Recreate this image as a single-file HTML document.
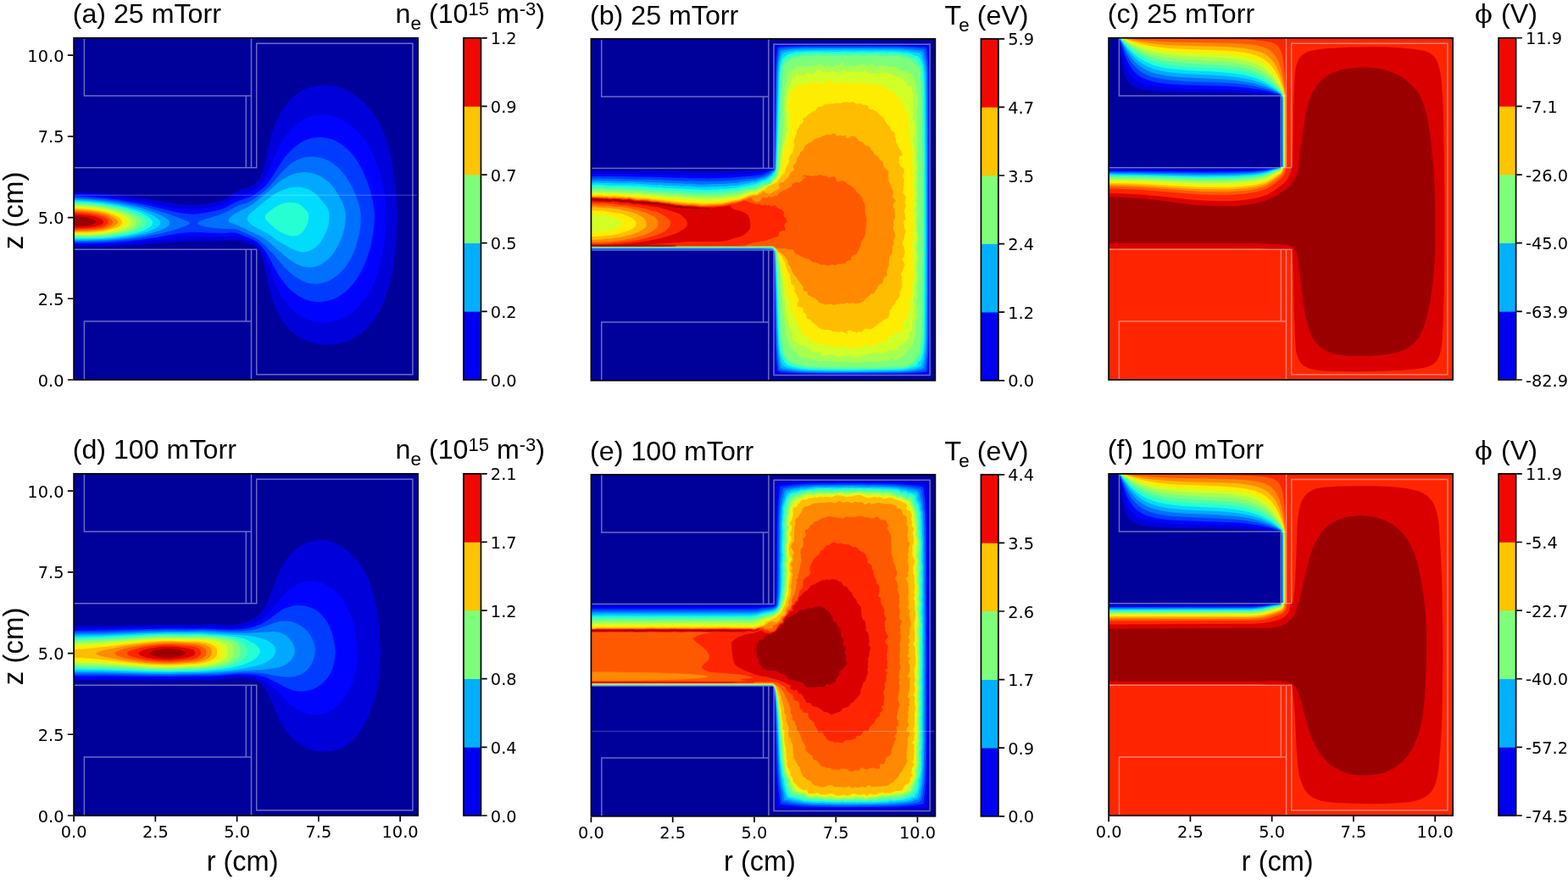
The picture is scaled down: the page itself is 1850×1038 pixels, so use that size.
<!DOCTYPE html>
<html lang="en"><head><meta charset="utf-8"><title>Plasma contour plots</title><style>html,body{margin:0;padding:0;background:#fff;}body{width:1850px;height:1038px;overflow:hidden;}svg{display:block;}text{white-space:pre;}</style></head><body>
<svg width="1850" height="1038" viewBox="0 0 1850 1038"><rect width="1850" height="1038" fill="#fff"/><g><clipPath id="c00"><rect x="87.10" y="44.80" width="406.00" height="403.20"/></clipPath>
<g clip-path="url(#c00)">
<rect x="86.10" y="43.80" width="408.00" height="405.20" fill="#00009b"/>
<path fill="#0000da" d="M376.8,406.2L381.8,406.7L385.8,406.8L394,406.3L402.1,404.8L406.6,403.5L410.3,402.2L417.1,399L421,396.8L423.8,394.8L430,390L433.4,386.9L436.1,384L441.5,377.2L445.6,371L449.8,363L453.9,353.6L457.6,342.8L460.5,332L463,319.9L465.1,306.4L466.8,291.6L468.1,274L468.7,257.9L468.5,244.4L467.5,229.5L465.1,208L462.9,193.1L460.1,179.6L458.4,172.9L456.4,166.6L452.4,155.6L448.3,146.7L445.6,141.7L442.9,137.2L437.4,129.5L434.7,126.2L430.6,121.8L424.6,116.3L421.1,113.6L417.1,110.8L412.6,108.2L407.6,105.8L403.5,104.1L399.3,102.8L394,101.5L389.9,100.9L385.8,100.5L380.4,100.4L376.3,100.7L371.3,101.4L365.9,102.8L362,104.1L358.7,105.6L353.9,108.2L351.8,109.5L347.8,112.5L345,114.9L341,119L338.3,122.2L335.6,125.8L332.9,130L330.2,134.7L326.1,143.1L322,153.6L319.3,162.4L316.6,173L312,194.5L309.8,202.6L308.2,206.6L305.7,211.2L304.1,213.4L301.6,216L299.9,217.4L297.6,219L294.9,220.2L288.1,222.3L281.3,225L275.8,227.9L266.3,234L263.6,235.4L261.4,236.3L256.8,237.5L250.1,239L239.2,240.8L229.7,241.5L221.5,241.4L213.4,240.8L205.2,239.8L168.6,234L140.1,230.4L123.8,228.7L112.9,227.8L87.1,226.2L87.1,290.8L118.3,290.7L140.1,290L167.2,288.5L199.8,285.9L213.4,285L225.6,284.5L243.3,284.5L259.5,284.2L263.6,284L274.5,282.9L277.2,283L279.9,283.5L294.7,287.5L298,288.9L300.3,290.2L301.9,291.6L304.5,294.3L307.1,298.1L308.5,301L309.8,304.5L311.1,309.5L316.9,337.4L318.6,344.2L320.7,351.3L323.4,359.2L326.1,365.7L328.8,371.2L332.9,378.1L336.9,383.7L341,388.3L346.5,393.2L351.9,397.2L358.4,400.8L364.1,403.1L369.8,404.8Z"/>
<path fill="#0004ff" d="M380.6,380.6L384.5,380.5L388.5,380.2L395.3,378.8L402.1,376.5L408.9,373.2L412.3,371.1L415.7,368.7L421.1,364.1L426.6,358.4L431.3,352.3L436.1,344.6L440.1,336.5L443.6,328L446.8,318.5L449.6,307.8L451.6,298.3L453.3,287.5L454.7,275.4L455.6,263.3L455.9,253.8L455.7,245.7L454.9,236.3L453.2,225.5L450.8,213.4L447.9,202.6L444.2,191.7L440.3,182.3L436.1,174L431.3,166.2L426.6,159.8L421.1,153.8L415.7,148.9L410.3,144.9L403.5,140.9L396.7,138.1L394,137.2L389.9,136.2L384.5,135.4L377.7,135.3L372.3,136L368.2,137L365.5,137.9L361.4,139.5L358.7,140.9L353.2,144.2L347.8,148.4L342.4,153.8L337.7,159.4L332.9,166.6L329.3,172.9L325.4,181L322,189.1L316.8,202.6L314.5,208L313.1,210.7L311.3,213.4L308.4,216.8L303,221.7L300.3,223.7L297.6,225.4L293.5,227.2L285.3,229.8L279.9,231.9L275.8,234L266.3,239.6L263.6,240.9L259.5,242.3L248.7,244.7L236.5,246.6L228.3,247.1L221.5,246.9L213.4,246.1L205.2,244.9L167.2,237.4L148.2,234.5L137.3,233.1L121,231.2L104.8,229.9L87.1,228.9L87.1,288.5L104.8,288.5L121,288.2L149.6,286.8L168.6,285.1L209.3,280.3L222.9,279.3L228.3,279.2L243.3,279.4L259.5,279.4L263.6,279.2L274.5,278.4L277.2,278.5L279.9,279.1L286.7,281.5L296.2,284.4L298.9,285.5L301.6,287.2L303.8,288.9L306.4,291.6L308.6,294.3L311.1,298.3L313.1,302.4L315.1,307.8L322,327.5L324.7,334.3L328,341.5L331.5,347.9L335.6,354.3L339.7,359.6L343.7,364.1L347.8,367.8L351.9,370.9L356,373.5L361.4,376.3L366.8,378.3L370.9,379.4L376.3,380.3Z"/>
<path fill="#003cff" d="M365.6,355L370.9,355.9L373.6,356.2L377.7,356.2L383.1,355.6L389.9,353.9L392.6,353L396.7,351.2L402.1,348.2L407.6,344.2L412,340.1L417.1,334.3L421.5,328L425.5,321.2L429.5,313.2L432.8,305.1L435.9,295.6L437.9,287.5L439.8,278.1L441,268.7L441.7,259.2L441.8,252.5L441.3,245.7L440,237.6L437.7,228.2L434.9,218.8L432,210.9L427.9,201.6L424.1,194.5L419.9,187.7L415.7,182.1L411,177L406.2,172.7L400.8,168.9L395.3,166L391.3,164.3L385.8,162.8L380.4,162L375,162L369.5,162.6L365.5,163.6L360,165.6L356,167.6L351.9,170.2L347.8,173.3L343.7,177L339.7,181.3L335.6,186.3L331.5,192.1L320.7,209.3L317,214.7L314.8,217.4L312.5,219.9L307.5,224.1L300.3,229.4L297.6,231L294.9,232.3L284,235.9L278.6,238L275.8,239.4L267.7,244L263.6,245.9L258.2,247.7L250,249.5L239.2,251.6L232.4,252.5L227,252.7L221.5,252.3L214.7,251.4L209.3,250.4L168.6,240.7L149.6,237.2L138.7,235.6L119.7,233.2L102,231.8L87.1,231L87.1,286.8L104.8,286.7L121,286.4L138.7,285.4L150.9,284.4L168.6,282.4L188.9,279.2L209.3,275.6L217.5,274.6L224.2,273.9L231,273.8L243.3,274.4L259.5,274.9L263.6,274.9L273.1,274.3L275.8,274.4L278.6,274.8L282.6,276.1L288.1,278.5L296.2,281.5L298.9,282.8L303,285.3L305.7,287.5L308.3,290.2L310.6,292.9L314.5,298.3L317.6,303.7L323.4,315.3L327.4,322.5L332.9,330.6L338.3,337.3L341,340.2L345.1,344L347.8,346.1L351.9,349L354.6,350.6L358.7,352.6L362.7,354.1Z"/>
<path fill="#0070ff" d="M368.5,334.7L373.6,334.9L379,334.2L384.5,332.6L388.5,330.9L392.6,328.6L397.3,325.3L401.9,321.2L405.6,317.2L408.9,313L412.3,307.8L415.2,302.4L417.6,297L420.1,290.2L422.4,282.1L423.9,275.4L425.1,268.7L425.6,263.3L425.8,257.9L425.6,252.5L424.8,247.1L423.6,241.7L421.9,236.3L419.4,229.5L416.4,222.8L413.7,217.4L410.4,212L406.7,206.6L403.4,202.6L399.4,198.3L395.3,194.7L391.3,191.8L387.2,189.5L381.8,187.1L377.7,185.9L372.3,184.9L368.2,184.7L364.1,184.9L358.7,185.8L354.6,187L350.5,188.7L346.5,191L343.7,192.8L338.3,197.2L332.9,202.6L318.9,218.8L314.9,222.8L308.4,228.2L301.6,233.3L297.6,236.1L294.9,237.6L292.1,238.9L282.6,242.1L278.6,243.7L267.7,249.6L263.6,251.6L259.5,253.2L239.9,259.2L236.5,260.6L233.9,261.9L232.7,263.3L233.8,264.6L236.9,266L241.9,267.3L244.6,267.8L250.4,268.7L260.9,269.8L265,270L273.1,270L275.8,270.1L278.6,270.6L281.3,271.4L284,272.5L300.3,280.1L303,281.6L305.7,283.5L309,286.2L311.8,288.9L321.1,298.3L330.2,309.1L335.6,315.2L341,320.4L345.1,323.9L347.8,325.9L351.9,328.6L357.3,331.5L362.7,333.6L365.5,334.3ZM87.1,285.3L99.3,285.3L112.9,285.1L123.8,284.7L138.7,283.6L149.6,282.6L167.2,280.2L190.3,275.4L204.8,271.3L217.3,267.3L220.6,266L222.8,264.6L223.7,263.3L222.6,261.9L220.2,260.6L217.1,259.2L202.3,253.8L193,250.6L186.2,248.4L171.3,244.1L165.9,242.8L149.6,239.4L138.7,237.6L123.8,235.5L106.1,233.9L87.1,232.8Z"/>
<path fill="#00a8ff" d="M357.9,314.5L362.7,315.3L366.8,315.4L370.9,314.8L375,313.6L379,311.7L383.1,309.1L387.2,305.7L390.4,302.4L394,297.8L397.1,292.9L400,287.5L402.9,280.8L404.8,275L406.5,268.7L407.6,261.9L408,256.5L407.9,252.5L407.3,248.4L406.2,244.4L404.6,240.3L401.3,233.6L397.4,226.8L394,221.8L390.4,217.4L387.7,214.7L384.5,211.9L380.4,209.2L376.3,207L372.3,205.4L368.2,204.2L364.1,203.5L360,203.2L357.3,203.3L353.2,203.7L350.5,204.2L346.5,205.3L342.4,206.8L339.7,208.1L334.2,211.2L331.5,213.1L327.4,216.2L316.9,225.5L297.6,241.2L292.1,244.5L279.9,250.4L276.5,252.5L274.7,253.8L271.7,256.5L270.5,257.9L269.7,259.2L269.6,260.6L270.6,261.9L273.2,263.3L279.9,265.5L285.3,267.9L294.8,272.7L304.4,277.1L309.8,280L314.8,283.5L336.9,302.5L342.4,306.7L346.5,309.5L350.5,311.8L354.6,313.5ZM87.1,283.9L100.7,283.9L114.3,283.6L123.8,283.2L138.7,282L149.6,280.7L165.9,278.1L171.9,276.7L181.9,274L188.9,271.8L193.2,270L195.7,268.7L197.7,267.3L199.2,266L200.1,264.6L200.4,263.3L200.2,261.9L199.5,260.6L198.3,259.2L196.6,257.9L192.3,255.2L189.6,253.8L183,251.1L175.5,248.4L168.6,246.1L163.1,244.6L150.9,241.8L141.4,240L123.8,237.2L106.1,235.5L87.1,234.4Z"/>
<path fill="#00dcfe" d="M353.5,297L357.3,297.4L360,297.3L362.7,296.7L365.8,295.6L369.5,293.6L372.3,291.7L375,289.3L377.7,286.2L380.4,282.3L382.7,278.1L384.6,274L386.6,268.7L387.7,264.6L388.3,260.6L388.5,256.5L388.4,252.5L388,249.8L387.1,247.1L384.9,243L376.3,232.4L373.6,229.7L370.9,227.4L368.2,225.5L365.5,224L362.7,222.8L360,221.9L357.3,221.2L353.2,220.6L350.5,220.5L346.5,220.7L342.4,221.3L339.7,221.9L332.9,224.2L327.2,226.8L320.9,230.9L313.9,236.3L296.1,251.1L293.6,253.8L292.7,255.2L292,256.5L291.7,257.9L291.8,259.2L292.4,260.6L293.3,261.9L294.6,263.3L298,266L300.1,267.3L316.6,276.1L319.3,277.9L327.4,283.9L342.4,292.4L347.8,295.1L350.5,296.1ZM87.1,282.6L98,282.6L110.2,282.4L122.4,282L140.1,280.3L149.6,279L154.6,278.1L164.5,276.1L168.6,275.1L175.6,272.7L182.1,270L184.6,268.7L186.2,267.6L188,266L188.9,264.6L189.3,263.3L189.2,261.9L188.6,260.6L187.6,259.2L186.1,257.9L182.1,255.2L176.9,252.5L170.9,249.8L167.2,248.4L152.3,244.2L138.7,241.3L122.4,238.7L104.8,237L87.1,235.9Z"/>
<path fill="#26ffd1" d="M87.1,281.4L92.5,281.4L107.5,281.3L121,280.7L138.7,278.9L150.9,277L157.7,275.4L165.9,273.2L169.9,271.7L173.5,270L177.5,267.3L178.9,266L179.7,264.6L180.1,263.3L180.1,261.9L179.6,260.6L178.7,259.2L177.5,257.9L174.1,255.2L169.6,252.5L166.7,251.1L163.1,249.8L150.2,245.7L138.7,243L121,240L104.8,238.4L87.1,237.4ZM341.7,278.1L345.1,278.6L349.2,278.3L351.9,277.4L353.2,276.7L355,275.4L356.4,274L358.7,271.4L361.2,267.3L363,263.3L363.9,259.2L364.2,255.2L364.1,252.5L363.7,251.1L362.7,249.4L356.1,243L354.4,241.7L351.9,240.3L350.5,239.8L346.5,239L342.4,238.8L338.3,239.1L333.2,240.3L328.8,242.1L324.6,244.4L317.2,249.8L314.3,252.5L313.4,253.8L312.9,255.2L312.8,256.5L313.2,257.9L313.9,259.2L314.9,260.6L317.6,263.3L325.3,270L328.8,272.5L331.6,274L337.6,276.7Z"/>
<path fill="#50ffa7" d="M87.1,280.3L104.8,280.2L119.7,279.6L125.1,279.1L137.3,277.6L149.6,275.4L159.2,272.7L163.2,271.3L167.2,269.6L169.9,267.8L171.7,266L172.5,264.6L172.9,263.3L172.9,261.9L172.5,260.6L171.8,259.2L170.8,257.9L169.4,256.5L167.2,254.9L164.5,253.4L159.2,251.1L152.3,248.5L148.2,247.3L138.7,244.8L126.5,242.4L121,241.5L104.8,239.8L87.1,238.8Z"/>
<path fill="#7dff7a" d="M87.1,279.1L102,279L114.3,278.6L123.8,278L140.1,275.6L148.2,273.8L152.2,272.7L155.8,271.3L161.7,268.7L163.9,267.3L165.4,266L166.4,264.6L166.9,263.3L166.9,261.9L166.5,260.6L165.9,259.5L164.5,257.9L162.9,256.5L158.4,253.8L150.9,250.3L140.1,246.9L125.1,243.6L118.3,242.6L103.4,241.1L87.1,240.2Z"/>
<path fill="#a7ff50" d="M87.1,278L102,277.9L112.9,277.5L123.8,276.7L138.7,274.2L149.4,271.3L152.8,270L155.3,268.7L157.3,267.3L158.8,266L159.9,264.6L160.4,263.3L160.5,261.9L160.1,260.6L159.3,259.2L158.1,257.9L154.8,255.2L152.6,253.8L148.2,251.8L138.6,248.4L125.1,245.2L118.3,244L103.4,242.5L87.1,241.6Z"/>
<path fill="#d1ff26" d="M87.1,276.7L103.4,276.7L118.3,275.9L125.1,275.2L137.3,272.8L141.4,271.7L146.2,270L149.5,268.7L150.9,267.8L153.2,266L154.2,264.6L154.7,263.3L154.8,261.9L154.5,260.6L153.8,259.2L152.7,257.9L151.3,256.5L149.6,255.4L146.6,253.8L141.4,251.5L136.4,249.8L125.1,246.8L118.3,245.5L103.4,243.9L87.1,242.9Z"/>
<path fill="#feed00" d="M87.1,275.7L91.2,275.7L107.5,275.4L119.7,274.5L126.5,273.5L137.3,270.9L140.2,270L143.2,268.7L145.6,267.3L147.5,266L148.2,265.3L148.8,264.6L149.5,263.3L149.6,261.9L149.3,260.6L148.4,259.2L147.1,257.9L143.4,255.2L141.1,253.8L137.3,252.2L125.2,248.4L118.6,247.1L108,245.7L98,244.9L87.1,244.3Z"/>
<path fill="#ffbd00" d="M87.1,274.5L106.1,274.2L118.3,273.3L125.1,272.2L134.6,269.6L137.4,268.7L140.2,267.3L142,266L143.1,264.6L143.8,263.3L143.9,261.9L143.6,260.6L142.9,259.2L141.8,257.9L140.2,256.5L138,255.2L131.7,252.5L123.8,249.8L117.1,248.4L106.7,247.1L98,246.3L87.1,245.8Z"/>
<path fill="#ff8900" d="M87.1,273.2L103.4,273L114.3,272.3L122.4,271.2L127,270L130.7,268.7L133.9,267.3L136,266.1L137.9,264.6L138.7,263.3L138.9,261.9L138.6,260.6L137.7,259.2L136.3,257.9L134.3,256.5L129.2,253.8L126.1,252.5L122.4,251.3L115.6,249.9L106.1,248.6L96.6,247.8L87.1,247.3Z"/>
<path fill="#ff5900" d="M87.1,271.9L103.4,271.6L112.9,270.9L121,269.7L125.1,268.6L128,267.3L130.2,266L131.8,264.6L132.7,263.3L133,261.9L132.7,260.6L131.8,259.2L130.5,257.9L128.7,256.5L125.1,254.5L121,252.9L112.9,251.2L104.8,250.1L95.2,249.3L87.1,248.9Z"/>
<path fill="#ff2500" d="M87.1,270.5L88.5,270.5L104.8,270L114.3,268.9L119.7,267.9L121.9,267.3L123.8,266.5L124.8,266L126.5,264.6L127.4,263.3L127.7,261.9L127.4,260.6L126.6,259.2L125.4,257.9L123.4,256.5L120.4,255.2L115.6,253.8L108.6,252.5L103.4,251.8L95.2,251L87.1,250.6Z"/>
<path fill="#da0000" d="M87.1,268.8L91.2,268.8L100.7,268.5L106.1,268L111.1,267.3L117,266L119.7,264.8L121.7,263.3L122.2,261.9L121.8,260.6L121,259.6L118.6,257.9L115.3,256.5L111.5,255.5L107.5,254.6L102,253.7L93.9,252.9L87.1,252.6Z"/>
<path fill="#9b0000" d="M87.1,266.7L88.5,266.7L96.6,266.4L103.4,265.9L109.1,264.6L112,263.3L113,261.9L112.6,260.6L110.9,259.2L107.8,257.9L106.1,257.4L102.4,256.5L99.3,256.1L92.5,255.3L87.1,255Z"/>
<path d="M83.2,197.7L302.7,197.7L302.7,51.3L486.9,51.3L486.9,441.7L302.7,441.7L302.7,294.2L83.2,294.2M99.4,41.0L99.4,113.0L296.5,113.0M296.5,41.0L296.5,197.7M290.3,113.0L290.3,197.7M99.4,451.8L99.4,379.1L296.5,379.1M296.5,451.8L296.5,294.2M290.3,379.1L290.3,294.2" fill="none" stroke="#fff" stroke-opacity="0.42" stroke-width="1.5"/>
<line x1="87.1" x2="493.1" y1="230.2" y2="230.2" stroke="#fff" stroke-opacity="0.28" stroke-width="1"/>
</g>
<rect x="87.10" y="44.80" width="406.00" height="403.20" fill="none" stroke="#000" stroke-width="1.70"/>
<text x="75.5" y="455.5" text-anchor="end" font-family='"DejaVu Sans", "Liberation Sans", sans-serif' font-size="19.4" fill="#000">0.0</text>
<text x="75.5" y="359.8" text-anchor="end" font-family='"DejaVu Sans", "Liberation Sans", sans-serif' font-size="19.4" fill="#000">2.5</text>
<text x="75.5" y="264.0" text-anchor="end" font-family='"DejaVu Sans", "Liberation Sans", sans-serif' font-size="19.4" fill="#000">5.0</text>
<text x="75.5" y="168.3" text-anchor="end" font-family='"DejaVu Sans", "Liberation Sans", sans-serif' font-size="19.4" fill="#000">7.5</text>
<text x="75.5" y="72.6" text-anchor="end" font-family='"DejaVu Sans", "Liberation Sans", sans-serif' font-size="19.4" fill="#000">10.0</text>
<text transform="translate(27.3,248.4) rotate(-90)" text-anchor="middle" font-family='"Liberation Sans", sans-serif' font-size="33.0" fill="#000">z (cm)</text>
<path d="M79.85,448.00h6.40M79.85,352.27h6.40M79.85,256.55h6.40M79.85,160.82h6.40M79.85,65.09h6.40" stroke="#000" stroke-width="1.70" fill="none"/>
<text x="85.7" y="26.8" font-family='"Liberation Sans", sans-serif' font-size="32.2" fill="#000">(a) 25 mTorr</text>
<rect x="546.96" y="367.06" width="20.50" height="81.24" fill="#0000f1"/>
<rect x="546.96" y="286.42" width="20.50" height="81.24" fill="#00b0ff"/>
<rect x="546.96" y="205.78" width="20.50" height="81.24" fill="#7dff7a"/>
<rect x="546.96" y="125.14" width="20.50" height="81.24" fill="#ffc400"/>
<rect x="546.96" y="44.50" width="20.50" height="81.24" fill="#f10800"/>
<rect x="546.96" y="44.80" width="20.50" height="403.20" fill="none" stroke="#000" stroke-width="1.70"/>
<text x="578.8" y="52.3" font-family='"DejaVu Sans", "Liberation Sans", sans-serif' font-size="19.4" fill="#000">1.2</text>
<text x="578.8" y="132.9" font-family='"DejaVu Sans", "Liberation Sans", sans-serif' font-size="19.4" fill="#000">0.9</text>
<text x="578.8" y="213.6" font-family='"DejaVu Sans", "Liberation Sans", sans-serif' font-size="19.4" fill="#000">0.7</text>
<text x="578.8" y="294.2" font-family='"DejaVu Sans", "Liberation Sans", sans-serif' font-size="19.4" fill="#000">0.5</text>
<text x="578.8" y="374.9" font-family='"DejaVu Sans", "Liberation Sans", sans-serif' font-size="19.4" fill="#000">0.2</text>
<text x="578.8" y="455.5" font-family='"DejaVu Sans", "Liberation Sans", sans-serif' font-size="19.4" fill="#000">0.0</text>
<path d="M568.31,44.80h6.40M568.31,125.44h6.40M568.31,206.08h6.40M568.31,286.72h6.40M568.31,367.36h6.40M568.31,448.00h6.40" stroke="#000" stroke-width="1.70" fill="none"/>
<text x="643.0" y="27.4" text-anchor="end" font-family='"Liberation Sans", sans-serif' font-size="32.2" fill="#000">n<tspan font-size="22.5" dy="8.0">e</tspan><tspan dy="-8.0"> </tspan>(10<tspan font-size="22" dy="-9.8">15</tspan><tspan dy="9.8"> m</tspan><tspan font-size="22" dy="-9.8">-3</tspan><tspan dy="9.8">)</tspan></text></g>
<g><clipPath id="c10"><rect x="697.40" y="45.80" width="406.00" height="403.00"/></clipPath>
<g clip-path="url(#c10)">
<rect x="696.40" y="44.80" width="408.00" height="405.00" fill="#00009b"/>
<path fill="#0000da" d="M921.3,441.7L934.1,441.8L1000.6,441.9L1070.2,441.9L1095.9,441.6L1096.2,441.4L1096.3,440.3L1096.6,396.7L1096.6,100L1096.3,53.2L1095.9,52.8L1055.2,52.7L942.7,52.7L921.3,52.8L913.8,53.2L913.4,84.1L913.1,197.9L912.7,198.6L905.2,199.5L896.7,200.8L883.8,201.3L854.9,201.9L827,202.1L745.6,201.5L697.4,201.3L697.4,294.8L896.7,294.8L910.6,295.1L912.7,295.4L912.9,295.7L913,296.7L913,303.1L913.4,404.1L913.8,440.3L914.9,441.2Z"/>
<path fill="#0004ff" d="M954.8,441.4L1062.7,441.3L1084.1,440.9L1094.8,440.5L1095.2,440.3L1095.5,439.2L1095.9,428L1096.1,398.8L1096.1,107.5L1095.9,68.7L1095.3,54.3L1094.8,53.9L1076.6,53.4L1061.6,53.2L940.6,53.2L921.3,53.5L918.1,54.1L915.9,54.7L915.5,55.4L914.7,67.1L914.3,78.8L913.5,196.8L913.5,197.9L913.1,198.9L912.7,199.3L909.2,200L902,202.4L897.7,203.6L896.7,203.7L888.1,204.5L867.7,205.8L849.5,206.4L834.5,206.5L815.2,206.4L747.7,205.2L697.4,204.8L697.4,294.3L897.7,294.3L910.6,294.6L912.7,295.1L913.1,295.7L913.2,296.7L913.4,304.2L914.2,409.5L914.7,426.5L915.6,439.2L915.9,439.6L918.7,440.3L921.3,440.7Z"/>
<path fill="#003cff" d="M940.4,440.3L957.7,440.6L984.5,440.7L1062.7,440.6L1073.8,440.3L1086.3,439.5L1092.7,438.9L1093.8,438.2L1095.1,420.1L1095.6,393.5L1095.7,248.9L1095.5,110.7L1095.4,88.3L1094.9,72.4L1093.5,56.4L1092.7,55.7L1076.6,54.7L1058.4,54.2L951.3,54.2L936.3,54.4L922.4,55L920.2,55.3L917.5,56.4L917.1,57.5L915.9,69L915.2,83L913.8,198.8L912.7,199.8L909.6,201L904.1,203.8L902,204.7L897.7,206.2L889.2,207.6L881.7,208L873.1,208.8L862.4,209.6L857,209.7L852.7,210.1L839.9,210.2L834.5,210.5L827,210.2L816.3,210.3L805.6,209.8L794.9,209.8L790.6,209.5L785.2,209.4L781,209L774.5,209.1L761.7,208.6L755.2,208.7L730.6,208.1L697.4,207.9L697.4,293.9L897.7,293.9L910.6,294.3L912.7,294.8L913.3,295.7L913.5,296.7L913.7,303.1L915,407.3L915.8,423.3L917.1,437.1L918.1,438.1L921.3,439.2Z"/>
<path fill="#0070ff" d="M942.8,439.2L957.7,439.7L986.6,440L1061.6,439.6L1071.8,439.2L1082,438.3L1090.5,437L1091.6,436.5L1091.8,436L1092.8,429.7L1093.8,420.1L1094.4,407.3L1094.6,393.5L1094.9,253.1L1094.7,123.4L1094.4,91.5L1093.9,77.7L1093.3,71.3L1092.5,66L1091.2,58.6L1090.5,58L1083,57L1076.4,56.4L1058.4,55.6L978.1,55.4L950.2,55.5L937.4,55.9L928.7,56.4L921.3,57.2L920.2,57.6L919.1,58.3L919,58.6L918.2,62.8L917,71.9L916.5,77.7L916.2,84.1L914.2,198.9L913.8,199.8L912.7,200.6L906.3,204.9L904.1,206.1L899.9,208L898.1,208.5L895.6,208.9L890.2,210.4L883.8,210.7L868.8,212.4L863.4,212.7L849.5,213.8L845.2,213.7L834.5,214L831.3,213.8L824.9,214L813.1,213.5L808.8,213.7L804.5,213.3L800.2,213.3L797,213.1L793.8,213.2L789.5,212.8L785.2,212.8L778.8,212.1L774.5,212.3L762.7,211.6L752,211.7L744.5,211.4L739.2,211.4L724.2,210.8L713.5,210.8L707,210.5L700.6,210.8L697.4,210.6L697.4,293.5L897.7,293.6L910.6,293.9L912.7,294.5L913.5,295.7L913.7,296.7L914.1,305.3L915.4,388.2L915.9,406.4L916.9,421.2L918.8,435L919.1,436.1L921.3,437.1L930.9,438.3Z"/>
<path fill="#00a8ff" d="M947.1,438.2L960.9,438.7L993.1,439L1039.1,438.8L1061.6,438.5L1069.1,438.1L1078.8,436.9L1083.4,436L1088.4,434.8L1089.6,433.9L1091.4,425.4L1092.4,418L1093.1,408.4L1093.5,396.7L1093.9,330.8L1093.9,203.2L1093.5,114.9L1093.2,89.4L1092.6,79.8L1091.6,72.6L1090.1,66L1088.9,61.7L1088.4,60.6L1082,59.2L1072.3,58.2L1062.7,57.5L1050.9,57.2L1020.9,57L971.6,57.1L945.9,57.3L937.4,57.7L928.8,58.6L923.4,59.5L922.4,59.7L921.3,60.2L920.1,62.8L918.7,70.3L917.8,76.6L917.3,84.1L916.8,99L915.1,186.2L914.7,198.9L913.8,200.7L907.4,206.4L905.2,207.8L900.9,209.8L895.6,211L891.3,212.7L887,212.9L882.7,213.8L875.2,214.5L868.8,215.9L862.4,215.9L855.9,216.8L840.9,216.9L828.1,217.7L818.5,217.2L814.2,216.7L809.9,216.9L801.3,216.3L786.3,216L778.8,215.2L774.5,215.2L771.3,214.9L760.6,214.6L756.3,214.3L752,214.3L745.6,213.8L734.9,214.1L724.2,213.5L721,213.5L716.7,213.3L712.4,213.4L703.8,213.1L697.4,213.5L697.4,293.2L897.7,293.2L910.6,293.6L911.6,293.8L912.7,294.3L913.7,295.7L914,296.7L914.4,304.2L916.3,387.1L917,406.3L918.1,419.1L919,425.4L920.2,431.9L920.9,433.9L921.3,434.3L923.4,435L928.8,436.1L934.1,436.9Z"/>
<path fill="#00dcfe" d="M952.3,437.1L966.3,437.6L999.5,437.9L1043.4,437.5L1061.6,437.2L1070.2,436.4L1078.4,435L1084.1,433.2L1087.1,431.8L1087.3,431.1L1087.9,428.6L1089.4,424.3L1090.9,415.8L1091.7,406.3L1092.2,395.6L1092.6,362.7L1092.8,307.4L1092.8,241.5L1092.7,188.3L1092.1,110.7L1091.9,94.7L1091.6,87.7L1090.7,78.8L1089.7,73.4L1087.3,66.2L1086.3,63.9L1085.2,62.7L1082,61.9L1076.6,61.4L1071.3,60.3L1057.3,59.2L1040.2,59L1026.3,59.1L1016.6,58.9L1008.1,59L1002.7,58.8L988.8,59L979.1,58.9L974.9,59.1L969.5,58.9L962,58.9L940.6,59.4L938.4,59.6L934.1,60.5L929.9,61.1L924.5,62.4L923.7,62.8L922.4,64.9L921.3,67.2L920.4,70.3L919.1,77.3L918.5,85.1L917.9,100L915.6,188.3L915.1,198.9L914.9,200L913.8,202L910.6,205.6L906.3,209.1L902,211.5L898.8,212L895.6,213.2L892.4,214.6L891.3,214.9L888.1,215L883.8,216.3L877.4,217.2L867.7,218.9L861.3,218.9L858.1,219.8L855.9,220.1L851.7,219.8L849.5,219.8L846.3,220.3L840.9,220L837.7,220.4L834.5,220.4L831.3,220.7L820.6,220.5L813.1,219.6L807.7,219.5L803.5,219.8L800.2,219.3L796,218.9L785.2,219.1L778.8,218.1L774.5,218.2L771.3,217.9L768.1,218L764.9,217.6L761.7,217.6L754.2,216.8L749.9,216.7L745.6,216.3L733.8,216.6L730.6,216.3L727.4,216.4L716.7,215.8L712.4,216L702.8,215.5L697.4,215.9L697.4,292.9L897.7,292.9L910.6,293.2L911.6,293.4L912.7,294L913.9,295.7L914.3,296.7L914.7,303.1L915.4,322.3L917,380.7L917.9,403.1L918.9,414.8L920.7,424.3L922,428.6L922.4,429.5L923.2,430.7L924.4,431.8L926.7,432.9L929.9,434L936.3,435.3L942.7,436.2Z"/>
<path fill="#26ffd1" d="M959.8,436L981.3,436.5L1008.1,436.6L1049.8,436.1L1060.6,435.7L1065.9,435.3L1072.3,434.3L1081,431.8L1082.3,430.7L1082.9,429.7L1083,428.3L1083.5,427.5L1086.3,424.6L1087,423.3L1087.3,422.4L1089.1,415.8L1090,408.4L1090.6,399.9L1090.8,391.4L1091.2,365.9L1091.5,296.7L1091.6,230.8L1091.1,155.3L1090.4,96.8L1089.7,86.2L1088.9,78.8L1087.4,73.4L1085.2,69L1084.6,68.1L1083,66.5L1082,66.1L1080.9,65.9L1073.4,63.2L1072.3,62.9L1069.1,62.6L1065.9,62.6L1061.6,61.7L1050.9,61L1046.6,61.3L1041.3,60.8L1038.1,61L1033.8,60.9L1027.3,61.2L1023.1,60.9L1019.8,61.1L1016.6,60.8L1013.4,61L1011.3,60.9L1008.1,61.4L1003.8,60.9L1000.6,61.1L996.3,60.8L987.7,61.2L979.1,60.9L974.9,61.4L969.5,60.7L966.3,61L962,60.7L958.8,61L950.2,61.1L943.8,61.7L940.6,61.4L939.5,61.6L935.2,63.1L930.9,63.8L926.6,66.1L925.6,67L923.4,69.2L922.4,71.3L921.8,74.5L920.4,78.8L919.6,88.3L916.2,187.2L915.6,198.9L914.9,201.7L913.8,203.8L911.9,206.4L907.4,210.4L903.1,213.1L899.5,213.8L897,214.9L894.5,215.6L892.4,216.8L890.2,217.6L882.7,219L876.3,219.9L867.7,221.8L863.4,221.9L855.9,223L852.7,222.8L846.3,223.5L840.9,223.5L835.6,223.9L822.7,223.4L819.5,223.5L814.2,223.1L811,223.1L806.7,222.6L798.1,222.4L793.8,222L788.5,221.8L783.1,222L778.8,221.1L773.5,221.2L761.7,219.9L757.4,219.8L753.1,219.2L746.7,219.5L741.3,219L733.8,219L730.6,218.7L719.9,219L706,217.8L697.4,218.2L697.4,292.6L897.7,292.6L910.6,292.8L911.6,292.9L912.7,293.7L914.2,295.7L914.6,296.7L915.1,302.1L915.8,315.9L917.7,372.2L918.7,396.7L919.1,403.2L920.2,413.2L920.7,415.8L921.7,419L923.3,423.3L925.1,426.5L927.4,429.7L929.5,430.7L935.2,433L936.3,433.2L939.5,433.5L942.7,434.5L954.5,435.7Z"/>
<path fill="#50ffa7" d="M976.2,435L994.1,435.3L1001.6,435.1L1008.1,435.2L1013.4,434.9L1017.7,435.1L1035.9,434.9L1048.8,434.3L1053.1,434.3L1058.4,433.9L1064.8,433.9L1069.1,433.3L1070.9,432.9L1073.4,431.8L1077.7,430.3L1078.8,429.7L1079.9,428.6L1082.1,424.3L1084.6,421.2L1086.3,418L1087.1,415.8L1087.4,412.6L1088.1,409.5L1088.4,406.6L1088.9,401L1089,395.6L1089.4,391.4L1089.2,380.7L1089.6,374.4L1089.9,358.4L1089.8,352L1089.5,346.7L1089.8,342.5L1090.1,316.9L1090,282.9L1090.3,245.7L1089.8,174.5L1089.4,166L1089.7,155.3L1089.5,150L1089.4,142.6L1089.1,137.2L1089.3,128.7L1088.9,112.8L1089,101.1L1088.7,95.8L1088,92.6L1088,89.4L1087.1,79.8L1086.3,77.7L1082.7,73.4L1081.5,70.3L1080.9,69.4L1079.8,69L1075.5,68.3L1074.5,67.8L1072.3,66.2L1071.3,65.8L1065.9,65.2L1062.7,63.9L1061.6,63.6L1058.4,63.8L1055.2,63.4L1050.9,63.1L1046.6,63.8L1045.6,63.7L1042.3,62.7L1041.3,62.7L1038.1,63.2L1033.8,62.6L1030.6,63L1027.3,63.1L1024.1,62.9L1019.8,63.3L1016.6,62.9L1013.4,63.2L1011.3,62.9L1008.1,63.2L1004.8,63.1L1000.6,64.1L999.5,64.1L996.3,63.1L995.2,63L992,63.4L988.8,63.3L984.5,63.4L982.3,63.3L979.1,62.9L973.8,63.6L971.6,63.4L968.5,62.8L963.1,62.8L958.8,63.4L955.6,63.4L952.4,63L951.3,63.1L944.9,64.5L941.6,64.6L935.2,66L932,66.2L929.9,67.2L928.3,68.1L926.6,70.3L925.6,71.2L924.7,72.4L923.6,75.6L922.2,78.8L921.9,79.8L921.9,83L920.9,89.4L920.6,97.9L920.7,101.1L920.1,106.4L919,138.3L916.8,190.4L916.2,198.9L915.1,203.2L913.8,206.2L912.7,207.6L910.6,209.6L907.4,214.1L906.3,214.9L905.2,215.1L902,215.2L899.9,215.6L895.6,217.4L892.4,219.3L891.3,219.7L887,220.5L883.8,221.5L877.4,222.1L873,223.4L867.7,224.5L862.4,224.8L857,225.9L850.6,225.8L847.4,226.3L844.2,226.2L834.5,227L832.4,226.9L828.1,226.5L820.6,226.6L813.1,225.9L807.7,225.7L801.3,224.9L797,225.2L794.9,225.1L788.5,224.3L786.3,224.3L783.1,224.8L782,224.7L777.7,223.9L772.4,224L770.2,223.7L767,223.5L760.6,222.6L754.2,222.2L748.8,222.3L742.4,222L736,221.3L729.5,221.1L721,221.5L706,220.1L697.4,220.9L697.4,292.1L897.7,292.1L910.6,292.3L911.6,292.5L912.7,293.3L914.5,295.7L915.2,297.8L915.4,299.9L916.3,313.8L919.6,391.4L920.3,401L922.4,414.8L923.2,418L923.8,419L925.4,421.2L927.6,425.4L928.8,427L931.3,428.6L934.1,429.7L936.3,430.9L937.4,431.2L940.6,431.5L943.8,432.6L951.3,433.8L956.6,434.3L960.9,434.3Z"/>
<path fill="#7dff7a" d="M971.6,433L981.3,432.8L986.6,433.4L993.1,433.7L1001.6,433.3L1009.1,433.5L1014.5,432.9L1017.7,433.3L1022,433.4L1025.2,433.2L1038.1,433.2L1042.3,432.8L1044.5,432.8L1047.7,432.2L1052,432.4L1057.3,432.1L1064.8,432.1L1068,431.7L1070.2,431.1L1075.5,428.5L1077,427.5L1077.8,426.5L1078.9,424.3L1082.4,420.1L1084.1,417.3L1084.7,415.8L1085.3,409.5L1086.3,405.6L1086.7,403.1L1086.9,399.9L1086.8,397.8L1087.6,392.4L1087.2,385L1087.3,380.7L1087.8,376.5L1087.9,363.7L1088.3,357.4L1087.7,346.7L1088.3,342.5L1088.2,338.2L1087.9,335L1088.5,330.8L1087.9,323.3L1087.9,322.3L1088.4,320.1L1088.5,318L1088.2,311.6L1088.5,307.4L1088.2,304.2L1088.6,301L1088.5,296.7L1088.2,293.6L1088.4,289.3L1088.5,277.6L1088.1,274.4L1088.6,271.2L1088.6,264.8L1088.4,260.6L1088.7,253.1L1088.4,234L1088.6,226.6L1088.4,209.6L1088.6,203.2L1088.5,191.5L1088.2,187.2L1088.4,183L1088.2,176.6L1087.9,170.2L1087.3,166L1088,156.4L1087.5,152.1L1087.7,143.6L1087.2,133L1087.6,128.7L1087.2,118.1L1087.3,113.9L1087,109.6L1087,103.2L1086.5,95.8L1085.9,92.6L1086.3,89.4L1085.6,86.2L1085.3,83L1084.5,80.9L1084,79.8L1080.9,76.3L1079.8,75.4L1077.7,74.2L1076.8,73.4L1076.1,72.4L1074.5,70.7L1071.3,68.4L1070.2,67.9L1068,67.6L1064.8,67.5L1061.6,65.9L1060.6,65.8L1056.3,66.6L1055.2,66.6L1053.1,66.1L1050.9,66.1L1045.6,66.9L1041.3,65.9L1039.1,66.3L1038.1,66.2L1033.8,64.9L1030.6,65.5L1024.1,65.3L1019.8,66.5L1018.8,66.4L1015.6,65.4L1013.4,65.5L1010.2,65.3L1005.9,65.3L1003.8,65.8L1001.6,66.5L1000.6,66.6L995.2,65.4L994.1,65.3L992,65.7L988.8,65.7L985.6,66.5L984.5,66.5L978.1,65.2L971.6,65.9L965.2,65.1L963.1,65.3L958.8,66.6L957.7,66.7L955.6,66.4L952.4,65.6L951.3,65.7L948.1,66.5L942.7,66.8L939.5,67.9L933.1,69.1L932,69.5L931.1,70.3L929.9,72.5L928.8,73.4L926.6,74.8L926,75.6L924.4,78.8L924.1,79.8L923.9,84.1L922.8,90.5L922.7,92.6L922.3,96.8L922.6,101.1L921.9,106.4L921.8,110.7L921.2,116L921.3,122.4L920.4,135.1L920.6,138.3L920.2,141.5L920,147.9L919.1,156.8L918.8,171.3L918.1,178.7L917.8,191.5L917.5,194.7L917,196.8L916.6,202.1L915.9,204L915.4,206.4L914.3,208.5L911.6,211.4L909.9,214.9L908.8,215.9L907.4,216.7L904.1,217.4L903.1,217.3L902,217.5L897.7,218.8L894.5,221.1L891.3,222.5L890.2,222.6L888.1,222.5L887,222.7L883.8,223.7L877.4,224.6L873.1,225.9L866.7,227.2L859.2,228.2L851.2,228.7L847.4,229.4L844.2,229.2L840.9,229.6L836.7,229.4L832.4,229.6L828.1,229L823.8,229.8L822.7,229.8L819.5,229.3L808.8,228.8L804.5,228L799.2,227.5L793.8,227.9L791.7,227.7L787.4,227L783.1,227.1L776.7,226.4L773.5,226.4L767,226.1L761.7,225.6L758.5,224.9L756.3,224.7L752,224.9L745.6,224.2L741.3,224.4L737,224L734.9,224.1L731.7,223.8L718.8,223.7L709.2,222.7L697.4,223L697.4,291.5L911.6,291.6L914.6,294.6L914.9,295.7L915.7,296.7L915.9,302.1L916.5,304.2L916.7,306.3L917,316.3L917.7,322.3L918.1,337.1L918.5,341.4L918.9,347.8L919.1,358.8L919.9,365.9L920.1,374.4L920.6,381.8L921.1,386.1L921.3,393.5L921.6,395.6L921.9,399.9L922.4,403.2L924.5,411.6L924.9,415.8L925.5,418L928.7,422.2L929.9,424.4L930.9,425.4L936.3,427.5L938.4,428.9L939.5,429.4L943.8,429.8L947,430.7L950.3,431.8L954.5,431.9L957.7,432.3L960.9,432.2L964.1,432.7Z"/>
<path fill="#a7ff50" d="M1004,427.5L1005.9,427.7L1008.1,427.3L1009.1,427.3L1012.3,428L1016.6,427.1L1019.8,427L1026.3,426L1028.4,426.2L1030.6,426.8L1031.6,426.9L1034.8,426.8L1038.1,425.8L1041.3,426.1L1044.5,425.8L1046.6,426.1L1047.7,426L1048.8,425.4L1051.5,423.3L1053.1,422.8L1054.1,423.1L1056.3,424.2L1057.3,424.5L1058.4,424.4L1062.7,421.7L1065.9,420.6L1066.5,420.1L1068,416.9L1070.4,414.8L1071.6,412.6L1072.3,411.8L1074.5,410.6L1075.8,409.5L1076.4,408.4L1076.6,406.3L1077.8,404.1L1078.2,401L1080.9,394.6L1081,393.5L1080.5,391.4L1080.2,388.2L1080.3,387.1L1081.1,383.9L1080.5,381.8L1080.5,380.7L1082.3,375.4L1082.5,373.3L1081.9,370.1L1082.5,366.9L1082.5,365.9L1081.8,362.7L1081.5,359.5L1080.7,356.3L1080.9,355L1082.6,352L1082.7,349.9L1083.1,347.8L1083.1,346.7L1081.7,342.5L1081.7,341.4L1082.8,339.3L1082.8,338.2L1082.4,336.1L1082.5,335L1082.9,332.9L1083.8,330.8L1083.8,329.7L1083.1,326.5L1083.3,323.3L1082.9,320.1L1083.2,316.9L1083,315.9L1082.5,314.8L1082.5,313.8L1083.7,305.3L1083.7,301L1083.5,299.9L1082.6,297.8L1081.7,293.6L1082.8,288.2L1082.8,286.1L1083,285L1083.6,282.9L1083.7,278.7L1082.9,275.5L1082.8,274.4L1083.1,271.2L1082.5,269.1L1082.2,265.9L1081.4,262.7L1081.5,261.7L1082.6,259.5L1082.9,258.5L1082.7,255.3L1083.4,253.1L1083.5,252.1L1083.3,251L1082.3,248.9L1082,247.8L1082.2,246.8L1083.1,243.6L1083.3,241.5L1083,240.4L1081.9,238.3L1081.7,237.2L1082,236.1L1083.1,234L1083.4,232.9L1083,227.6L1082.9,221.2L1082.2,218.1L1082.1,217L1083.2,211.7L1083.2,209.6L1082.7,207.4L1082.6,205.3L1083.5,197.9L1083.3,191.5L1082,188L1081.6,186.2L1081.7,185.1L1082.4,183L1082.5,181.9L1081.9,178.7L1082.6,175.5L1083.1,171.3L1082.7,168.1L1082.7,163.8L1082.2,160.6L1082.9,157.4L1083,156.4L1082.8,153.2L1082.2,150L1082.1,147.9L1081.6,143.6L1082,142.1L1083.2,140.4L1083.5,139.4L1083.3,138.3L1081.6,136.2L1081.3,135.1L1081.9,131.9L1081.6,129.8L1081.8,128.7L1082.7,126.6L1083.1,124.5L1082.7,117L1083.4,113.9L1083.4,112.8L1083,111.7L1080.9,108.5L1080.6,107.5L1080.8,106.4L1082,104.3L1081.8,103.2L1080.7,101.1L1080.4,100L1079.2,94.7L1078.8,93.6L1076.9,90.5L1076.6,89.4L1076.7,88.3L1076.6,87.3L1075.5,86.6L1073.4,86.5L1072.3,86.2L1071.3,85.7L1069.1,84.1L1065.9,83L1064.8,82.9L1062.7,83.7L1061.6,83.3L1060,82L1056.9,78.8L1055.2,77.7L1054.1,77.7L1052,78.8L1049.8,79.1L1048.8,79.1L1047.7,78.8L1044.5,77.4L1041.3,76.8L1040.2,77L1034.8,78.8L1033.8,78.8L1030.6,76.4L1029.5,76.1L1027.3,76.2L1024.1,77.6L1023.1,77.7L1022,77.5L1020.9,76.9L1018.8,75.2L1017.7,75.1L1014.5,76.2L1012.3,76.6L1009.1,78L1008.1,78.1L1007,78L1004.8,77.2L1003.8,77L1000.6,77.9L999.5,77.9L996.3,76.9L994.1,76.9L993.2,76.6L995.2,76L995.4,75.6L995.6,74.5L994.9,73.4L994.1,73L993.1,73L992.6,73.4L992.3,74.5L992.2,75.6L991.2,76.6L988.8,77.1L987.7,76.9L985.6,76.2L984.5,76.6L983.4,78.2L982.6,78.8L981.3,78.9L980.2,78.6L978.1,77.4L977,77.2L974.9,77.9L973.8,78L970.6,77.1L969.9,76.6L969.1,75.6L968.4,73.1L967.8,73.4L967.6,74.5L966.4,76.6L965.2,77.4L964.1,77.6L960.9,76.8L959.9,76.8L957.7,77.5L955.6,78.6L953.4,77.9L950.2,78.7L949.1,78.7L945.9,78.3L940.6,79L939.5,79.3L938.5,79.8L937.4,81L935.2,82.4L934.9,83L933.7,84.1L933.1,84.4L930.9,84.5L929.9,85.1L929.5,86.2L929,89.4L929.4,92.6L929.3,94.7L928.8,96.3L927.3,97.9L926.9,99L926.7,101.1L925.8,104.3L925.7,105.3L925.6,111.7L924.3,116L924.3,118.1L924.8,122.4L924.7,125.5L924.2,128.7L924,133L924.2,135.1L925.1,138.3L925.1,139.4L924.5,142.6L925.1,145.8L923.6,154.3L923.6,160.6L923.1,163.8L922.9,167L922.4,170L921.6,172.3L920.9,176.6L920.7,180.8L919.1,196.9L917.6,205.3L916.8,207.4L915.7,209.6L912.7,212.4L911.1,214.9L910.2,215.9L908.4,217L906.1,218.1L903.1,218.8L900.9,220L897.7,221.2L894.5,222.9L892.4,224.3L890.2,224.7L888.1,224.4L887,224.5L882.7,226L880.6,226.5L878.4,226.8L872.5,228.7L866.7,229.8L863.4,230.1L859.2,230.2L853.8,231.5L848.4,232L844.2,232L839.9,232.3L830.2,232L827,231.6L823.8,232L819.5,231.7L817.4,231.8L812,231.6L805.6,230.7L801.3,230.5L798.1,230L794.9,230.4L792.7,230.4L785.9,229.8L778.8,228.8L773.5,228.9L769.2,228.1L761.7,227.9L758.5,227.2L755.2,226.8L746.7,227.2L740.2,226.8L737,226.3L733.8,226.5L727.4,225.9L715.6,225.6L710.3,225.2L706,225.4L699.5,225.2L697.4,225.4L697.4,291.3L912.7,291.3L915,293.6L915,294.6L916.1,295.7L916.3,297.8L917.2,298.9L917.6,304.2L918.6,309.5L919.1,313.3L919.7,319.1L920.2,322.5L920.4,326.5L921.1,331.8L921.3,342.5L922,346.7L922,349.9L922.1,352L923,355.2L923.1,356.3L923.1,359.5L923.7,365.9L923.6,369.1L923.9,372.2L924.1,373.3L925.5,377.6L925.4,380.7L926.7,383.9L926.9,385L926.9,388.2L927.2,390.3L926.7,393.5L927.4,395.6L928.8,397.8L929.9,400.4L930.3,402L930.5,405.2L932.9,409.5L935.2,411.6L935.9,412.6L936.3,413.7L937.3,414.8L938.4,415.3L938.9,415.8L940.6,417.8L942.8,420.1L943.8,421.4L944.9,422.3L947,423L948.1,423.3L950.2,422.7L951.3,422.7L953.4,423.2L956.6,423.5L958.8,424.2L963.1,425.1L966.3,426.3L967.4,426.4L970.6,425.3L971.6,425.3L973.8,425.7L977,425.4L980.2,425.9L983.4,426.9L984.5,427L988.8,427.1L992,426.6L995.2,426.9L998.4,426.7L1001.6,426.9Z"/>
<path fill="#d1ff26" d="M987.9,421.2L988.8,421.7L989.8,421.6L990.9,421.2L993.1,419.9L994.1,419.6L995.2,419.6L997.3,420.2L998.4,420.2L1002.7,418.8L1003.8,418.8L1005.9,419.9L1008.1,420.3L1010.2,421.5L1011.3,421.6L1019.8,418.5L1022,418.2L1025.5,416.9L1027.3,416.7L1029.5,416.7L1034.8,415.6L1035.9,415.7L1038.1,416.5L1039.1,416.5L1044.5,415.4L1047.7,413.5L1049.8,412.6L1050.9,412.4L1052,412.6L1054.1,414L1055.2,414.1L1056.3,413.8L1058,412.6L1059.5,411.2L1060,410.5L1060.5,408.4L1061.1,407.3L1061.6,407L1064.8,406.5L1065.9,406.1L1066.7,405.2L1067.4,403.1L1068,401.7L1069.1,401.2L1070.2,401.1L1071.3,400.7L1074,397.8L1074.7,396.7L1074.3,395.6L1072.8,394.6L1072.5,393.5L1073.4,392.1L1075.5,390.6L1075.7,390.3L1076.2,387.1L1077,383.9L1076.9,382.9L1076,380.7L1076,379.7L1076.8,377.6L1077.4,376.5L1078.8,375.2L1079.1,374.4L1079.2,373.3L1079,372.2L1078.1,369.1L1078.3,368L1078.9,366.9L1078.8,365.9L1078,364.8L1077.6,363.7L1078.1,362.7L1079,361.6L1079.5,360.5L1079.4,359.5L1077.7,356.3L1077.4,354.2L1077.5,353.1L1078.3,351L1078.5,348.8L1078.9,347.8L1079.6,346.7L1079.9,345.7L1079.7,344.6L1078.6,342.5L1078.3,341.4L1078.6,338.2L1079.8,335.4L1080.2,334L1080.3,331.8L1080.2,328.6L1080.8,323.3L1080.7,322.3L1080,320.1L1079.4,314.8L1080.3,308.4L1081.6,305.3L1081.7,304.2L1081.5,303.1L1080.6,301L1080.4,299.9L1080.5,296.7L1079.8,293.6L1079.8,291.4L1079.5,289.3L1079.5,288.2L1079.8,287.2L1081.3,284L1081.5,282.9L1081.3,280.8L1081.6,277.6L1080.9,274.8L1080,272.3L1080.3,267L1079.5,262.7L1079.6,261.7L1080.4,258.5L1079.6,255.3L1080.2,253.1L1080.3,252.1L1079.1,247.8L1078.9,245.7L1079.2,244.6L1080.9,242.5L1081,241.5L1080,239.3L1079.8,238.3L1079.9,234L1079.8,231.9L1080.6,228.7L1080.7,227.6L1080.6,226.6L1080.2,225.5L1079.4,224.4L1079,223.4L1079.7,220.2L1079.4,218.1L1079.4,217L1080.3,212.7L1080.2,210.6L1080.3,208.5L1079,202.1L1079.3,201L1081,198.9L1081,197.9L1080.8,196.8L1079.7,193.6L1080.1,189.3L1080,188.3L1079.3,186.2L1079.3,185.1L1080.3,183L1080.4,181.9L1080.3,180.8L1079.3,178.7L1079.1,177.7L1078.7,174.5L1079.1,171.3L1078.4,169.1L1077.1,163.8L1077.3,162.8L1078.6,160.6L1079.1,158.5L1079.9,156.4L1080,154.3L1079.7,150L1079.9,147.9L1079.8,146.8L1078.2,142.6L1077.7,141.5L1076.6,140.6L1076.2,139.4L1076.2,138.3L1077.3,136.2L1078.1,133L1078.1,131.9L1077.1,129.8L1077.7,126.6L1077.8,125.5L1077.5,123.4L1077.3,118.1L1077.4,117L1078,114.9L1078.1,113.9L1076.9,108.5L1075.3,105.3L1075.8,103.2L1075.7,102.2L1075.5,101.9L1074.5,101.6L1070.7,101.1L1070,100L1069.7,97.9L1068,96.9L1067,95.7L1064.8,92.3L1063.8,91.7L1061.6,91.6L1060.6,91.3L1058.7,90.5L1056.3,89L1054.1,88.5L1052,87.7L1049.8,87.2L1048.1,86.2L1046.6,85.1L1045,85.1L1042.3,86.2L1040.2,85.7L1039.1,85.7L1035.9,86.8L1034.8,86.9L1030.6,86.4L1026.3,86.7L1025.2,86.5L1024.1,85.9L1022,83.8L1020.9,83.7L1018.8,84.5L1017.7,84.6L1015.6,84.1L1014.5,84.2L1012.3,85.1L1009.1,84L1008.1,84.1L1004.8,84.6L1002.7,85.3L1001.6,85.2L1000.6,84.5L999.5,84.2L995.2,83.5L994.1,83.6L993.2,84.1L992,86.2L990.9,86.3L989.8,85.4L988.8,84.9L986.6,85.3L985.6,85.2L983.4,84.1L982.3,84L979.1,84.3L977,85.2L975.9,85.4L974.9,85.1L973.8,84.5L972.7,84.5L971.6,85L970.6,84.9L967.4,83.1L965.2,82.5L964.1,82.7L963.1,83.4L961.9,85.1L961.7,86.2L960.9,86.8L957.7,86.4L955.6,85.7L953.4,85.1L952.4,85.3L951.3,85.9L949.9,87.3L947,88.6L945.9,88.7L941.6,87.9L940.6,88.1L938.4,89.8L935.3,91.5L935,92.6L935.1,93.6L934.9,94.7L933.1,96.7L932.3,100L929.8,104.3L929.8,106.4L928.8,109.6L928.4,114.9L927.5,117L927.5,118.1L927.8,120.2L928,124.5L927.9,125.5L927,128.7L926.9,130.9L927.3,131.9L927.7,132.6L928.9,133L929.5,134.1L929,135.1L928,136.2L927.6,137.2L927.6,139.4L928.2,141.5L928.2,142.6L928,145.8L927.3,148.9L927.4,150L928.5,152.1L928.8,153.2L928.5,154.3L927,157.4L926.5,161.7L924.4,170.2L923.4,173.4L922.6,177.7L922.3,181.9L921.1,190.4L920.8,194.7L918.4,206.4L916.9,209.6L916,210.6L913.4,212.7L911,215.9L906.3,218.5L903.1,219.8L902.4,220.2L900.9,221.8L900,222.3L897.7,222.7L895.6,223.6L892.4,225.9L891.3,226.1L888.1,225.9L887,226.1L883.8,227.5L880.6,228.1L872,230.9L869.9,231.4L866.7,231.8L860.2,232.3L853.8,233.8L848.4,234.1L845.2,234L836.7,234.8L833.4,234.4L830.2,234.4L825.9,234L818.5,234L814.2,233.5L811,233.6L806.6,232.9L801.3,232.7L797,232.1L786.3,232L778.8,230.7L772.4,230.8L768.1,229.8L760.6,229.9L755.2,228.6L751,228.5L746.7,229L741.3,228.5L737,227.9L730.6,227.9L724.2,227.3L715.6,227.4L709.2,226.8L706,227.2L700.6,226.9L697.4,227.1L697.4,291.2L912.7,291.1L915.2,293.6L915.3,294.6L916.3,295.7L916.7,297.8L917.6,298.9L918.1,302.4L919.3,307.4L920.7,314.8L921.2,319.1L922,322.3L922.3,326.5L923.4,329.7L923.6,330.8L923.5,334L923.7,338.2L924.4,340.3L925.7,342.5L925.7,343.5L925.1,345.7L925,351L926,354.2L926.2,355.2L925.9,358.4L925.9,359.5L926.4,362.7L926.5,366.9L927.5,370.1L927.5,373.3L927.8,374.4L929.1,376.5L929.9,378.6L930.4,380.7L930.7,383.9L931.5,386.1L933.1,389.1L934.1,390L935,390.3L936.1,391.4L935.7,392.4L935,393.5L934.7,394.6L935.2,395.6L935.4,396.7L934.9,398.8L934.9,399.9L935.4,401L936.3,401.6L938.4,402.6L939.5,403.4L941.1,405.2L941.6,406.3L942.7,407.3L943.8,407.5L947,406.8L948.1,406.9L949.1,407.6L950.2,409.1L951.3,409.9L953.4,410.1L954.5,410.4L955.4,411.6L955.7,412.6L956.6,413.7L958.8,415.1L963.1,415.8L967.4,415.1L968.4,415.5L969,418L969.5,419L970.6,419.9L971.6,420.1L973.8,419.1L974.9,418.9L975.9,419.2L977,419.1L979.1,417.9L980.2,417.7L985.6,418.8L986.6,419.6Z"/>
<path fill="#feed00" d="M1001.6,411.2L1002.7,411.1L1004.8,410L1005.9,410L1008.1,410.6L1009.1,410.8L1010.2,410.8L1012.3,409.4L1013.4,409.2L1015.6,409.4L1016.6,409.3L1017.7,408.7L1019.8,407.1L1020.9,406.7L1022,406.8L1024.1,408.4L1025.2,408.6L1026.3,408.5L1028.4,407.9L1031.6,406.5L1033.8,406L1037.4,404.1L1039.1,403.5L1040.2,403.7L1041.3,404.3L1042.3,404.5L1043.4,404.4L1044.9,403.1L1045.9,401L1046.7,399.9L1048,398.8L1049.8,396.6L1052,396.1L1053.1,395.6L1053.8,394.6L1054.2,393.5L1055,392.4L1056.3,392.3L1058.4,392.8L1059.5,392.5L1061.6,391.3L1063.8,390.8L1064.3,390.3L1065.1,389.3L1065.3,388.2L1064.7,385L1065.5,380.7L1067,377.7L1068,376.5L1070.2,376L1070.7,375.4L1070.9,374.4L1070.9,369.1L1072.3,365.7L1073.7,363.7L1074.5,361.6L1074.7,360.5L1074.5,359.5L1072.6,356.3L1072.4,355.2L1074.2,352L1074.7,351L1075.1,348.8L1076.1,346.7L1076.2,345.7L1076.1,343.5L1075.4,340.3L1075.3,338.2L1075.8,334L1076.7,330.8L1077.7,324.4L1077,320.1L1077.8,313.8L1078,307.4L1077.7,306.1L1077.1,305.3L1075.5,304.1L1074.8,303.1L1074.6,302.1L1074.9,301L1075.5,300L1077.6,298.9L1078.5,297.8L1078.6,296.7L1078.1,295.7L1076.6,293.9L1075,290.4L1074.9,289.3L1075,288.2L1075.5,286.5L1076.6,285.1L1078.2,284L1078.9,282.9L1078.6,281.9L1077.7,279.4L1076.6,277.6L1076.5,276.5L1077.2,274.4L1077,272.3L1077.3,271.2L1078.4,269.1L1078.6,268L1077.9,262.7L1078.4,259.5L1078.2,258.5L1077.5,257.4L1077,256.3L1077.6,253.1L1077.6,252.1L1076.8,244.6L1076.9,243.6L1077.9,241.5L1078.2,237.2L1078.2,236.1L1077.2,232.9L1077.2,231.9L1078.3,228.7L1078.5,227.6L1078.1,226.6L1077.3,225.5L1077,224.4L1077.1,223.4L1077.8,221.2L1078,220.2L1077.8,219.1L1076.6,216.5L1075.5,215.4L1075.3,214.9L1075.3,213.8L1076.3,212.7L1076.9,211.7L1078.2,207.4L1077.7,205L1076.2,203.2L1075.8,202.1L1076.1,201L1077.4,198.9L1077.5,197.9L1077.4,196.8L1076.1,193.6L1076,191.5L1075.3,188.3L1075.2,185.1L1076,184L1077.2,183L1077.8,181.9L1077.5,180.8L1076.5,179.8L1076.2,178.7L1076.4,176.6L1074.6,171.3L1074.5,168.1L1073.2,161.7L1073.4,159.7L1073.7,158.5L1073.8,155.3L1073.3,151.1L1073.4,148.9L1073.2,147.9L1072.3,145.8L1072.3,143.6L1072,142.6L1070.7,140.4L1070.7,139.4L1072.3,137.2L1072.8,136.2L1073,135.1L1072.3,134.3L1070.2,133.6L1069.1,132.7L1068.5,130.9L1068.4,127.7L1068.1,126.6L1065.7,124.5L1065.3,123.4L1065,121.3L1063.3,119.2L1061.6,115.5L1060.6,114.8L1057.8,113.9L1057.3,113.3L1057.3,111.7L1056.9,110.7L1055.7,109.6L1055.2,109.3L1051.8,108.5L1047.8,105.3L1044.5,103.8L1043.8,103.2L1042.3,101L1041.3,100.5L1040.2,100.4L1038.1,100.7L1037,100.6L1032.7,99.8L1030.6,99.1L1027.3,99.6L1026.3,99.4L1024.1,98L1023.1,97.6L1022.4,97.9L1021.3,100L1020.9,100.4L1019.8,100.7L1018.5,100L1018.2,99L1019.9,96.8L1019.3,95.8L1018.8,95.7L1017.7,96.2L1016.6,97.2L1015.6,97.6L1013.4,97.8L1011.3,98.4L1010.2,98.4L1007,96.8L1005.9,96.9L1003.8,98.1L1002.7,98.4L999.5,97.9L997.3,98L996.3,97.9L995.2,97.3L994.1,96.4L993.1,96.2L990.9,96.7L987.7,98.2L986.6,98.2L985.2,97.9L983.4,97.2L981.3,95.4L980.2,94.8L979.1,94.7L978.1,95L974.9,97.1L971.6,97.9L969.5,97.9L965.2,97.3L963.1,97.5L962,97.5L959.9,96.7L958.8,96.6L953.4,97.8L951.3,99.4L949.1,99.9L945.9,100.9L942.7,100.3L941.6,100.3L940.6,100.6L939.9,101.1L938.3,103.2L936.1,105.3L935.7,106.4L935.6,107.5L935.2,108.1L933.3,109.6L932.5,110.7L932,111.7L932,112.8L932.6,113.9L932.9,114.9L932.1,116L930.7,117L929.9,118.1L929.6,119.2L930.2,128.7L930.6,129.8L932.1,131.9L932.3,133L932.1,135.1L931,138.3L932.1,140.4L932.4,141.5L932.6,145.8L931.6,148.9L931.7,150L932.8,154.3L932.9,155.3L932.4,156.4L930.3,158.5L929.9,159.2L928.6,162.8L928.5,163.8L928.8,164.9L929.8,166L930,167L928.8,167.5L928,168.1L927.1,169.1L926.9,170.2L927.2,173.4L926.8,174.5L925.6,176.8L924.2,183L923.4,185.1L922.4,191.2L922,195.7L919.6,206.4L918.8,208.5L917.4,210.6L913.8,213.5L912,215.9L909.5,217.4L904,220.2L902.7,221.2L902,222.4L900.9,223.1L897.7,224.1L895.6,225.1L893.4,227L892.4,227.7L891.3,227.9L889.2,227.6L888.1,227.7L884.9,228.7L880.6,229.6L878.4,230.7L872,233L868.8,233.7L863.4,234.2L858.1,235.7L853.9,236.1L850.6,236.7L846.3,236.2L842,237L837.7,237.2L832.4,237.1L829.2,237.3L825.9,236.9L818.5,236.6L815.2,236.1L811,236.2L808.8,236L804.5,235.1L800.2,235.4L794.9,234.2L790.6,234.3L785.2,234L783.1,233.7L779.9,233L770.2,232.4L766,231.7L759.5,231.6L755.8,230.8L751,230.4L745.6,230.6L741.3,230.2L737,229.5L729.5,229.6L726.3,229L724.2,228.8L719.9,229.3L714.5,229.2L709.2,228.3L703.8,228.9L700.6,228.7L697.4,228.7L697.4,253.1L699.5,253.3L702.8,253.1L707,253.8L712.4,253.9L723,256.3L728.8,258.5L730.6,259.5L732.8,261.7L733.5,262.7L733.6,263.8L733.2,264.8L732.3,265.9L731.2,267L726.3,269.5L722,271.2L716.7,272.3L710.3,272.6L707,273.4L703.8,273.4L699.5,274.1L697.4,274.2L697.4,291.1L912.7,290.9L915.4,293.6L915.5,294.6L916.6,295.7L917,297.6L918,298.9L919.5,303.1L920.2,306.6L921.6,311.6L922,313.8L922.9,316.9L923.4,320.1L923.5,322.3L924,325.5L925.7,329.7L925.6,334.1L926.5,338.2L928,342.5L928,343.5L927.6,345.7L927.8,347.8L928.6,349.9L929.9,351.5L932,352.4L933,353.1L932.5,354.2L931.4,355.2L931.2,356.3L931.4,358.4L932,361.2L932.8,363.7L933.8,364.8L934.3,368L934.6,369.1L936.3,370.6L937.1,372.2L937.7,374.4L937.8,375.4L937.5,377.6L937.6,378.6L940.6,380.5L941.5,381.8L941.8,382.9L942,385L942.3,386.1L945.4,390.3L945.6,391.4L945.4,393.5L945.9,394.6L947,395.2L950.7,396.7L952.2,397.8L953.1,398.8L954.5,399.9L957.7,400.7L958.8,401.5L959.9,403.3L960.9,404.4L962,404.7L964.1,404.9L966.3,406L967.4,406L969.5,405.3L970.6,405.7L971.6,406.9L972.7,407.7L973.8,407.9L975.9,407.4L977,407.6L980.2,408.8L981.3,408.9L983.4,408.9L986.6,408.3L994.1,410.2L995.2,410.2L996,409.5L996.6,408.4L997.3,407.9L998.4,408.1L999.5,408.9Z"/>
<path fill="#ffbd00" d="M999.5,394.6L1000.1,393.5L999.5,391.4L999.9,390.3L1002,389.3L1002.7,389.1L1003.8,389.4L1004.8,390.5L1005.9,391.3L1008.1,391.1L1009.1,391.6L1010.2,392.7L1011.3,392.7L1012.3,391.8L1013.4,391.1L1014.5,391.2L1015.6,391.5L1016.6,391.6L1017.1,391.4L1018.1,390.3L1018.8,389L1019.7,388.2L1020.9,387.8L1022,387.6L1026.3,388.2L1027.3,388.2L1028.4,387.9L1030,387.1L1034.8,383.6L1037,381L1041.3,378.8L1043.4,377.1L1044.5,376.4L1046.6,375.6L1048.2,374.4L1048.7,373.3L1049.5,370.1L1049.7,369.1L1049.5,366.9L1049.9,365.9L1052,363.7L1052.8,361.6L1055.9,358.4L1056.5,357.4L1056.8,355.2L1059.5,352.5L1060.6,351L1061.7,348.8L1061.9,347.8L1061.8,346.7L1061.4,345.7L1061.4,344.6L1063,341.4L1064.2,338.2L1064.4,337.2L1064.3,335L1064.7,332.9L1064.6,331.8L1063.9,329.7L1064.3,327.6L1064.3,326.5L1063.2,324.4L1063.1,323.3L1066.2,315.9L1067.3,312.7L1067.4,311.6L1066.4,309.5L1064.8,307.4L1064.2,306.3L1064.3,305.3L1064.8,304.5L1066,304.2L1066.6,303.1L1066.2,302.1L1066.4,301L1067.5,298.9L1067.7,297.8L1067.2,295.7L1067,292.5L1065.4,289.3L1064.7,287.2L1064.6,286.1L1066,282.9L1067,279.7L1067.3,276.5L1068.5,273.4L1068.5,272.3L1066.8,268L1066.8,264.8L1066.5,263.8L1065.9,262.7L1065.7,261.7L1066.4,260.6L1067.8,259.5L1068.5,258.5L1068,256.3L1067.6,252.1L1066.9,250L1066.8,248.9L1067.1,247.8L1068.7,243.6L1068.9,242.5L1067.8,240.4L1067.5,239.3L1068.8,232.9L1068.6,231.9L1068,230.8L1065.9,228.3L1065.5,227.6L1065.2,226.6L1066,224.4L1066.2,223.4L1066.1,220.2L1066.5,218.1L1066,215.9L1066.8,212.7L1066.4,210.6L1065.6,208.5L1065.4,207.4L1066.4,204.2L1067.1,201L1066.9,200L1066,198.9L1063.8,197.3L1062.7,196.2L1060.4,191.5L1060.5,190.4L1060.9,189.3L1061,188.3L1060.8,186.2L1061.2,185.1L1061.6,184.5L1063.8,183.4L1064.3,183L1064.6,181.9L1064.3,180.8L1061.6,175.7L1059.9,173.4L1059.4,172.3L1059.2,170.2L1057,168.1L1056.8,167L1057.3,164.9L1057.1,163.8L1055.8,161.7L1055.5,160.6L1055.9,158.5L1055.7,157.4L1055.2,156.2L1054.1,155.3L1053.1,155.1L1052,154.4L1051.4,153.2L1050.8,151.1L1050.3,150L1048.3,147.9L1046.6,146.4L1045.6,145.1L1042.7,139.4L1041.8,138.3L1040.1,137.2L1037.9,135.1L1036.3,134.1L1033.8,131.3L1033.1,130.9L1029.5,129.1L1027.3,129.1L1026,128.7L1024.9,127.7L1024.1,125.3L1023.1,124.3L1020.9,123.7L1018.8,123.9L1017.7,123.7L1015.6,122.1L1014.5,122L1012.3,122.6L1011.3,122.6L1010.2,122.2L1007,120.3L1005.9,120.1L1004.8,120.1L1002.7,120.9L1001.6,120.8L1000.6,120.3L999.5,120.1L997.3,120.6L994.1,120.7L992,121.8L990.9,121.9L988.8,121.5L987.7,121.6L983.4,122.2L974.9,122.8L972.7,123.6L969.5,126L968.4,126.1L967.4,125.8L966.3,125.9L965.2,126.4L963.9,127.7L962,130.3L961,130.9L958.8,131.6L956.6,133.4L954.5,134.2L950.4,138.3L949.1,139L948.1,139.4L947,140.3L946.9,141.5L947.8,142.6L947.7,143.6L947,144.8L945.9,146L944.1,146.8L943.8,147.3L943.3,148.9L939.8,154.3L939.8,155.3L940,156.4L940,157.4L938.6,159.6L938.1,162.8L936.8,164.9L936.6,166L936.8,168.1L937.3,170.2L937.4,171.3L935.8,175.5L935.8,177.7L935.6,178.7L934.9,179.8L933.2,181.9L931.5,185.1L931.2,186.2L930.9,187.7L931.1,191.5L930.6,192.5L929.9,193.2L928.9,194.7L927.7,197.4L926.4,200L925.7,204.2L921.8,207.4L920.2,210.3L919.2,211.7L917,214.1L915.9,214.9L912.7,216.9L909.4,218.1L908.4,218.7L907.3,219.1L904.3,221.2L902.7,223.4L902,223.8L899.9,224.4L898.8,224.8L895.6,226.8L893.6,228.7L892.4,229.2L888.1,229.5L882.7,230.8L879.5,232.5L876.3,233.4L872.9,235.1L867.7,236.1L865.6,236.3L862.4,237.3L854.9,238.6L851.6,239.3L849.5,239.5L846.3,239.1L843.1,239.7L836.7,239.7L833.4,240.1L831.3,240L828.1,240.3L824.9,239.7L820.6,239.3L816.3,239.1L812,239.4L808.8,238.7L804.5,238.3L801.3,238.3L794.9,237.4L791.7,237.2L788.5,236.7L785.2,236.5L781,235.8L774.5,235.2L772.4,234.7L768.1,234.4L764.9,233.8L759.5,233.4L753.1,233.4L746.7,232.6L743.5,232L739.2,232.1L733.8,231.4L729.5,231.6L725.3,230.8L723.1,230.9L721,231.5L719.9,231.5L716.7,231.1L712.4,230.9L709.2,230.3L707,230.4L703.8,230.8L697.4,230.5L697.4,248.3L700.6,248.2L703.8,248.6L712.4,248.5L719.9,249.9L724.2,250.4L728.5,251.4L732.8,252.1L741.3,255L745.6,257.3L748.6,259.5L749.8,260.6L750.3,261.7L750.5,263.8L750.2,265.9L749.7,267L748.7,268L746.7,269.5L744.5,270.8L741.3,272.3L738.5,273.4L736,273.9L731.7,275.3L722,277.5L714.5,278L711.3,278.5L700.6,278.9L697.4,279.2L697.4,291L912.7,290.7L915.6,293.6L915.8,294.6L916.8,295.7L917,296.4L921.5,301L923.3,304.2L926.6,309.4L926.9,310.6L926.7,312.7L926.9,313.8L928.6,316.9L929.4,320.1L930.1,321.2L930.9,322.1L931.8,323.3L932.1,324.4L932.2,327.6L933.2,331.8L933.2,335L934.3,336.1L936.3,337.1L937.2,338.2L937.6,339.3L937.1,342.5L937.2,343.5L937.8,344.6L939.5,346.7L942.2,353.1L942.3,354.2L942,355.2L941.1,357.4L940.4,358.4L940.2,359.5L940.4,360.5L941.6,361.4L943.8,362.2L945.9,362.7L947,363.4L947.2,363.7L947.5,364.8L947.5,366.9L947.8,368L948.8,369.1L950.2,369.9L951.2,371.2L951.6,374.4L952.2,375.4L956.2,377.6L957,378.6L957.7,380.1L959.9,381.2L961.9,382.9L964.1,384.3L966.7,387.1L968.4,388.2L972.7,389L978.1,389L979.1,389.3L981.3,390.6L982.3,391L985.6,391.1L988.8,391.6L989.8,391.5L992,391L993.1,390.9L995.2,391.9L997.3,392.6Z"/>
<path fill="#ff8900" d="M973.7,359.5L974.9,359.4L977,358.5L978.1,358.4L981.3,359L983.4,359.8L984.5,359.7L986.6,358.9L990.9,358.2L996.3,358.6L997.3,358L998.4,357.1L999.5,356.9L1001.6,357.8L1002.7,358L1004.8,357.4L1005.9,357.3L1008.1,358L1010.2,358.2L1014.5,357.5L1017.7,356.1L1019.9,354.2L1022,351.5L1024.1,350.1L1025.2,349.2L1027.3,346.7L1028.4,346.3L1030.6,346.4L1031.5,345.7L1032.4,343.5L1035,340.3L1035.1,339.3L1035.5,338.2L1037,336.1L1038.1,335.3L1039.1,335.1L1040.2,334.5L1041.5,332.9L1042.3,329.7L1043.3,327.6L1044.5,326.3L1046.2,325.5L1046.6,324.9L1046.8,324.4L1046.6,323.5L1046.1,322.3L1046.1,321.2L1047.2,316.9L1048.8,312.7L1048.9,311.6L1048.4,310.6L1049.1,307.4L1049.3,304.2L1049.8,302.8L1051.2,301L1052.4,298.9L1052.6,297.8L1053,293.6L1053,290.4L1054.6,287.2L1054.2,284L1055.9,278.7L1055.9,276.5L1055.6,274.4L1053.8,270.2L1053.7,269.1L1054.5,264.8L1054.1,262.7L1054.2,261.7L1054.6,259.5L1056.1,256.3L1055.6,254.2L1055.8,252.1L1055.3,250L1055.6,247.8L1055.6,246.8L1055.1,245.7L1053.9,244.6L1053.5,243.6L1054.5,239.3L1055.2,238.2L1056.7,237.2L1056.4,236.1L1055.2,235.2L1053.5,232.9L1053.2,231.9L1054,227.6L1053.9,225.5L1051.5,221.2L1050.8,219.1L1050.4,217L1048.6,213.8L1048.4,212.7L1048.5,209.6L1047.9,206.4L1048.4,203.2L1048.1,202.1L1047.7,201.5L1043.7,197.9L1043,196.8L1042.3,195.2L1042.1,192.5L1041.8,191.5L1040.7,190.4L1038.1,188.7L1037.7,188.3L1036.7,186.2L1035.8,185.1L1034.7,184L1031.8,181.9L1030.7,179.8L1028.1,176.6L1027,174.5L1026.3,173.4L1024.1,172.3L1022,171.9L1020.9,171.6L1019.8,170.5L1018.8,168.7L1017.7,167.4L1014.5,166.7L1013.4,166L1010.7,162.8L1008.1,161L1005.9,160.3L1004.8,160.3L1003.8,161L1002.7,162.1L1001.6,162.7L999.5,162.9L998.4,162.8L997.6,161.7L998.5,160.6L997.8,159.6L996.8,159.6L996.3,160L995.2,160.2L992,159.7L987.7,160.3L986.6,160.1L986,159.6L985.6,158.5L984.5,157.5L983.4,157.4L981.3,158.2L980.2,159L979.1,159.2L978.1,158.7L977,158.5L970.6,160.2L968.4,161.7L967.4,162.2L965.2,162.4L964.1,162.8L959.9,164.9L957.7,167.5L956.6,168L954.5,168.4L950.6,171.3L949.6,172.3L948.9,173.4L948.5,174.5L948.1,176.6L947.2,177.7L944.2,179.8L943.3,183L941.3,185.1L940.7,186.2L939.9,188.3L939.2,191.5L938.7,192.5L936.4,194.7L935.9,195.7L936,196.8L936.7,198.9L936.7,200L936.3,201.2L933.1,203.2L932.2,204.2L930.9,207.8L929.3,209.6L928.6,210.6L927.7,211.6L926.6,212.4L925.6,213.8L924.1,214.9L921.3,215.2L920.2,215.7L918.9,217L918.4,218.1L918.5,219.1L919.3,220.2L919.6,221.2L919.4,222.3L919.1,222.6L918.1,223.4L915.9,224.1L913.8,225.1L909.5,228.2L908.4,228.4L904.1,228L903.1,227.6L902.7,226.6L902,225.7L900.9,225.4L899.9,225.7L898.2,227.6L896.7,228.5L895.6,229.5L894.5,230.2L892.4,230.6L888.4,230.8L883.8,232L882.7,232.3L880.6,233.6L876.3,234.7L873.1,236.3L865.6,237.7L861.3,238.8L850.6,240.8L836.7,241.3L834.5,241.6L828.1,241.9L823.8,241.1L820.6,240.7L815.2,240.6L812,240.8L808.8,240.3L801.3,239.8L792.7,238.7L788.5,238L785.2,237.9L776.7,236.6L768.1,235.8L764.9,235.1L759.5,234.7L753.1,234.9L746.7,233.9L743.5,233.1L742.4,233L738.1,233.4L733.8,232.8L728.5,232.9L725.3,232.3L719.9,232.7L715.6,232.2L713.5,232.2L707,231.8L701.7,232L697.4,231.7L697.4,244.6L701.7,244.2L708.1,245.1L718.8,245.5L731.7,247L742.4,249.6L750.3,252.1L758.3,256.3L759.6,257.4L761.7,260.6L762.4,262.7L762.7,264.8L762.6,265.9L762.3,267L761.7,268.1L760.6,269.2L755.9,272.3L754.2,273.3L751,274.2L746.7,276.1L743.5,277.3L739.2,278.1L732.8,279.8L721,281.6L714.5,281.8L708.1,282.5L697.4,282.9L697.4,290.9L791.7,290.9L797,290.8L798.1,290.7L912.7,290.6L915.8,293.6L915.9,294.2L918.1,296.2L921.3,298.2L924.3,301L925.3,302.1L926.7,304.2L928.5,306.3L929.4,308.4L930,311.6L930.9,312.7L932.1,313.8L936,323.3L939.2,326.5L940.5,328.6L941.5,330.8L943.8,333.3L947,337.7L947.7,339.3L947.8,341.4L948.1,342.6L949.1,343.6L951.3,343.7L952.4,344.2L952.6,344.6L952.9,346.7L953.4,347.9L955.6,348.9L958.8,351.1L960.9,351.4L962,351.9L964.5,354.2L966.3,356.7L967.4,357.4L970.6,358.2Z"/>
<path fill="#ff5900" d="M975.9,313.4L977,313.4L980.2,312.4L982.3,312.1L983.4,312.2L985.6,313L986.6,312.7L987.7,311.6L988.8,311.3L992,311.6L993.1,311.4L995.2,310.7L997.3,310.8L997.6,310.6L998.4,308.4L999.5,307.6L1000.6,307.2L1002.7,306.9L1003.8,306.5L1004.2,305.3L1004.1,304.2L1004.2,303.1L1004.8,302.3L1009.1,300.2L1010.8,298.9L1011.4,297.8L1015.4,290.4L1015.8,287.2L1017,285L1017.5,282.9L1018,281.9L1019.8,279.7L1021.1,275.5L1020.9,273.4L1021.5,271.2L1021.9,265.9L1021.8,263.8L1022.3,261.7L1022.3,260.6L1021.8,256.3L1020.6,251L1020.6,248.9L1020.4,246.8L1020.8,243.6L1020.7,242.5L1020.4,240.4L1018.4,237.2L1016.6,232.9L1014.4,229.8L1010.9,226.6L1010,225.5L1009.4,223.4L1008.5,222.3L1007,221.7L1003.8,219L1001.6,218.3L1000.6,217.8L998.4,215.7L996.3,214.1L994.1,213.3L993.3,212.7L992,212.6L990.9,213.8L989.8,214.4L988.8,214.3L987.7,213.9L986.8,212.7L986.5,210.6L985.6,209.6L984.5,208.6L983.4,208.3L982.3,208.4L978.1,209.5L977,209.1L975.9,207.9L974.9,207.3L973.8,207.2L971.6,207.5L970.6,207.4L968.4,206.3L967.4,206L966.3,206.2L964.1,207.3L962,207.1L958.8,207.7L956.6,207.7L950.2,206.4L948.1,206.8L947.1,207.4L946.5,208.5L947,208.9L948.1,208.3L949.1,208.2L950.2,208.5L950.2,209L952.7,209.6L949.1,209.6L948.1,210L947.6,210.6L946.6,212.7L943.8,215L942.7,215.3L939.5,215.1L936.3,215.9L935,217L934.3,219.1L933.4,220.2L931.1,221.2L927.7,223.5L926.6,223.9L924.5,224.2L924.1,224.4L922.4,226L920.2,226.9L919.2,227.6L918.1,229.6L917,230.4L915.9,230.9L913.8,231.3L910.6,233L909.5,232.8L908.4,231.9L907.4,231.6L906.3,232.1L905.2,233L904.1,233.3L900.9,232.8L899.9,232.8L898.8,233.5L897.7,236.1L896.7,237.2L894.5,237.9L892.4,238.3L890.2,237.6L889.2,236.9L887,234L885.9,233.2L884.9,233.4L883.8,233.6L882.7,234L880.6,235.1L877.4,235.4L874.2,236.9L872,237.6L864.5,239L860.2,240.1L857,240.6L853.8,241.5L847.4,242.1L844.2,242.2L840.9,242.5L837.7,242.4L828.1,243L820.6,241.9L818.5,241.9L815.2,241.6L812,241.8L801.3,240.9L792.7,239.7L789.5,239L786.3,238.9L783.1,238.4L779.9,238.1L776.7,237.4L768.1,236.9L763.8,236L758.5,235.6L753.1,235.8L746.7,234.9L744.5,234.2L742.4,233.8L738.1,234.3L731.7,233.6L728.5,233.7L725.3,233.2L719.9,233.6L715.6,232.9L708.1,233L706,232.7L701.7,232.8L697.4,232.5L697.4,242.2L700.6,241.8L706,242.5L719.9,242.8L727.4,244L733.8,244.1L740.2,245.2L747.7,246.8L753.1,248.3L756.3,249.4L760.6,250.4L768.1,254L771.3,255.3L773.9,257.4L775.5,259.5L776.4,261.7L776.6,263.8L776.2,265.9L775.2,268L774.2,269.1L772.4,270.5L770.2,272.5L768.9,273.4L758.5,277.8L754.2,278.9L747.7,281L739.2,282.2L736.5,282.9L733.8,283.4L721,284.9L714.5,285L708.1,285.5L697.4,285.7L697.4,290.8L794.9,290.7L797,290.7L798.1,290.5L868.8,290.5L879.1,290.4L884.9,290.1L911.6,290.1L912.7,290.4L913.9,291.4L915.9,292.7L922.4,292.9L925.6,292.9L926.6,293L929.9,294.1L935.2,294.4L935.8,294.6L936.3,295.2L936.9,296.7L938.6,298.9L939.5,299.4L941.6,300L943.8,302.1L950.2,304.8L954.5,306L956.7,307.4L958.8,309.2L959.9,309.5L962,309.6L964.1,310.1L968.4,312.3L969.5,312.4L971.6,311.8L972.7,311.9ZM943.2,210.6L943.8,210.9L945.1,210.6L944.9,210.4ZM945.4,209.6L945.9,210.1L946.4,209.6L945.9,209Z"/>
<path fill="#ff2500" d="M697.4,290.7L797,290.6L798,290.4L798.1,290.1L868.8,290.1L879.3,289.3L884.9,287.6L896.7,284.7L902.7,284L907.4,282L910.6,281.3L913.8,280L917,279.3L918,278.7L918.7,277.6L918.9,276.5L918.8,274.4L919.1,274L920.2,273.3L923.4,271.9L925.6,271.7L926.3,271.2L926.7,270.2L926.6,269.8L925.4,267L925.5,265.9L926.4,263.8L928,261.7L928.3,260.6L926.6,256.6L924.9,255.3L924.3,254.2L924.5,253L925.3,251L925,250L924,248.9L922.4,247.6L920.2,246.5L918.1,245.7L917,245.1L914.9,242.4L913.8,242.1L912.7,242.5L911.6,243.1L910.6,243.4L909.5,243.2L907.4,241.9L906.3,242L905.2,242.3L904.1,242.2L903.1,241.5L902,241.5L899.9,242.2L898.8,242.2L896.7,241L895.6,240.7L894.5,240.7L891.3,241.2L889.2,240L888.1,239.7L885.4,239.3L880.6,237.2L878.4,236.5L877.4,236.7L873.1,238.5L868.8,239.7L864.1,240.4L853.8,242.4L850.6,242.6L846.3,243.3L844.2,243.2L840.9,243.6L837.7,243.5L828.1,243.8L820.6,242.8L818.5,242.8L814.2,242.4L812,242.6L807.7,242.4L805.6,242.2L803.5,241.7L798.1,241.4L794.9,240.7L791.7,240.4L789.5,239.8L787.4,239.8L783.1,239.1L779.9,238.9L776.7,238L769.2,237.9L763.8,236.8L760.6,236.6L758.5,236.3L754.2,236.5L748.8,236.1L743.5,234.6L742.4,234.5L738.1,235L733.8,234.8L732.8,234.4L731.7,234.2L728.5,234.3L724.2,233.9L719.9,234.3L715.6,233.6L712.4,233.9L711.3,233.4L708.1,233.5L706,233.3L700.6,233.3L697.4,233.1L697.4,239.5L702.8,239.7L706,240L709.2,239.6L711.3,239.5L717.8,240.3L724.2,240.6L728.5,241.5L739.2,242.2L747.7,243.8L754.2,244.6L758.5,245.8L762.7,246.6L769.2,248.7L772.4,249L774.5,249.6L775.6,250L779.9,252.6L783.6,254.2L785.2,255.3L790.4,260.6L791.1,261.7L791.3,262.7L790.7,265.9L790.4,267L789.8,268L784.2,273L778.7,275.5L772.4,277.9L768.1,279.2L758.4,281.9L747.8,284L740.2,285L721,286.8L708.1,287.4L697.4,287.5Z"/>
<path fill="#da0000" d="M697.4,290.5L797,290.5L797.5,290.4L797,289.7L796,288.8L765.3,288.2L782,287.3L812,284.9L836.7,284.7L844.2,284.9L851.7,284.7L854.9,284.3L859.2,283.3L868.8,280.3L873.1,279.2L876.3,277.7L878.1,276.5L881,274.4L884.1,271.2L884.9,269.2L885.4,265.9L885.2,262.7L884.3,257.4L882.7,254.3L881.7,253.1L878.6,251L873.1,248.6L870.9,247.9L867.7,247.4L865.6,246.7L863.4,245.2L861.3,242.5L860.2,242.5L858.1,243L853.8,243.7L845.2,244.3L842,244.8L828.1,244.6L825.9,244.2L820.6,243.7L818.5,243.7L814.2,243.1L806.7,243.1L804.5,242.9L803.5,242.3L797,242.1L796,241.8L794.9,241.2L792.7,241.2L789.5,240.6L787.4,240.7L786.3,240.2L783.1,239.8L779.9,239.6L778.8,239.4L777.7,238.9L776.7,238.7L769.2,238.6L768.1,238.1L763.8,237.6L760.6,237.5L758.5,236.8L754.2,237L747.7,236.7L746.7,236.1L742.4,235.1L739.2,235.6L733.8,235.5L731.7,234.7L724.2,234.5L719.9,234.9L715.6,234.3L712.4,234.5L711.3,233.9L708.1,234L706,233.8L701.7,233.8L697.4,233.6L697.4,237L700.6,237.4L703.8,237.5L707,238L714.5,237.9L718.8,238.5L722,238.1L724.2,238.1L729.5,238.7L730.4,239.3L731.7,239.6L742.4,239.5L746.7,240.8L749.9,240.7L754.2,241L759.5,242.2L762.7,242.3L766,243.1L768.1,243.3L771.3,243.9L776.7,244.4L781,246.1L786.3,247.1L789.5,248.5L792.7,249.3L801.3,252.1L803.5,253.6L807.7,257.2L808.9,258.5L809.6,259.5L810.4,261.7L811,263.8L811,264.8L810.7,265.9L810,267L806.9,270.2L805.6,271.1L802.9,272.3L799.8,274.4L789.5,278.3L777.7,281.5L764.4,284L751,285.9L743.5,286.9L738.1,287.2L733.8,287.8L719.9,288.4L697.4,288.6Z"/>
<path fill="#9b0000" d="M697.4,290.4L797,290.4L786.3,289.8L762.7,289.3L697.4,289.3ZM832.4,246.8L836,246.8L837.1,245.7L827,245.5L821.2,244.6L815.2,244.4L814.2,244.1L806.7,244L802.4,243.2L797,243.2L794.9,242.4L792.7,242.2L789.9,241.5L786.3,241.2L782.5,240.4L778.8,240.2L775.6,239.3L769.2,239.2L763.8,238.3L759.5,238.1L757.4,237.8L753.1,237.8L749.9,237.4L747.7,237.8L746.6,237.2L743.5,236.1L734.9,236.1L733.8,236.2L731.7,235.7L724.2,235.1L723.1,235.1L719.9,235.7L718.8,235.7L716.7,235L708.1,235L704.9,234.6L701.7,234.6L697.4,234.2L697.4,235.4L698.5,235.5L700.6,236.2L707,236.5L714.5,236.5L718.8,237.2L720,237.2L723.1,236.6L724.2,236.6L727.4,237.2L729.5,237.2L730.6,237.6L732.8,237.9L742.4,238L746.7,238.9L749.9,239L756.3,239.5L760.6,240.2L763.8,240.3L771.3,241.3L775.6,241.2L783.1,242.7L787.4,243.1L791.7,244.1L794.9,244.3L798.1,245.1L802.4,244.9L806.7,245.6L809.9,245.5L812,245.8L824.9,246.8L828.1,246.1L830.2,246.1L831.3,246.2Z"/>
<path d="M693.5,198.6L913.0,198.6L913.0,52.3L1097.2,52.3L1097.2,442.5L913.0,442.5L913.0,295.1L693.5,295.1M709.7,42.0L709.7,113.9L906.8,113.9M906.8,42.0L906.8,198.6M900.6,113.9L900.6,198.6M709.7,452.6L709.7,379.9L906.8,379.9M906.8,452.6L906.8,295.1M900.6,379.9L900.6,295.1" fill="none" stroke="#fff" stroke-opacity="0.42" stroke-width="1.5"/>
</g>
<rect x="697.40" y="45.80" width="406.00" height="403.00" fill="none" stroke="#000" stroke-width="1.70"/>
<text x="696.0" y="29.1" font-family='"Liberation Sans", sans-serif' font-size="32.2" fill="#000">(b) 25 mTorr</text>
<rect x="1157.45" y="367.90" width="20.50" height="81.20" fill="#0000f1"/>
<rect x="1157.45" y="287.30" width="20.50" height="81.20" fill="#00b0ff"/>
<rect x="1157.45" y="206.70" width="20.50" height="81.20" fill="#7dff7a"/>
<rect x="1157.45" y="126.10" width="20.50" height="81.20" fill="#ffc400"/>
<rect x="1157.45" y="45.50" width="20.50" height="81.20" fill="#f10800"/>
<rect x="1157.45" y="45.80" width="20.50" height="403.00" fill="none" stroke="#000" stroke-width="1.70"/>
<text x="1189.2" y="53.3" font-family='"DejaVu Sans", "Liberation Sans", sans-serif' font-size="19.4" fill="#000">5.9</text>
<text x="1189.2" y="133.9" font-family='"DejaVu Sans", "Liberation Sans", sans-serif' font-size="19.4" fill="#000">4.7</text>
<text x="1189.2" y="214.5" font-family='"DejaVu Sans", "Liberation Sans", sans-serif' font-size="19.4" fill="#000">3.5</text>
<text x="1189.2" y="295.1" font-family='"DejaVu Sans", "Liberation Sans", sans-serif' font-size="19.4" fill="#000">2.4</text>
<text x="1189.2" y="375.7" font-family='"DejaVu Sans", "Liberation Sans", sans-serif' font-size="19.4" fill="#000">1.2</text>
<text x="1189.2" y="456.3" font-family='"DejaVu Sans", "Liberation Sans", sans-serif' font-size="19.4" fill="#000">0.0</text>
<path d="M1178.80,45.80h6.40M1178.80,126.40h6.40M1178.80,207.00h6.40M1178.80,287.60h6.40M1178.80,368.20h6.40M1178.80,448.80h6.40" stroke="#000" stroke-width="1.70" fill="none"/>
<text x="1213.5" y="29.1" text-anchor="end" font-family='"Liberation Sans", sans-serif' font-size="32.2" fill="#000">T<tspan font-size="22.5" dx="-3" dy="8.0">e</tspan><tspan dy="-8.0"> </tspan>(eV)</text></g>
<g><clipPath id="c20"><rect x="1308.10" y="44.75" width="406.00" height="403.25"/></clipPath>
<g clip-path="url(#c20)">
<rect x="1307.10" y="43.75" width="408.00" height="405.25" fill="#00009b"/>
<path fill="#0000da" d="M1308.1,448L1714.1,448L1714.1,44.8L1320,44.8L1320.7,48.6L1322.4,65L1323.9,75.5L1325.5,83.4L1327.5,89.8L1328.4,92.1L1329.9,94.8L1331.4,97L1333.3,99.1L1335.2,100.8L1337.2,102L1339.1,103.1L1342,104.2L1346.9,105.6L1352.7,106.7L1360.4,107.6L1369.1,108.2L1390.5,108.9L1444.7,109.5L1468,110L1491.2,111.2L1509.6,112.7L1510.6,112.8L1511,113.1L1511.4,115L1511.5,118.9L1511.6,196.8L1510.6,197.2L1503.8,197.8L1493.2,198.3L1478.6,198.8L1455.4,199.1L1414.7,199.3L1308.1,199Z"/>
<path fill="#0004ff" d="M1308.1,448L1714.1,448L1714.1,44.8L1320.2,44.8L1320.8,46.7L1323.6,60.4L1326,69.8L1328.4,77.4L1331.4,83.9L1334.3,88.5L1336.2,90.8L1338.3,92.9L1340.8,94.8L1343,96.2L1345.9,97.7L1348.8,98.9L1354.3,100.6L1360.4,101.8L1368.2,102.9L1377.9,103.7L1397.2,104.5L1449.6,105.7L1463.1,106.3L1474.8,107.2L1485.4,108.3L1496.1,109.8L1510.6,112.5L1511.4,113.1L1511.8,114L1511.9,118.9L1512,196.8L1510.6,197.6L1486.4,199.8L1476.7,200.3L1453.4,200.9L1413.7,201.1L1308.1,200.5Z"/>
<path fill="#003cff" d="M1308.1,448L1714.1,448L1714.1,44.8L1320.4,44.8L1324.6,57.9L1327.5,66.1L1330.9,73.6L1334.3,79.5L1336.2,82.1L1338.1,84.4L1340.1,86.3L1343,88.7L1347.8,91.7L1353.6,94.3L1359.5,96L1365.3,97.3L1373,98.4L1381.7,99.2L1399.2,100.2L1447.6,101.7L1460.2,102.5L1471.9,103.6L1483.5,105.3L1495.1,107.6L1506.7,110.8L1510.6,112.2L1511.6,112.8L1512.1,114L1512.3,118.9L1512.4,196.8L1511.6,197.1L1510.6,197.9L1501.7,198.7L1493.2,200.2L1486.4,201L1476.7,201.7L1453.4,202.5L1413.7,202.7L1345.9,202L1308.1,201.8Z"/>
<path fill="#0070ff" d="M1308.1,448L1714.1,448L1714.1,44.8L1320.6,44.8L1325.5,56.6L1328.4,62.7L1332.3,69.7L1336.2,75.3L1340.1,79.6L1344.9,83.7L1347.8,85.6L1350.7,87.2L1356.5,89.7L1362.4,91.4L1368.2,92.7L1375,93.8L1383.7,94.8L1400.2,95.9L1446.7,97.7L1460.2,98.8L1470.9,100.1L1482.5,102.2L1493.2,104.9L1499,106.8L1504.8,109L1508.7,110.6L1510.6,111.7L1511.6,112.4L1512.1,113.1L1512.4,114L1512.7,118.9L1512.8,196.8L1511.6,197.2L1510.6,198.1L1504.7,198.7L1494.1,201L1487.4,202L1476.7,203L1454.4,203.9L1437.9,204.2L1414.7,204.2L1345.9,203.3L1308.1,203Z"/>
<path fill="#00a8ff" d="M1308.1,448L1714.1,448L1714.1,44.8L1320.8,44.8L1325.5,53.8L1329.4,60.4L1333.3,66.2L1338.1,72.1L1343,76.6L1347.8,80.1L1352.7,82.8L1358.5,85.2L1364.3,87L1370.1,88.3L1376.9,89.5L1384.6,90.4L1401.1,91.6L1433.1,93L1446.7,93.7L1459.3,94.9L1469.9,96.4L1475.7,97.5L1481.5,98.9L1491.2,101.9L1497,104.1L1501.9,106.3L1506.7,108.7L1510.6,111.1L1511.6,111.9L1512.4,113.1L1512.9,115L1513,116.9L1513.1,196.8L1511.6,197.3L1510.6,198.3L1506.9,198.7L1502.6,199.7L1494.1,202L1488.3,203L1477.7,204.2L1455.4,205.3L1439.9,205.6L1414.7,205.7L1345.9,204.5L1308.1,204.2Z"/>
<path fill="#00dcfe" d="M1308.1,448L1714.1,448L1714.1,44.8L1321,44.8L1321.7,46L1325.5,51.9L1330.4,58.7L1334.3,63.4L1339.1,68.5L1344,72.6L1348.8,75.8L1354.6,78.8L1360.4,81.1L1366.2,82.8L1372.1,84.1L1378.8,85.2L1385.6,86.1L1401.1,87.3L1433.1,88.8L1445.7,89.6L1458.3,90.9L1468.9,92.6L1474.8,93.8L1479.6,95.1L1485.4,96.9L1490.3,98.8L1495.1,100.9L1500.9,103.9L1505.8,106.8L1509.6,109.5L1511.6,111.2L1512.6,112.5L1513.1,114L1513.4,116.9L1513.5,196.8L1511.6,197.4L1510.6,198.5L1508.9,198.7L1504.9,199.7L1494.1,203.1L1489.3,204L1483.5,204.9L1477.7,205.5L1456.4,206.8L1440.8,207.1L1414.7,207.2L1345.9,205.7L1308.1,205.3Z"/>
<path fill="#26ffd1" d="M1308.1,448L1714.1,448L1714.1,44.8L1321.2,44.8L1321.7,45.6L1325.5,50.4L1331.4,57.1L1336.2,62.1L1341,66.2L1345.9,69.7L1350.7,72.5L1355.6,74.8L1361.4,77L1367.2,78.6L1373,79.9L1379.8,81L1386.6,81.8L1401.1,83L1432.1,84.6L1444.7,85.4L1457.3,86.8L1468,88.5L1473.8,89.9L1478.6,91.2L1483.5,92.9L1488.3,94.9L1493.2,97.3L1498,100L1502.9,103.2L1506.7,106L1510.6,109.4L1512.6,111.7L1513.2,113.1L1513.7,116L1513.9,196.8L1511.6,197.5L1510.6,198.8L1506.9,199.7L1501.1,201.6L1495.1,203.9L1491.2,204.9L1484.5,206.1L1478.6,206.8L1457.3,208.2L1441.8,208.6L1415.7,208.7L1346.9,207L1308.1,206.5Z"/>
<path fill="#50ffa7" d="M1308.1,448L1714.1,448L1714.1,44.8L1321.3,44.8L1321.7,45.3L1325.5,49.3L1332.3,55.8L1337.2,59.9L1342,63.5L1346.9,66.5L1351.7,69L1356.5,71.1L1362.4,73.1L1367.2,74.4L1373,75.6L1379.8,76.7L1386.6,77.6L1401.1,78.8L1432.1,80.4L1443.8,81.2L1455.4,82.4L1465.1,83.9L1470.9,85.2L1475.7,86.5L1480.6,88.2L1485.4,90.1L1490.3,92.5L1494.1,94.8L1498,97.3L1501.9,100.3L1507.7,105.3L1511.6,109.4L1513.2,112.1L1514,115L1514.2,121.7L1514.3,196.8L1511.6,197.7L1511.1,198.7L1510.6,199.2L1505.8,200.7L1495.1,205L1492.2,205.8L1485.4,207.2L1478.6,208.2L1468.9,209L1458.3,209.7L1442.8,210.1L1415.7,210.2L1346.9,208.2L1308.1,207.7Z"/>
<path fill="#7dff7a" d="M1308.1,448L1714.1,448L1714.1,44.8L1321.5,44.8L1326.5,49.1L1332.3,53.8L1337.2,57.3L1342,60.4L1346.9,63.1L1351.7,65.3L1356.5,67.2L1362.4,69.1L1367.2,70.3L1373,71.5L1379.8,72.6L1386.6,73.4L1401.1,74.6L1442.8,76.9L1454.4,78.1L1464.1,79.6L1473.8,81.9L1478.6,83.5L1482.5,85L1486.4,86.8L1490.3,88.9L1494.1,91.4L1498,94.3L1503.8,99.5L1509.6,105.8L1512.6,109.7L1513.7,112.1L1514.2,114L1514.5,120.8L1514.6,196.8L1511.6,197.8L1511.5,198.7L1510.6,199.6L1505.3,201.6L1496.1,205.8L1493.2,206.9L1485.4,208.6L1479.6,209.5L1462.2,211L1445.7,211.7L1416.6,211.7L1344.9,209.4L1308.1,208.9Z"/>
<path fill="#a7ff50" d="M1308.1,448L1714.1,448L1714.1,44.8L1321.7,44.7L1333.3,52.7L1338.1,55.6L1343,58.1L1347.8,60.4L1352.7,62.3L1357.5,63.9L1363.3,65.6L1374,67.7L1387.6,69.4L1402.1,70.5L1441.8,72.6L1452.5,73.5L1462.2,74.9L1471.9,77L1476.7,78.5L1480.6,79.9L1484.5,81.6L1488.3,83.7L1491.2,85.5L1495.1,88.3L1499,91.6L1501.9,94.5L1507.7,101.3L1510.6,105.3L1512.6,108.4L1513.9,111.2L1514.5,113.4L1514.8,116L1514.9,120.8L1515,196.8L1511.9,197.8L1511.9,198.7L1511.6,199.5L1510.6,200.3L1507.4,201.6L1496.1,207.2L1493.2,208.4L1487.4,209.9L1480.6,211.1L1474.8,211.8L1464.1,212.7L1446.7,213.6L1417.6,213.6L1392.4,212.8L1347.8,211.1L1308.1,210.3Z"/>
<path fill="#d1ff26" d="M1308.1,448L1714.1,448L1714.1,44.8L1322.1,44.8L1333.3,51L1343,55.6L1347.8,57.5L1352.7,59.1L1362.4,61.7L1374,63.8L1386.6,65.3L1401.1,66.3L1441.8,68.3L1452.5,69.2L1462.2,70.4L1471.9,72.4L1476.7,73.9L1480.6,75.3L1484.5,77L1487.4,78.5L1491.2,80.9L1494.1,83.1L1498,86.5L1500.9,89.6L1503.8,93.1L1506.7,97L1509.6,101.5L1512.6,106.7L1514.1,110.2L1514.9,113.1L1515.2,116L1515.3,120.8L1515.4,196.8L1512.2,197.8L1512.2,198.7L1511.9,199.7L1511.6,200.4L1510.6,201.3L1507.9,202.6L1496.1,209L1493.2,210.3L1487.4,211.8L1480.6,213.2L1474.8,214L1465.1,214.8L1447.6,215.8L1417.6,215.8L1393.4,214.9L1346.9,212.8L1308.1,212Z"/>
<path fill="#feed00" d="M1308.1,448L1714.1,448L1714.1,44.8L1322.5,44.8L1334.3,49.9L1343,53.2L1352.7,56.1L1362.4,58.3L1374,60.1L1386.6,61.3L1401.1,62.2L1441.8,63.9L1453.4,64.8L1462.2,65.9L1471.9,67.7L1479.6,69.9L1483.5,71.5L1487.4,73.4L1490.3,75.1L1493.2,77.2L1497,80.5L1500,83.6L1502.9,87.2L1505.8,91.5L1508.7,96.5L1511.6,102.3L1514.1,108.3L1515.1,112.1L1515.5,115L1515.6,119.8L1515.8,196.8L1514.5,197.4L1512.5,197.8L1512.5,199.7L1512.1,200.7L1511.6,201.7L1510.6,202.5L1498,210L1494.1,212L1488.3,213.9L1481.5,215.4L1475.7,216.3L1466,217.2L1455.4,218L1447.6,218.3L1417.6,218.2L1402.1,217.7L1346.9,214.8L1308.1,213.9Z"/>
<path fill="#ffbd00" d="M1308.1,448L1714.1,448L1714.1,44.8L1323.3,44.8L1336.2,49L1346.9,51.9L1357.5,54.2L1369.1,55.9L1379.8,56.9L1392.4,57.7L1434.1,59.2L1446.7,59.8L1457.3,60.6L1467,61.8L1475.7,63.5L1482.5,65.6L1488.3,68.2L1491.2,69.9L1494.1,71.9L1498,75.4L1500.9,78.7L1503.8,82.7L1506.4,87.1L1508.7,91.7L1511.6,98.6L1514,105.4L1515.5,111.2L1515.9,114L1516,118.9L1516.1,196.8L1515.5,197.2L1513.1,197.8L1513.2,198.7L1512.9,200.7L1511.6,203.2L1510.6,204L1502.9,209.2L1497,212.8L1494.1,214.3L1488.3,216.2L1481.5,217.9L1475.7,218.8L1467,219.7L1456.4,220.5L1448.6,220.9L1417.6,220.8L1402.1,220.1L1346.9,216.9L1325.5,216.2L1308.1,215.9Z"/>
<path fill="#ff8900" d="M1308.1,448L1714.1,448L1714.1,44.8L1324.5,44.8L1337.2,47.7L1347.8,49.7L1358.5,51.3L1370.1,52.5L1380.8,53.2L1393.4,53.8L1446.7,55.3L1458.3,56L1468,56.9L1476.7,58.4L1484.5,60.4L1487.4,61.4L1490.8,63L1493.2,64.3L1496.1,66.4L1499,68.9L1502.3,72.7L1504.8,76.5L1507.7,82.2L1510.1,88.1L1512.6,95.9L1514.5,103.4L1515.9,110.2L1516.3,114L1516.4,118.9L1516.5,196.8L1515.5,197.5L1513.9,197.8L1514,199.7L1513.5,201.6L1512.6,203.5L1511.6,204.9L1503.8,210.7L1495.1,216.1L1493.2,217L1490.3,218L1482.5,220.1L1476.7,221.1L1468,222.1L1456.4,223.1L1448.6,223.4L1417.6,223.2L1403.1,222.5L1347.8,218.9L1325.5,218.1L1308.1,217.7Z"/>
<path fill="#ff5900" d="M1308.1,448L1714.1,448L1714.1,44.8L1327.3,44.8L1338.1,46.2L1348.8,47.4L1359.5,48.3L1370.1,49L1392.4,49.8L1447.6,50.8L1460.2,51.3L1470.9,52.1L1480.6,53.3L1488.3,55L1492.2,56.3L1495.1,57.6L1497.9,59.2L1500,60.7L1502.9,63.4L1505.5,66.9L1507.7,70.9L1509.6,75.6L1511.4,81.3L1513,88.1L1514.5,96L1516,106.3L1516.6,112.1L1516.8,117.9L1516.9,196.8L1516.4,197.4L1515.1,197.8L1515.1,199.7L1514.4,202.6L1512.8,205.5L1511.6,207.1L1503.8,213.1L1496.1,218.1L1494.1,219.1L1491.2,220.2L1483.5,222.5L1477.7,223.6L1468,224.9L1456.4,225.8L1448.6,226.2L1417.6,225.9L1404,225.1L1370.1,222.6L1346.9,221L1324.6,220.1L1308.1,219.8Z"/>
<path fill="#ff2500" d="M1308.1,448L1714.1,448L1714.1,44.8L1341.6,44.8L1373,45.6L1452.5,46.3L1467,46.6L1478.6,47L1489.3,47.9L1497,49.2L1500,49.9L1502.9,51.1L1504.8,52.1L1506.7,53.5L1508.7,55.6L1510.4,58.2L1511.6,61.1L1512.8,65L1513.6,68.8L1514.5,74.6L1515.9,89L1517,106.3L1517.3,115L1517.2,199.7L1516.9,201.6L1515.9,204.5L1514.2,207.4L1512.6,209.4L1507.7,213.6L1503.8,216.7L1497,221.1L1495.1,222.2L1492.2,223.5L1483.5,226.1L1477.7,227.3L1468.9,228.4L1459.3,229.3L1449.6,229.9L1439.9,229.9L1417.6,229.5L1400.2,228.3L1370.4,225.7L1344.9,223.8L1321.5,222.8L1308.1,222.5Z"/>
<path fill="#da0000" d="M1564.2,437.4L1578.4,437.9L1592,438.2L1604.6,438.3L1618.2,438L1652.1,436.8L1663.7,435.9L1674.4,434.7L1680.2,433.7L1684.1,432.7L1687.9,431.2L1690.8,429.7L1693.2,427.8L1695.6,424.9L1697.3,422L1698.8,418.2L1699.7,414.3L1700.7,408.5L1701.5,400.8L1702.1,392.2L1703.3,361.4L1704,328.7L1704.4,269L1704.3,224.7L1703.2,150.6L1702.2,116L1701.2,101.5L1700,90L1698.5,81.3L1696.5,74.6L1695.3,71.7L1693.8,68.9L1692.2,66.9L1690.8,65.5L1688.9,63.9L1686,62.1L1681.2,60.2L1675.3,58.9L1666.6,57.7L1653.1,56.5L1638.5,55.6L1627.9,55.3L1618.2,55.2L1591,55.8L1577.5,56.4L1567.8,57L1559.1,57.8L1551.3,58.9L1546.5,59.9L1541.6,61.6L1538.7,63.2L1535.8,65.4L1533.9,67.5L1532.3,69.8L1531.3,71.7L1530.2,74.6L1529.4,77.5L1528.6,81.3L1527.6,90L1526.9,103.5L1526.2,123.7L1525,194.9L1524.2,196L1523.4,197.8L1523.2,201.6L1522.2,205.1L1520.2,209.3L1519,211.2L1517.5,213.2L1513.6,217L1506.3,222.8L1500.4,226.6L1495,229.5L1489.7,231.5L1483.5,233.3L1478.6,234.3L1473.8,235.1L1465.1,236.2L1457.3,236.8L1451.5,237.2L1445.7,237.2L1424.4,236.7L1413.9,236.3L1393.4,234.3L1371.1,231.8L1349.8,229.8L1324.6,228.3L1308.1,227.8L1308.1,293L1484.5,293L1500.5,294L1523.2,294.4L1524,295L1524.2,295.6L1524.6,295.9L1524.8,296.9L1525.3,307.5L1526.9,369.1L1528.1,400.8L1529,412.4L1529.4,415.3L1530.4,419.1L1532.2,423.9L1534.5,427.8L1537.3,430.7L1540.7,432.9L1544.5,434.4L1550.3,435.9L1557.1,436.9Z"/>
<path fill="#9b0000" d="M1584.1,419.1L1589.1,419.5L1597.8,419.9L1614.3,420L1625.9,419.3L1637.6,418L1645.3,416.4L1653.1,413.9L1656.6,412.4L1659.8,410.8L1662.7,409L1665.7,406.9L1668.2,404.7L1670.5,402.3L1672.5,399.9L1674.4,397.2L1677.6,391.2L1680.7,383.5L1683.6,373.9L1685.9,363.3L1688.6,347.9L1690.4,334.4L1691.3,325.8L1692.4,310.4L1693.2,290.2L1693.2,244L1692.4,215.1L1691.2,196.8L1689.4,176.6L1688.1,165.1L1686.8,155.4L1685.3,145.8L1683.6,137.1L1682,130.4L1680.3,124.6L1678.4,119.8L1676.2,115L1674.1,111.2L1671.5,107.3L1668.6,103.6L1665.7,100.5L1661.5,96.7L1656.9,93.1L1652.1,90L1647.2,87.4L1641.4,84.7L1636.6,82.9L1632.7,81.9L1627.9,81L1622,80.2L1612.4,79.6L1600.7,79.8L1590.1,80.7L1586.2,81.4L1582.3,82.3L1577.5,83.9L1573.6,85.4L1569.7,87.1L1565.8,89.4L1562.9,91.3L1559.9,93.8L1557.1,96.5L1554.5,99.6L1550.6,105.4L1547.1,112.1L1544.1,119.8L1542,127.5L1539.5,141L1534.1,175.6L1533.1,185.3L1532.4,197.8L1532,198.7L1531.2,199.7L1531,202.6L1530.3,204.5L1529.9,206.4L1528.1,210.3L1527.4,211.2L1527.1,212.2L1526.3,213.2L1525.2,215.2L1522.2,218.8L1521.2,219.9L1515.2,224.7L1511.6,226.8L1507.7,229.6L1500.9,233.2L1496.1,235.3L1491.2,237L1485.4,238.7L1480.6,239.9L1475.7,240.8L1468,241.9L1457.3,242.9L1448.6,243.2L1425.3,242.6L1412.7,241.9L1393.4,239.7L1367.2,236.3L1348.9,234.3L1336.1,233.4L1321.7,232.6L1308.1,232.2L1308.1,287L1485.4,287L1500,287.9L1509.6,288.2L1515.5,288.7L1518.4,289.1L1521.3,289.8L1523.2,290.5L1525.2,291.7L1527.1,293.4L1528.7,295.9L1529.9,298.8L1530.8,302.7L1532.8,316.1L1537,352.7L1539,366.2L1540.7,374.9L1542.6,382.6L1544.6,389.3L1546.9,395.1L1549.5,399.9L1552.9,404.7L1556.6,408.5L1561,412L1565.8,414.6L1570.7,416.4L1577.5,418.1Z"/>
<path d="M1304.2,197.7L1523.7,197.7L1523.7,51.3L1707.9,51.3L1707.9,441.7L1523.7,441.7L1523.7,294.2L1304.2,294.2M1320.4,40.9L1320.4,112.9L1517.5,112.9M1517.5,40.9L1517.5,197.7M1511.3,112.9L1511.3,197.7M1320.4,451.8L1320.4,379.1L1517.5,379.1M1517.5,451.8L1517.5,294.2M1511.3,379.1L1511.3,294.2" fill="none" stroke="#fff" stroke-opacity="0.42" stroke-width="1.5"/>
</g>
<rect x="1308.10" y="44.75" width="406.00" height="403.25" fill="none" stroke="#000" stroke-width="1.70"/>
<text x="1306.7" y="27.2" font-family='"Liberation Sans", sans-serif' font-size="32.2" fill="#000">(c) 25 mTorr</text>
<rect x="1768.10" y="367.05" width="20.50" height="81.25" fill="#0000f1"/>
<rect x="1768.10" y="286.40" width="20.50" height="81.25" fill="#00b0ff"/>
<rect x="1768.10" y="205.75" width="20.50" height="81.25" fill="#7dff7a"/>
<rect x="1768.10" y="125.10" width="20.50" height="81.25" fill="#ffc400"/>
<rect x="1768.10" y="44.45" width="20.50" height="81.25" fill="#f10800"/>
<rect x="1768.10" y="44.75" width="20.50" height="403.25" fill="none" stroke="#000" stroke-width="1.70"/>
<text x="1799.9" y="52.2" font-family='"DejaVu Sans", "Liberation Sans", sans-serif' font-size="19.4" fill="#000">11.9</text>
<text x="1799.9" y="132.9" font-family='"DejaVu Sans", "Liberation Sans", sans-serif' font-size="19.4" fill="#000">-7.1</text>
<text x="1799.9" y="213.6" font-family='"DejaVu Sans", "Liberation Sans", sans-serif' font-size="19.4" fill="#000">-26.0</text>
<text x="1799.9" y="294.2" font-family='"DejaVu Sans", "Liberation Sans", sans-serif' font-size="19.4" fill="#000">-45.0</text>
<text x="1799.9" y="374.9" font-family='"DejaVu Sans", "Liberation Sans", sans-serif' font-size="19.4" fill="#000">-63.9</text>
<text x="1799.9" y="455.5" font-family='"DejaVu Sans", "Liberation Sans", sans-serif' font-size="19.4" fill="#000">-82.9</text>
<path d="M1789.45,44.75h6.40M1789.45,125.40h6.40M1789.45,206.05h6.40M1789.45,286.70h6.40M1789.45,367.35h6.40M1789.45,448.00h6.40" stroke="#000" stroke-width="1.70" fill="none"/>
<text x="1814.0" y="27.4" text-anchor="end" font-family='"Liberation Sans", sans-serif' font-size="32.2" fill="#000"><tspan font-family='"DejaVu Math TeX Gyre", "DejaVu Serif", serif' font-size="30.5">ϕ</tspan> (V)</text></g>
<g><clipPath id="c01"><rect x="87.10" y="558.80" width="406.00" height="403.20"/></clipPath>
<g clip-path="url(#c01)">
<rect x="86.10" y="557.80" width="408.00" height="405.20" fill="#00009b"/>
<path fill="#0000da" d="M378.4,886.5L384.5,886.6L391.3,886L398,884.4L403.5,882.2L408.9,879.2L413,876.1L417.6,871.7L422.2,866.3L426.8,859.5L431.3,851.4L435.7,842L439.4,832.5L442.4,823.1L444.9,813.7L446.7,804.2L448.2,793.4L448.8,771.9L448.6,761.1L448.1,751.6L448.1,744.9L447.8,740.8L446.1,727.4L443.8,713.9L440.9,701.7L438.5,693.6L435,684.2L431.2,676.1L427.4,669.4L422.7,662.6L419.8,659.1L417.1,656.1L411.6,650.9L406.2,646.6L402.1,644.1L399.4,642.6L395.3,640.7L392.6,639.6L389.9,638.7L385.8,637.7L383.1,637.3L379,637L375,637.1L372.3,637.4L366.8,638.6L364.1,639.5L361.4,640.7L354.6,644.3L350.5,647L347.8,649.2L343.7,652.9L339.7,657.5L336,662.6L332.8,668L330.2,673.3L327.4,679.4L319.3,700.4L316.5,707.1L313.9,712.5L310.8,717.9L308.8,720.6L307.1,722.6L304.4,725.3L301.9,727.4L298,730.1L295.7,731.4L292.9,732.8L289.6,734.1L284.9,735.5L282.6,735.8L275.8,736.8L271.8,736.9L260,736.8L246,736L243.3,736.2L238.2,736.8L232.4,737L191.7,737.1L131.9,738.2L87.1,738.6L87.1,802.6L129.2,802.3L195.7,802.4L235.1,801.9L246,802.4L256.8,801.7L269.7,800.2L282.6,799.6L286.7,799.6L290.8,799.9L292.5,800.2L298.4,801.5L303,803.2L304.8,804.2L306.7,805.6L308.1,806.9L310.5,809.6L313.4,813.7L315.8,817.7L318.5,823.1L327.4,844.4L331.5,852.8L334.2,857.4L336.9,861.5L339.7,865L343.1,869L347.8,873.4L351.9,876.6L356,879.3L361.4,882.3L364.1,883.5L368.2,884.8L373.6,885.9Z"/>
<path fill="#0004ff" d="M369,843.3L373.6,843.4L379,842.7L383.1,841.6L387.2,839.9L391.3,837.6L396.7,833.5L400.8,829.7L404.8,825L408.3,820.4L411.6,815L414.3,809.6L416.6,804.2L418.4,798.5L420,792.1L421.1,785.3L421.7,778.6L422.1,770.5L422,766.5L420.6,754.3L419.3,746.2L417.6,738.1L415.7,731.4L413.4,724.7L410.5,717.9L407.7,712.5L404.3,707.1L400.8,702.5L396.7,698.2L392.6,694.7L388.5,691.9L383.1,688.9L379,687.3L375,686L370.9,685.3L366.8,685L362.7,685.3L358.7,686L354.6,687.2L350.5,688.9L347.8,690.4L342.4,694.1L336.9,699.1L331.5,705.2L322.5,716.6L318,722L314.1,726L311,728.7L307.3,731.4L305.1,732.8L299.8,735.5L296.4,736.8L292.2,738.1L286.2,739.5L278.6,740.4L271.8,740.7L265,740.6L237.8,739.5L218.8,739.7L198.4,739.6L174,740L123.8,741.2L87.1,741.6L87.1,799.7L123.8,799.5L175.4,799.9L201.2,800L218.8,799.6L246,799.4L256.8,798.9L270,797.5L281.3,796.9L289.4,796.9L295.3,797.5L301.6,798.8L305.6,800.2L311.3,802.9L315.6,805.6L319.2,808.3L323.8,812.3L335.6,824.2L341,829.4L346.5,833.9L351.9,837.6L356,839.8L360,841.5L364.1,842.6Z"/>
<path fill="#003cff" d="M349.3,815L353.2,815.5L357.3,815.5L361.4,815L365.5,814.1L369.5,812.7L373.6,810.8L377.6,808.3L380.4,806.1L383.1,803.6L386,800.2L387.9,797.5L390.2,793.4L392,789.4L393.3,785.3L394.3,781.3L394.9,777.3L395.6,770.5L395.7,767.8L395.3,763.8L394.3,757L393.2,751.6L391.6,746.2L389.6,740.8L387.7,736.8L385.3,732.8L383.1,729.6L380.4,726.3L377.4,723.3L374,720.6L370.9,718.7L366.8,716.8L362.7,715.4L357.3,714.3L351.9,714.1L347.8,714.3L345.1,714.8L339.7,716.2L335.6,717.8L331.5,720.1L327.4,722.9L318.3,730.1L314.2,732.8L308.4,735.9L303.2,738.1L297.6,739.9L292.1,741.2L285.3,742.1L278.6,742.6L271.8,742.7L239.2,741.4L218.8,741.7L195.7,741.6L174,742.1L123.7,743.5L87.1,744L87.1,797.3L123.8,797.3L174,798L199.8,798.1L217.5,797.7L244.6,797.4L258.2,797L269.1,795.9L279.9,795.2L288.1,795L294.9,795.3L300.3,795.8L304.4,796.5L308.8,797.5L313.2,798.8L316.6,800.2L322.4,802.9L334.2,809.4L339.7,812L345.1,814Z"/>
<path fill="#0070ff" d="M327.2,797.5L335.6,798.5L342.4,798.6L346.5,798.2L349.2,797.6L351.9,796.8L354.6,795.7L357.3,794.2L360,792.3L361.8,790.7L364.3,788L366.2,785.3L367.7,782.7L369.5,778.7L370.5,775.9L371.4,771.9L371.7,769.2L371.8,766.5L371.5,763.8L370.9,760.8L369.8,757L368.1,753L366.6,750.3L364.9,747.6L362.7,744.9L360.1,742.2L357.3,739.8L354.6,737.9L351.9,736.3L349.2,735L345.1,733.5L341.6,732.8L338.3,732.4L334.2,732.4L330.2,732.9L323.4,734.8L309.8,739.8L303,742L298.9,742.9L294.9,743.6L285.3,744.4L278.6,744.6L270.4,744.5L239.2,743L218.8,743.5L197.1,743.3L174,743.8L122.4,745.6L87.1,746.1L87.1,795.2L121,795.3L175.4,796.3L199.8,796.5L217.5,796L240.5,795.8L255.5,795.4L279.9,793.6L288.1,793.3L294.9,793.2L301.6,793.4L308.4,794.1L315.2,795.1Z"/>
<path fill="#00a8ff" d="M176.3,794.8L201.2,794.9L217.5,794.5L233.7,794.4L255.5,793.6L286.7,791.3L309.8,789.9L316.6,789.3L323.4,788.3L330.2,786.8L334.3,785.3L336.9,784L338.9,782.7L342.2,780L344.5,777.3L345.3,775.9L346.7,773.2L347.8,769.2L347.9,767.8L347.6,765.1L346.4,761.1L344.3,757L341.1,753L338.3,750.3L335.6,748.5L331.5,746.6L327.4,745.6L323.4,745.1L316.6,745.2L298.9,746.5L288.1,746.7L271.8,746.4L237.8,744.6L218.8,745.1L195.7,744.9L174,745.4L121,747.5L87.1,748.1L87.1,793.3L123.8,793.5Z"/>
<path fill="#00dcfe" d="M181.1,793.4L198.4,793.6L217.5,793.1L235.1,792.9L268.6,790.7L280.8,789.4L289.5,788L297.6,786.4L306.5,784L311.1,782.4L313.6,781.3L316,780L319.8,777.3L321.3,775.9L323.4,773.2L324.7,770.5L325.1,769.2L325.3,766.5L324.7,764.3L323.8,762.4L322.8,761.1L321.5,759.7L317.8,757L312.5,754.3L307.1,752.5L300.3,751L292.1,749.8L281.5,748.9L246,747L236.5,746.2L217.5,746.6L198.4,746.3L174,747L121,749.3L87.1,750L87.1,791.4L123.8,791.8Z"/>
<path fill="#26ffd1" d="M181.7,792.1L198.4,792.3L217.5,791.7L233.7,791.6L260.9,789.2L273.1,787.4L281.3,785.6L286.7,784L290.8,782.5L296.3,780L300.5,777.3L302.2,775.9L304.4,773.8L305.8,771.9L306.5,770.5L306.9,769.2L307,767.8L306.7,766.5L306.1,765.1L305.2,763.8L303,761.4L298.9,758.4L293.8,755.7L288.1,753.6L282.6,752.2L274.5,750.7L266.3,749.9L243.3,748.4L235.1,747.7L217.5,748L195.7,747.7L174,748.4L121,751.1L87.1,751.9L87.1,789.6L122.4,790.1Z"/>
<path fill="#50ffa7" d="M180.6,790.7L199.8,791L217.5,790.4L233.7,790.2L254.1,788.2L260.9,787.3L266.3,786.2L271.8,784.8L278.6,782.3L283.5,780L286.7,777.8L288.8,775.9L290,774.6L291.5,771.9L292.3,769.2L292.4,767.8L292.1,766.5L291.7,765.1L290.3,762.4L288.1,759.7L286.6,758.4L284.7,757L282.2,755.7L277.2,753.7L273.1,752.6L267.4,751.6L254.1,750.4L236.5,749.2L232.4,749.1L217.5,749.4L201.2,749.1L188.9,749.2L172.6,749.9L122.4,752.8L103.4,753.4L87.1,753.7L87.1,787.8L122.4,788.4Z"/>
<path fill="#7dff7a" d="M179.2,789.4L199.8,789.7L217.5,789L233.7,788.8L247.3,787.6L255.5,786.5L263.6,784.9L269.1,783.3L273.7,781.3L278.2,778.6L279.9,777.3L281.3,775.9L282.2,774.6L282.9,773.2L283.6,770.5L283.7,766.5L283.2,763.8L282,761.1L281,759.7L279.5,758.4L277.6,757L274.9,755.7L271.2,754.3L264,753L254.1,751.8L246,751.1L236.5,750.6L231,750.5L217.5,750.7L199.8,750.4L188.9,750.6L172.6,751.3L136,753.8L121,754.6L103.4,755.3L87.1,755.6L87.1,785.9L121,786.6Z"/>
<path fill="#a7ff50" d="M178.1,788L198.4,788.5L217.5,787.7L232.4,787.4L244.6,786.5L252,785.3L258.6,784L263.3,782.7L266.8,781.3L269.4,780L271.3,778.6L272.8,777.3L273.8,775.9L274.6,774.6L275.5,771.9L275.8,767.8L275.4,763.8L275,762.4L274.3,761.1L273.3,759.7L271.8,758.4L269.4,757L266.3,756L259.3,754.3L250.4,753L243.3,752.3L236.5,752L217.5,752.1L199.8,751.7L188.9,751.9L171.3,752.8L121,756.5L102,757.3L87.1,757.7L87.1,783.9L102,784.2L119.7,784.8Z"/>
<path fill="#d1ff26" d="M177.7,786.7L190.3,787.1L198.4,787.2L206.6,787L217.5,786.4L231,786.1L243.3,785L248.7,784L252.8,783.1L258.2,781.5L261.8,780L264.1,778.6L265.9,777.3L267.1,775.9L268,774.6L268.9,771.9L269.2,767.8L268.9,765.1L268.6,763.8L267.9,762.4L266.3,760.6L265.2,759.7L262.7,758.4L259.2,757L254.2,755.7L246.6,754.3L241.9,753.8L233.7,753.4L217.5,753.5L199.8,753L187.6,753.3L171.3,754.3L134.6,757.4L118.3,758.6L102,759.5L87.1,759.9L87.1,781.7L100.7,782L119.7,782.8Z"/>
<path fill="#feed00" d="M178.1,785.3L193,785.9L205.2,785.7L217.5,785L232.4,784.5L240.5,783.6L245.6,782.7L250.4,781.3L254.1,780L256.9,778.6L258.8,777.3L260.1,775.9L261.1,774.6L261.7,773.2L262,771.9L262.3,767.8L261.8,765.1L261.3,763.8L260.4,762.4L259,761.1L256.9,759.7L252.8,758L249.2,757L244.6,756.1L240.5,755.5L232.4,755L217.5,754.9L202.5,754.4L190.3,754.6L174,755.5L119.7,760.8L102,762L87.1,762.6L87.1,779.1L99.3,779.5L118.3,780.6L155,783.7Z"/>
<path fill="#ffbd00" d="M179.5,784L194.4,784.6L205.2,784.4L231,783L235.1,782.5L241.8,781.3L246.4,780L249.5,778.6L251.8,777.3L253.5,775.9L254.6,774.6L255.4,773.2L255.8,771.9L256.1,769.2L255.8,766.5L255.3,765.1L254.5,763.8L253.3,762.4L251.3,761.1L247.3,759.3L244.5,758.4L241.9,757.8L236.2,757L231,756.6L217.5,756.4L199.8,755.8L188.9,756.1L172.6,757.2L149.1,759.7L134.6,761.7L114.3,764.1L96.6,765.7L87.1,766.3L87.1,775.4L99.3,776.2L115.6,777.6L150.9,781.6L171.3,783.5Z"/>
<path fill="#ff8900" d="M181.8,782.7L194.4,783.2L203.9,783L228.3,781.5L232.4,781L236.5,780.2L242,778.6L244.9,777.3L246.8,775.9L248.1,774.6L249,773.2L249.5,771.9L249.7,770.5L249.7,767.8L249.3,766.5L248.7,765.1L247.7,763.8L246,762.4L243.3,761L237.8,759.5L232.4,758.6L228.3,758.3L203.9,757.3L195.7,757.3L186.2,757.7L174,758.7L154.9,761.1L146.8,762.3L124.8,766.5L119.3,767.8L115.3,769.2L113.3,770.5L113.9,771.9L117.1,773.2L122.2,774.6L128.7,775.9L144.3,778.6L154,780L171.3,781.9Z"/>
<path fill="#ff5900" d="M185.6,781.3L195.7,781.7L205.2,781.5L224.6,780L232.4,778.8L237.1,777.3L239.8,775.9L241.6,774.6L242.7,773.2L243.3,771.9L243.6,770.5L243.5,767.8L243,766.5L242,765.1L240.4,763.8L237.8,762.4L232.4,760.8L225.6,760L207.9,759.1L195.7,758.9L186.2,759.4L174,760.5L169.5,761.1L153.4,763.8L147.2,765.1L142.6,766.5L139.1,767.8L136.7,769.2L135.6,770.5L136.1,771.9L138,773.2L141.2,774.6L148.2,776.5L156.4,778L169.9,780Z"/>
<path fill="#ff2500" d="M192.1,780L199.8,780L207.9,779.6L222.9,778L227,777.4L229.7,776.7L232.2,775.9L233.7,775L234.5,774.6L235.9,773.2L236.7,771.9L237.1,770.5L237.1,769.2L236.8,767.8L236,766.5L234.6,765.1L233.7,764.6L231,763.4L227,762.5L222.9,762L207.9,760.9L201.2,760.6L195.7,760.6L187.6,761.1L180.8,761.7L174,762.6L167.4,763.8L156.6,766.5L153,767.8L150.7,769.2L149.8,770.5L150.3,771.9L152.2,773.2L155.6,774.6L160.6,775.9L166.9,777.3L174,778.4L184.9,779.5Z"/>
<path fill="#da0000" d="M183.5,777.3L193,778L201.2,778.1L210.7,777.3L219.8,775.9L225.5,774.6L228.2,773.2L229.6,771.9L230.2,770.5L230.1,769.2L229.4,767.8L227.7,766.5L225.6,765.6L222.9,764.9L215.2,763.8L207.9,763L202.5,762.6L197.1,762.6L191.7,762.8L186.2,763.4L174,765.3L169.6,766.5L166.4,767.8L164.4,769.2L163.6,770.5L164.1,771.9L165.9,773.2L169.1,774.6L174.2,775.9Z"/>
<path fill="#9b0000" d="M185.5,774.6L190.3,775.2L195.7,775.7L199.8,775.6L205.2,775.2L209.6,774.6L214.9,773.2L218,771.9L219.2,770.5L218.8,769.2L217.5,768.4L216.3,767.8L212,766.6L205.2,765.5L198.4,765.1L193,765.4L185.6,766.5L180.6,767.8L177.7,769.2L176.6,770.5L177.4,771.9L180.3,773.2Z"/>
<path d="M83.2,711.7L302.7,711.7L302.7,565.3L486.9,565.3L486.9,955.7L302.7,955.7L302.7,808.2L83.2,808.2M99.4,555.0L99.4,627.0L296.5,627.0M296.5,555.0L296.5,711.7M290.3,627.0L290.3,711.7M99.4,965.8L99.4,893.1L296.5,893.1M296.5,965.8L296.5,808.2M290.3,893.1L290.3,808.2" fill="none" stroke="#fff" stroke-opacity="0.42" stroke-width="1.5"/>
</g>
<rect x="87.10" y="558.80" width="406.00" height="403.20" fill="none" stroke="#000" stroke-width="1.70"/>
<text x="75.5" y="969.5" text-anchor="end" font-family='"DejaVu Sans", "Liberation Sans", sans-serif' font-size="19.4" fill="#000">0.0</text>
<text x="75.5" y="873.8" text-anchor="end" font-family='"DejaVu Sans", "Liberation Sans", sans-serif' font-size="19.4" fill="#000">2.5</text>
<text x="75.5" y="778.0" text-anchor="end" font-family='"DejaVu Sans", "Liberation Sans", sans-serif' font-size="19.4" fill="#000">5.0</text>
<text x="75.5" y="682.3" text-anchor="end" font-family='"DejaVu Sans", "Liberation Sans", sans-serif' font-size="19.4" fill="#000">7.5</text>
<text x="75.5" y="586.6" text-anchor="end" font-family='"DejaVu Sans", "Liberation Sans", sans-serif' font-size="19.4" fill="#000">10.0</text>
<text transform="translate(27.3,762.4) rotate(-90)" text-anchor="middle" font-family='"Liberation Sans", sans-serif' font-size="33.0" fill="#000">z (cm)</text>
<text x="87.1" y="988.2" text-anchor="middle" font-family='"DejaVu Sans", "Liberation Sans", sans-serif' font-size="19.4" fill="#000">0.0</text>
<text x="183.4" y="988.2" text-anchor="middle" font-family='"DejaVu Sans", "Liberation Sans", sans-serif' font-size="19.4" fill="#000">2.5</text>
<text x="279.6" y="988.2" text-anchor="middle" font-family='"DejaVu Sans", "Liberation Sans", sans-serif' font-size="19.4" fill="#000">5.0</text>
<text x="375.9" y="988.2" text-anchor="middle" font-family='"DejaVu Sans", "Liberation Sans", sans-serif' font-size="19.4" fill="#000">7.5</text>
<text x="472.1" y="988.2" text-anchor="middle" font-family='"DejaVu Sans", "Liberation Sans", sans-serif' font-size="19.4" fill="#000">10.0</text>
<text x="286.1" y="1026.6" text-anchor="middle" font-family='"Liberation Sans", sans-serif' font-size="32.5" fill="#000">r (cm)</text>
<path d="M79.85,962.00h6.40M79.85,866.27h6.40M79.85,770.55h6.40M79.85,674.82h6.40M79.85,579.09h6.40M87.10,962.85v6.40M183.35,962.85v6.40M279.61,962.85v6.40M375.86,962.85v6.40M472.12,962.85v6.40" stroke="#000" stroke-width="1.70" fill="none"/>
<text x="85.7" y="541.3" font-family='"Liberation Sans", sans-serif' font-size="32.2" fill="#000">(d) 100 mTorr</text>
<rect x="546.96" y="881.06" width="20.50" height="81.24" fill="#0000f1"/>
<rect x="546.96" y="800.42" width="20.50" height="81.24" fill="#00b0ff"/>
<rect x="546.96" y="719.78" width="20.50" height="81.24" fill="#7dff7a"/>
<rect x="546.96" y="639.14" width="20.50" height="81.24" fill="#ffc400"/>
<rect x="546.96" y="558.50" width="20.50" height="81.24" fill="#f10800"/>
<rect x="546.96" y="558.80" width="20.50" height="403.20" fill="none" stroke="#000" stroke-width="1.70"/>
<text x="578.8" y="566.3" font-family='"DejaVu Sans", "Liberation Sans", sans-serif' font-size="19.4" fill="#000">2.1</text>
<text x="578.8" y="646.9" font-family='"DejaVu Sans", "Liberation Sans", sans-serif' font-size="19.4" fill="#000">1.7</text>
<text x="578.8" y="727.6" font-family='"DejaVu Sans", "Liberation Sans", sans-serif' font-size="19.4" fill="#000">1.2</text>
<text x="578.8" y="808.2" font-family='"DejaVu Sans", "Liberation Sans", sans-serif' font-size="19.4" fill="#000">0.8</text>
<text x="578.8" y="888.9" font-family='"DejaVu Sans", "Liberation Sans", sans-serif' font-size="19.4" fill="#000">0.4</text>
<text x="578.8" y="969.5" font-family='"DejaVu Sans", "Liberation Sans", sans-serif' font-size="19.4" fill="#000">0.0</text>
<path d="M568.31,558.80h6.40M568.31,639.44h6.40M568.31,720.08h6.40M568.31,800.72h6.40M568.31,881.36h6.40M568.31,962.00h6.40" stroke="#000" stroke-width="1.70" fill="none"/>
<text x="643.0" y="541.4" text-anchor="end" font-family='"Liberation Sans", sans-serif' font-size="32.2" fill="#000">n<tspan font-size="22.5" dy="8.0">e</tspan><tspan dy="-8.0"> </tspan>(10<tspan font-size="22" dy="-9.8">15</tspan><tspan dy="9.8"> m</tspan><tspan font-size="22" dy="-9.8">-3</tspan><tspan dy="9.8">)</tspan></text></g>
<g><clipPath id="c11"><rect x="697.45" y="559.80" width="406.00" height="403.00"/></clipPath>
<g clip-path="url(#c11)">
<rect x="696.45" y="558.80" width="408.00" height="405.00" fill="#00009b"/>
<path fill="#0000da" d="M954.5,955L1016.7,955.1L1066,954.9L1089.5,954.4L1094.9,954.1L1095.2,953.2L1095.4,947.9L1096,917.9L1096.1,766.1L1096,606L1095.4,575.7L1095.1,568.3L1094.9,568.1L1073.5,567.5L1054.2,567.3L988.8,567.2L947,567.3L924.6,567.7L914.9,568.1L914.8,568.3L914.4,582.1L914,605.5L913.7,709.7L913.6,711.9L913.3,712.9L912.8,713.2L886,713.8L697.5,713.8L697.5,809.4L910.6,809.4L912.9,809.7L913.4,834.1L913.9,915L914.8,953.2L914.9,953.8L916,954.2Z"/>
<path fill="#0004ff" d="M952,953.2L996.3,953.6L1048.8,953.4L1072.4,952.6L1085.2,951.8L1091.7,951.3L1091.9,951.1L1092.3,950L1093.6,933L1094.1,920.3L1094.4,907.5L1094.7,866L1094.8,752.3L1094.6,644.9L1094.3,611.9L1094,599.1L1093.3,586.4L1092.1,571.5L1091.7,571.1L1073.5,569.8L1056.3,569L1041.3,568.8L1003.8,568.7L966.3,568.7L951.3,569L934.2,569.7L918.1,571L917.7,571.5L916.9,581.1L916.3,591.7L915.8,602.3L915.5,619.3L915.2,697L914.5,712.9L913.8,714L912.8,714.3L907.4,714.9L886,715.9L697.5,716L697.5,809L909.6,809L910.6,809.1L912.8,809.5L913,809.7L913.3,813.9L913.8,825.6L914.9,894.7L915.4,913.9L916.5,935.2L917.7,950L918,951.1L933.1,952.4Z"/>
<path fill="#003cff" d="M990.9,952.2L1030.6,952L1057.4,951.4L1069.2,950.7L1078.8,949.8L1088.5,948.5L1089.5,947.9L1091.2,934.1L1092.1,924.5L1092.7,911.8L1093,896.9L1093.3,866L1093.4,796.9L1093.2,669.3L1093,627.9L1092.4,605.5L1091.7,594.3L1090.1,580L1089.2,574.7L1088.5,574L1085.2,573.4L1074.5,572.1L1057.4,570.9L1042.4,570.4L1009.2,570.2L972.8,570.3L953.5,570.6L938.5,571.6L921.3,573.7L920.5,574.7L919.7,580L918.5,589.6L917.6,602.3L917.1,619.3L916.5,698L915.6,712.9L914.9,714.3L913.8,715.2L910.6,715.9L907.4,716.3L899.9,716.8L891.3,717.9L886,718.1L697.5,718.2L697.5,808.7L909.6,808.7L910.6,808.7L912.8,809.4L913.1,809.7L913.6,813.9L914.2,824.6L916,894.7L916.8,911.8L918.1,929.2L919.2,938.3L920.7,947.9L921.3,948.5L929.9,949.7L948.1,951.3L962,951.8Z"/>
<path fill="#0070ff" d="M957.1,950L981.3,950.6L1002.8,950.7L1027.4,950.5L1051,950L1066,949.1L1076.7,947.8L1081.2,946.9L1084.8,945.8L1086.3,945L1086.4,944.7L1086.6,943.7L1087.8,940.5L1088.3,938.3L1088.7,934.1L1089.4,930.9L1090.1,925.6L1091,912.8L1091.3,904.3L1091.9,858.6L1091.9,724.6L1091.6,637.4L1091.4,622.5L1091,610.8L1090.6,604.5L1090.1,600.2L1089.7,596L1089.1,592.8L1088.9,589.6L1088.3,585.3L1087.1,578.9L1086.3,577L1085.2,576.4L1081,575.4L1074.5,574.4L1062.7,573.1L1055.2,572.5L1039.2,571.9L997.4,571.7L962,571.9L950.3,572.5L944.9,572.9L935.3,574.2L932.1,574.5L924.6,576.3L923.8,576.8L923.4,578.9L922.3,582.1L921.7,585.3L921,587.4L920.6,589.6L920.5,592.8L919.5,601.3L919,608.7L918.7,623.6L918.1,688.5L917.6,702.3L916.6,712.9L916.3,714L915.6,715L914.9,715.7L913.8,716.4L910.6,717.3L908.5,717.7L899.9,718.6L892.4,719.9L887.1,720.3L697.5,720.4L697.5,808.5L910.6,808.5L912.8,809.3L913.2,809.7L913.8,813.3L914.7,825.6L915.7,848L917.2,893.7L918.1,909.6L919.5,924.5L922.1,939.4L922.3,942.6L922.7,944.7L923.5,945.9L926.7,946.2L934,947.9L946,949.3Z"/>
<path fill="#00a8ff" d="M974,949L978.1,948.9L983.5,949.2L1002.8,949.3L1011.3,949.2L1015.6,949L1027.4,949.1L1047.7,948.6L1066,947.2L1075.5,945.8L1079.9,943.8L1083.1,942.9L1084.2,942.1L1085.2,940.6L1086.2,938.3L1086.4,937.3L1086.3,933.8L1087.7,928.8L1088.3,924.5L1088.8,917.1L1089.4,911.8L1089.8,904.3L1090.4,873.5L1090.3,865L1090.5,857.5L1090.4,845.8L1090.6,822.4L1090.5,802.2L1090.7,764L1090.4,706.5L1090.5,682.1L1090.3,676.8L1090.3,653.4L1090.1,648.1L1090.2,638.5L1089.8,627.9L1089.8,620.4L1089,608.7L1089.1,605.5L1089,604.5L1087.9,600.2L1087.8,596L1086.1,588.5L1085.3,584.3L1084,580L1083.3,578.9L1080.9,577.9L1078.8,577.4L1072.4,576.6L1068.1,575.6L1064.9,575.4L1061.7,574.7L1056.3,574.2L1047.7,573.8L1043.5,573.8L1040.2,573.5L1034.9,573.4L1028.5,573.3L1025.2,573.5L1004.9,573.1L993.1,573.3L979.2,573.2L974.9,573.4L970.6,573.2L961,573.4L950.3,574.5L944.9,574.6L941.7,575.4L938.5,575.7L935.3,576.4L932.4,576.8L929.9,577.8L926.7,578.5L926.3,578.9L926,580L925.1,582.1L924.2,586.4L922.7,590.6L922.4,593.8L921.5,598.1L920.7,608.7L920.3,617.2L920.2,623.6L920.3,627.9L919.9,648.1L920.1,653.4L919.7,665.1L919.7,684.2L919.3,697L918.8,703.3L917.8,711.9L917.3,714L916,716.2L914.9,717.1L912.8,718.2L908.5,719.3L901,720.2L892.4,722L884.9,722.5L880.6,722.4L783.1,722.4L697.5,722.6L697.5,808.4L910.6,808.4L911.7,808.6L912.8,809.2L913.3,809.7L914,812.9L915.3,826.7L916.5,849L918.3,892.6L919.4,908.6L920.2,916L921.4,924.5L922.2,928.8L924.2,936.2L924.7,939.4L924.9,942.6L925.6,943.6L925.9,943.7L929.9,944L935.2,945.8L941.7,946.7L948.1,947.8L959.9,948.7L970.6,948.8Z"/>
<path fill="#00dcfe" d="M962,947.2L970.6,946.9L974.9,947.4L978.1,947.3L982.4,947.8L988.8,947.8L993.1,947.6L997.4,947.8L1002.8,947.8L1007,947.5L1011.3,947.7L1016.7,947.5L1021,947.7L1028.5,947.7L1031.7,947.5L1046.7,947.1L1051,946.2L1055.2,946.3L1059.5,945.7L1064.9,945.4L1069.2,944.4L1073.5,943.9L1074.5,943.6L1076.7,942.4L1079.9,941.5L1081.8,940.5L1083.8,936.2L1084.4,933L1085.4,929.8L1085.9,927.7L1086.4,923.5L1086.5,920.3L1087.5,913.9L1088,909.6L1088.4,905.4L1088.6,900.1L1088.4,895.8L1088.7,891.6L1088.5,886.2L1088.9,882L1088.8,877.7L1089.1,872.4L1088.7,866L1089,861.8L1089.1,856.5L1089,851.2L1088.7,845.8L1089.2,839.5L1089,834.1L1089.2,821.4L1088.9,817.1L1089.4,812.9L1088.9,802.2L1089.3,795.9L1089.1,789.5L1089.3,775.7L1089.1,771.4L1089.5,764L1089.1,755.5L1089.4,737.4L1088.9,733.1L1089.2,728.9L1088.9,724.6L1088.8,720.4L1089.2,714L1088.8,707.6L1089.2,700.2L1088.9,688.5L1089.2,683.1L1088.8,676.8L1089.1,668.3L1088.7,664L1088.6,659.8L1088.8,655.5L1088.7,647L1088.9,639.5L1088.1,626.8L1088.3,621.5L1087.9,614L1087.3,609.8L1087.6,605.5L1087.5,604.5L1086.2,601.3L1085.8,596L1085.2,593.4L1084.5,591.7L1083,589.6L1082.7,588.5L1082.8,585.3L1082.5,583.2L1082,581.9L1081,581L1079.9,580.7L1076.7,580.4L1073.5,579.3L1071.3,578.9L1068.1,577.5L1067,577.4L1064.9,577.7L1063.8,577.6L1060.6,576.4L1056.3,575.8L1043.5,575.3L1040.2,575L1031.7,575L1028.5,574.7L1025.2,575L1008.1,574.8L1004.9,574.6L1000.6,574.8L997.4,574.6L987.8,574.9L979.2,574.6L973.8,574.9L965.3,574.5L962,574.8L957.8,575.5L953.5,575.9L949.2,576.6L946,576.4L944.9,576.5L941.7,578L940.6,578.1L938.5,577.9L934.2,578.8L931,580.7L929.6,581.1L928.8,581.8L927.4,584.3L924.8,591.7L923.9,594.9L923.1,597L922.7,599.1L923,603.4L922.4,607.6L922.3,613L921.8,617.2L921.9,620.4L921.7,623.6L922.1,626.8L921.7,631L921.9,635.3L921.5,638.5L921.6,643.8L921.3,648.1L921.4,650.2L922,653.4L922,654.4L921.6,656.6L921.7,659.8L921.1,665.1L921.1,680L921.3,684.2L921,687.4L920.7,698L920.2,703.3L918.6,712.9L917.9,715L917.1,716.5L916,717.7L914.9,718.5L912.8,719.6L910.6,720.3L906.3,721.2L903.1,721.5L901,721.9L892.4,724.1L884.9,724.7L871,724.6L818.5,724.7L798.1,724.5L768.2,724.8L762.8,724.6L714.6,724.6L697.5,724.9L697.5,808.2L910.6,808.2L911.7,808.5L912.8,809.1L913.4,809.7L914.4,813.9L915.8,827.8L917.3,850.1L919.8,899L921.6,915L922.8,920.3L923.1,923.5L924.1,928.8L925.2,933L928.1,940.5L928.8,941.2L931,941.8L934.2,943.3L937.4,943.9L943.8,944.7L948.1,946.2Z"/>
<path fill="#26ffd1" d="M976,945.9L979.2,945.8L982.4,946.2L985.6,946.2L988.8,946.4L993.1,945.7L997.4,946.5L1000.6,946.1L1003.8,946.2L1007,945.9L1011.3,946.2L1017.8,946L1022,946.3L1026.3,945.7L1029.5,946.2L1037,945.7L1040.2,945.7L1044.5,945.6L1051,944.3L1055.2,944.7L1058.5,944L1066,943.2L1069.2,942.2L1072.4,941.5L1074.5,940.2L1075.6,939.8L1077.7,939.8L1078.8,939.7L1079.1,939.4L1079.5,937.3L1080,936.2L1082,933.5L1083.2,930.9L1083.5,927.7L1084.2,924.5L1084.3,923.5L1083.8,921.3L1084,920.3L1084.9,918.1L1085.9,915L1086.7,908.6L1087,902.2L1087.2,900.1L1086.9,896.9L1087.2,892.6L1086.6,888.4L1087.6,882L1087.5,875.6L1087.6,872.4L1087.2,867.1L1087.6,862.8L1087.4,858.6L1087.7,851.2L1087.2,846.9L1087.8,841.6L1087.5,834.1L1087.9,829.9L1087.5,825.6L1087.8,820.3L1087.3,817.1L1087.9,813.9L1088,812.9L1087.4,801.2L1088,794.8L1087.7,790.5L1088,784.2L1087.7,779.9L1087.8,773.5L1087.6,767.1L1088.1,762.9L1087.7,755.5L1087.9,742.7L1088.3,738.4L1088.2,736.3L1087.3,733.1L1087.3,732.1L1087.8,728.9L1087.1,721.4L1087.8,714L1087.2,707.6L1087.7,700.2L1087.3,688.5L1087.9,684.2L1087.1,675.7L1087.9,668.3L1087.1,662.9L1087.2,652.3L1087.5,649.1L1087.6,640.6L1087.1,636.4L1086.9,630L1086.3,624.7L1086.4,615.1L1085.6,610.8L1086,605.5L1084.7,602.3L1083.8,596L1083.1,594.2L1080.7,590.6L1080.3,589.6L1080.4,586.4L1080.1,585.3L1079.4,584.3L1078.8,583.8L1075.6,582.3L1073.5,581.9L1072.4,582L1071.3,581.9L1069.2,580.3L1068.1,579.8L1067,579.8L1064.9,580.5L1063.8,580.4L1060.6,578.5L1057.4,577.5L1049.9,577.3L1045.6,576.8L1042.4,576.9L1036,576.5L1031.7,576.7L1028.5,576.2L1023.1,576.2L1018.8,576.4L1013.5,576.1L1009.2,576.3L1004.9,576.1L1000.6,576.2L996.3,576.1L987.8,576.4L982.4,576.4L978.1,576L970.6,576.3L965.3,575.9L959.9,576.9L954.5,577.2L949.2,578.4L946,578.4L944.9,578.6L941.9,580L939.6,580.4L937.4,581.2L935.3,581.1L934.2,581.4L931.4,583.2L929.8,585.3L928.5,587.4L927.5,590.6L926.3,593.8L925.7,596L924.6,597.6L924.1,599.1L924.1,600.2L924.8,603.4L924.8,604.5L924,608.7L923.9,611.9L923.3,617.2L923.3,622.5L923.9,625.7L923.5,632.1L923.8,634.2L923,638.5L923.1,640.6L922.9,645.9L923.1,650.2L923.7,654.4L923.3,657.6L923.2,660.8L922.5,665.1L922.6,669.3L923.1,673.6L922.6,678.9L922.7,685.3L922.5,690.6L922,694.8L921.6,703.3L919.6,712.9L918.4,716.1L917.1,718.1L916,719.2L914.3,720.4L912.8,721.1L906.3,722.8L901,723.6L892.4,726L886,726.8L883.8,726.7L879.6,726.9L871,726.7L863.5,726.9L838.9,726.8L830.3,727L822.8,726.8L804.6,726.9L797.1,726.7L776.7,726.7L767.1,726.9L760.7,726.8L748.9,726.9L741.4,726.7L714.6,726.8L709.2,727L697.5,727.1L697.5,808.1L910.6,808.1L911.7,808.3L912.8,809L913.6,809.7L914.7,813.9L915.6,820.3L916.5,829.9L918.2,853.3L920.8,897.9L921.7,902.2L922,906.4L922.8,910.7L923,913.9L923.5,916L924.8,919.2L925.8,926.6L926.9,929.8L927.4,933L928.4,936.2L930.8,939.4L933.1,940.8L934.2,941.1L939.6,941.9L946,943.6L948.1,944.4L949.2,944.7L952.4,944.4L955.6,945L959.9,945.5L967.4,945.5L970.6,945.2Z"/>
<path fill="#50ffa7" d="M981.8,944.7L985.6,944.7L988.8,945L993.1,944.3L994.2,944.3L997.4,945.1L1000.6,944.6L1003.8,944.8L1008.1,944.6L1012.4,944.8L1016.7,944.6L1022,945L1026.3,943.8L1027.4,943.9L1029.5,944.5L1032.7,944.5L1034.9,944.3L1038.1,943.7L1044.5,943.7L1051,942.7L1054.2,943.2L1055.2,943.1L1058.5,942.4L1060.6,942.2L1066,941.2L1069.2,939.6L1075.6,937.1L1076.4,936.2L1076.6,935.2L1077.3,934.1L1079.8,930.9L1080.3,927.7L1081.7,924.5L1081.9,923.5L1081.8,921.3L1082.1,920.3L1083.3,918.1L1084,916L1084.6,911.8L1085.3,908.6L1085.1,904.3L1085.2,903.3L1085.9,900.1L1085.5,896.9L1085.9,893.7L1085.8,892.6L1085.2,890.5L1085,888.4L1086.2,883.1L1086,876.7L1086.2,873.5L1085.8,870.3L1086.2,862.8L1086,857.5L1086.3,850.1L1085.9,846.9L1086.6,842.6L1085.9,837.3L1086.1,833.1L1086.7,829.9L1085.9,824.6L1086.4,820.3L1085.8,817.1L1086.5,813.9L1086.3,810.7L1086.4,808.6L1086,802.2L1086.7,795.9L1086.2,791.6L1086.2,788.4L1086.6,784.2L1086.2,781L1086.2,776.7L1086.5,772.5L1086.1,767.1L1086.5,764L1086.6,760.8L1086.4,742.7L1087,739.5L1087.2,737.4L1087,736.3L1086.1,733.1L1086.1,732.1L1086.4,728.9L1085.7,721.4L1086.5,712.9L1086.3,710.8L1085.7,706.5L1086.3,699.1L1086.2,691.7L1085.7,687.4L1086.4,684.2L1085.6,675.7L1085.9,672.5L1086.6,669.3L1086.6,668.3L1085.7,665.1L1085.6,664L1085.8,659.8L1085.5,655.5L1085.6,653.4L1086.3,648.1L1086.2,644.9L1086.3,640.6L1085.4,635.3L1085.4,628.9L1085,626.8L1084.2,624.7L1084.1,623.6L1084.6,619.3L1084.6,614L1083.9,610.8L1083.9,606.6L1082.9,603.4L1082.6,600.2L1082,598.5L1079.6,596L1079.2,594.9L1079.1,592.8L1078.1,587.4L1077.5,586.4L1076.7,585.4L1075.6,584.8L1074.5,584.8L1072.4,585.4L1071.3,585.1L1068.1,582.6L1067,582.4L1064.9,582.8L1063.8,582.7L1062.7,582.2L1060.6,580.6L1057.4,579.5L1048.8,578.9L1045.6,578.3L1042.4,578.7L1039.2,578.2L1036,578.1L1030.6,578.2L1027.4,577.6L1026.3,577.5L1024.2,577.5L1019.9,578L1013.5,577.3L1009.2,577.9L1006,577.4L1001.7,577.4L996.3,577.9L987.8,578L984.5,577.8L981.3,578.1L976,577.5L970.6,577.9L966.3,577.4L964.2,577.7L959.9,578.9L958.8,579L955.6,578.4L954.5,578.5L950.3,579.8L946,580.3L943.8,581.2L940.6,581.7L937.4,583.1L935.3,583.7L934.2,584.3L932.2,586.4L931,587.4L929.9,588.9L928.6,592.8L928,597L926.5,599.1L926.1,600.2L926.5,603.4L926.4,604.5L925.7,608.7L925.4,613L924.9,616.2L924.8,621.5L924.9,622.5L925.6,624.7L925.6,625.7L925.1,628.9L925.7,634.2L924.9,637.4L925.3,639.5L924.4,642.7L924.3,643.8L924.4,645.9L924.9,649.1L924.7,651.2L925.1,654.4L924.9,659.8L924,664L923.9,666.1L924.1,668.3L925.1,672.5L925,673.6L924.1,677.8L924.4,687.4L923.3,694.8L922.8,704.4L920.3,714L919.2,716.7L918.2,718.2L917.1,719.7L914.9,721.4L913.8,722L911.7,722.7L908.5,723.5L905.3,724.6L899.9,725.6L891.6,727.8L889.2,728.6L887.1,728.9L883.8,728.7L879.6,729L869.9,728.8L863.5,729L857.1,728.8L843.1,729L823.9,728.9L814.2,729.1L796,728.8L782.1,729L777.8,728.8L763.9,729.1L758.5,728.9L741.4,728.9L737.1,729.1L716.7,729L709.2,729.3L704.9,729.1L700.7,729.3L697.5,729.2L697.5,807.9L910.6,807.9L911.7,808.2L912.8,808.8L913.7,809.7L914.9,813.9L916,820.3L917.1,829.9L919.1,853.3L920.1,869.2L920.6,873.5L920.6,877.7L921,880.9L921,885.2L921.5,889.4L922,897.9L923.2,903.3L923.4,906.4L924.2,910.7L924.3,912.8L924.6,914L926,917.1L926.9,920.3L927.1,921.3L927.4,925.6L928.1,927.7L929.7,929.8L929.9,930.5L931.7,936.2L932.4,937.3L933.1,937.8L936.3,939L937.4,939.3L939.6,939.5L942.8,941.2L943.8,941.5L947,941.8L949.2,942.6L953.5,942.5L956.7,943.6L959.9,943.9L970.6,943.8L976,944.4L979.2,944.4Z"/>
<path fill="#7dff7a" d="M987.8,943.7L991,943.5L994.2,943L997.4,943.5L1000.6,943.3L1006,943.5L1010.3,942.9L1015.6,943L1022,943.6L1026.3,942.4L1027.4,942.4L1029.5,943L1031.7,943.1L1034.9,942.7L1037,942.1L1042.4,941.2L1045.6,941.3L1052,940.7L1054.2,941.3L1055.2,941.4L1059.5,940.2L1061.7,940.1L1063.8,939.6L1064.9,939.3L1067,937.9L1070.2,937.2L1074.5,934.6L1075,934.1L1077.1,930.9L1077.9,927.7L1079.6,924.5L1080.3,921.3L1082.3,917.1L1082.5,916L1082.8,910.7L1083.3,907.5L1083.2,904.3L1084.6,900.1L1084.6,899L1084.1,896.9L1084.5,893.7L1083.8,890.5L1083.7,889.4L1084,887.3L1084.7,884.1L1084,877.7L1084.8,874.5L1084.5,870.3L1085,862.8L1084.5,846.9L1085.4,843.7L1085.5,842.6L1085.3,841.6L1084.3,838.4L1084.3,837.3L1084.8,833.1L1085.4,829.9L1085.2,828.2L1084.4,825.6L1084.4,824.6L1085.1,821.4L1085.1,820.3L1084.5,817.1L1085.1,813.9L1085.1,812.9L1085,808.6L1084.4,806.5L1084.3,805.4L1085.4,796.9L1084.9,791.6L1085,788.4L1085.4,785.2L1084.6,782L1085.2,773.5L1084.8,766.1L1084.8,761.8L1085.4,754.4L1084.9,748L1085,744.8L1084.8,742.7L1085.9,737.4L1085.8,736.3L1085,733.1L1085.1,729.9L1084.6,726.7L1084.7,723.6L1084.4,720.4L1085.2,711.9L1085,709.7L1084.3,706.5L1084.3,705.5L1085,700.2L1084.9,695.9L1085.1,692.7L1084.9,690.6L1084.2,687.4L1084.1,686.3L1084.6,683.1L1084.3,680L1084.5,675.7L1084.3,672.5L1085.1,669.3L1085,668.3L1084.4,666.1L1084.3,665.1L1084.6,660.8L1083.4,655.5L1083.5,654.4L1084.6,651.2L1084.9,649.1L1085,641.7L1084.7,638.5L1083.3,632.1L1083.6,627.9L1082.8,624.7L1082.7,623.6L1083.2,618.3L1082.9,614L1082.1,609.8L1081.9,606.6L1081.2,604.5L1080.6,601.3L1078.2,597L1077.7,596L1077.1,592.8L1075.7,590.6L1075.5,589.6L1075.5,588.5L1074.9,587.4L1074.5,587.2L1073.5,587.3L1070.2,588L1069.2,587.9L1068.3,587.4L1067.5,585.3L1067,584.9L1066,584.6L1060.6,583.7L1055.2,582.4L1052.7,581.1L1051,580.5L1047.7,580.2L1045.6,579.8L1044.5,579.9L1042.4,580.3L1041.3,580.2L1039.2,579.8L1034.9,579.6L1029.5,579.9L1028.5,579.8L1025.2,579.1L1024.2,579.1L1021,579.6L1013.5,578.7L1010.3,579.7L1009.2,579.7L1006,578.9L1000.6,578.6L999.2,578.9L997.4,579.6L994.2,579.2L988.8,579.6L985.6,579.5L982.4,580.2L981.3,580.2L977,579.6L972.8,579.9L971.7,579.8L967.4,579L966.3,579.1L962,580.1L959.9,581L958.8,581.2L957.8,580.8L956.4,580L955.6,579.8L954.5,579.8L950.3,581.2L947,581.8L946,582.2L943.8,583.8L942.8,584.2L941.7,583.6L940.6,583.4L939.6,583.9L936.3,585.6L934.2,587.9L932.1,589.2L931,590.7L930.4,592.8L929.8,597L928.6,600.2L928.3,601.3L928,605.5L927.1,609.8L927.3,613L926.7,616.2L926.7,617.2L926.9,621.5L927.5,623.6L927.5,624.7L926.6,627.9L926.5,628.9L927.1,633.2L927.2,638.5L927,639.5L925.8,642.7L925.8,645.9L926.3,649.1L926.1,652.3L926.4,654.4L926.4,659.8L925.2,665.1L925.3,667.2L926.5,671.4L926.6,672.5L925.9,675.7L925.6,677.8L925.9,683.1L925.8,689.5L924.3,698L923.9,705.5L920.9,715L920.3,716.7L919.4,718.2L918.1,720L916.7,721.4L914.9,722.7L911.7,724.4L910.6,724.8L907.4,725.3L901.9,726.7L897.2,728.9L895.6,729.3L893.5,729.2L892.4,729.4L889.2,730.7L888.1,730.9L881.7,731.3L877.4,731.1L856,730.9L846.4,731.2L823.9,731L812.1,731.3L807.8,731L802.4,731.1L791.7,730.9L762.8,731.3L758.5,731L754.2,731.3L742.4,731.1L738.2,731.3L733.9,731.1L722.1,731.3L716.7,731.2L709.2,731.5L704.9,731.3L700.7,731.5L697.5,731.3L697.5,807.8L910.6,807.8L911.7,808.1L912.8,808.7L913.8,809.7L914.3,810.7L915.2,813.9L916.3,820.3L917.3,827.8L920,853.3L920.1,858.6L921.1,869.2L921.8,874.5L921.7,877.7L922.2,880.9L922,885.2L922.7,889.4L922.7,894.7L924.6,904.3L924.8,907.5L925.2,909.6L925.5,912.8L927.2,916L928.5,919.2L929.4,920.3L929.6,921.3L928.7,923.5L928.7,924.5L929,925.6L929.9,927.2L932.1,929.2L932.4,929.8L932.7,932L934,935.2L935.3,935.9L936.3,936.3L938.5,936.2L939.6,936.3L943.8,938.5L944.9,938.5L947,937.8L948.1,937.9L948.8,938.3L950.3,940.5L951.3,940.8L953.5,941.1L956.7,942.2L958.8,942.3L963.1,941.8L971.7,942.7L976,942.7L982.4,943.4L985.6,943.4Z"/>
<path fill="#a7ff50" d="M971.2,941.5L972.8,941.6L976,941.2L977,941.2L983.5,942L989.9,942.5L991,942.5L994.2,941.7L995.3,941.7L1000.6,942.1L1007,942.1L1008.1,941.9L1010.3,940.8L1011.3,940.8L1013.5,941.3L1017.8,941.6L1021,942.4L1022,942.4L1023.1,942.3L1026.3,941.1L1027.4,941.1L1029.5,941.8L1030.6,941.8L1037,940.3L1039.2,940L1041.3,939.2L1042.4,939.2L1045.6,939.5L1053.1,938.7L1055.2,938.7L1056.3,938.6L1058.5,937.7L1059.5,937.5L1061.7,937.7L1062.7,937.6L1067,936.2L1069.2,935.7L1070.2,935.2L1071.3,934.2L1073.5,933.4L1074.5,932.7L1075.5,930.9L1075.5,929.8L1075.3,928.8L1075.4,927.7L1077.7,924.5L1080.7,917.1L1081.2,912.8L1081,909.6L1081.1,908.6L1082,903.5L1083.1,900.1L1082.5,896.9L1082.8,893.7L1082.4,889.4L1083.1,885.2L1082.9,884.1L1082.3,883.1L1082.1,882L1082.6,879.9L1082.6,876.7L1083.4,874.5L1083.5,873.5L1083.3,870.3L1083.9,859.7L1083.9,857.5L1083.4,854.3L1083,846.9L1084.2,843.7L1084.2,842.6L1083.3,839.5L1083.2,838.4L1084,829.9L1083.8,828.8L1083,826.7L1082.9,825.6L1083.7,821.4L1083.3,817.1L1084,812.9L1083.8,809.7L1083.5,808.6L1082.5,806.5L1082.4,805.4L1083.4,802.2L1084.1,798L1084.1,796.9L1083.4,793.7L1083.3,792.7L1084.2,785.2L1083.4,782L1083.9,778.8L1084,774.6L1083.6,770.3L1083.6,764L1083.2,760.8L1083.3,759.7L1084.2,755.5L1083.7,751.2L1083.4,745.9L1082.9,742.7L1084.2,738.4L1084.4,736.3L1083.9,733.1L1084,729.9L1083.2,726.7L1083.4,722.5L1082.8,719.3L1082.7,718.2L1084,711.9L1083.8,709.7L1083,706.5L1083,705.5L1083.6,702.3L1083.8,699.1L1083.6,695.9L1084.1,692.7L1083.8,690.6L1082.4,686.3L1082.3,685.3L1082.8,683.1L1082.8,680L1083.4,676.8L1083.4,675.7L1082.5,672.5L1082.5,671.4L1083.3,669.3L1083.3,668.3L1082.9,665.1L1083.4,661.9L1083.3,660.8L1082,656.6L1081.7,654.4L1082.1,653.4L1083.2,651.2L1083.4,650.2L1083,645.9L1083.8,642.7L1083.8,641.7L1082.8,635.3L1081.7,632.1L1081.5,631L1081.9,626.8L1081.6,624.7L1081.5,618.3L1080.8,613L1080.3,610.8L1080.3,607.6L1079.6,605.5L1079,602.3L1076.1,596L1075.7,593.8L1075.2,592.8L1073.5,590.2L1072.4,589.4L1071.3,589.3L1069.2,589.4L1068.1,589.2L1066.6,588.5L1064.9,586.4L1063.8,585.8L1062.7,585.6L1059.5,586.3L1058.5,585.8L1057.4,585L1054.2,584L1051,582.1L1045.6,581.5L1041.3,582L1033.8,581.1L1031.7,581.1L1028.5,581.5L1024.2,580.7L1021,581.1L1019.9,581L1014.5,580.2L1013.5,580.3L1011.3,580.9L1010.3,581L1007,580.6L1003.8,580.9L1001.7,580.6L1000.6,580.7L998.5,582L997.4,581.8L995.3,580.7L994.2,580.4L992,580.5L988.8,581.1L985.6,581.3L983.5,581.7L979.2,581.4L973.8,582L970.6,581.8L967.4,581.1L962,581.8L958.8,582.9L957.8,582.9L956.7,582.5L955.6,581.7L954.5,581.4L947,583.4L946,584L943.8,586.1L942.8,586.5L940.6,586.5L939.6,586.7L937.4,587.7L936.3,588.5L935.2,589.6L934.3,590.6L933.6,592.8L932.9,593.8L932.1,594.8L931.6,596L930.5,600.2L929.9,606.6L928.9,608.7L928.7,609.8L928.7,610.8L929.4,613L929.4,614L928.5,616.2L928.4,617.2L928.7,619.3L929.6,622.5L929.5,623.6L928.3,626.8L927.8,628.9L927.8,631L928.4,634.2L928.6,637.4L928.2,639.5L927.1,642.7L927,645.9L927.7,650.2L927.5,652.3L927.6,654.4L927.5,656.6L927.8,659.8L927.6,661.9L926.7,664L926.4,665.1L926.5,666.1L927.6,670.4L927.9,672.5L927.2,675.7L927.1,680L927.3,683.1L926.8,686.3L927.4,690.6L926.5,693.8L926.3,695.9L925.5,699.1L925,706.5L921.1,717.2L919.9,719.3L918.2,721.4L917.1,722.5L910.9,726.7L909.6,727.2L908.5,727.3L906.3,726.9L905.3,727L902.8,727.8L899.7,729.9L896.7,731.1L893.5,731.5L890.3,732.6L886,733.4L882.8,733.7L875.3,733.2L869.9,733.4L852.8,733.1L848.5,733.3L836.7,733.4L831.4,733.1L826,733.3L816.4,733.2L812.1,733.6L806.7,733.2L797.1,733.4L789.6,733L782.1,733.3L767.1,733.4L758.5,733.1L754.2,733.5L742.4,733.2L738.2,733.4L732.8,733.1L726.4,733.5L714.6,733.3L699.6,733.6L697.5,734.1L697.5,807.6L910.6,807.6L911.7,808L912.8,808.6L914,809.7L915.2,812.9L916.6,819.3L918,828.8L919.4,839.5L920.1,849L920.9,853.3L920.9,858.6L921.6,863.9L922.1,870.3L922.8,874.5L922.8,877.7L923.4,882L923.1,885.2L924,890.5L923.8,894.7L924,895.8L924.8,897.9L925.1,899L925,901.1L925.6,904.3L925.8,907.5L926.5,911.8L926.8,912.8L928.1,915L929,917.1L929.9,918.3L931.4,919.2L932.1,920.3L932,921.3L930.5,923.5L930.3,924.5L930.6,925.6L931.5,926.6L932.9,927.7L933.9,928.8L934.3,930.9L934.7,932L935.3,933L936.3,934L938.5,934L939.6,934.3L942.8,936.1L943.8,936.5L944.9,936.5L947,936.1L948.1,936L949.2,936.3L950.3,937.2L951.3,938.5L952.4,939.3L956.7,941L957.8,941L962,939.8L963.1,939.7L966.3,940.6Z"/>
<path fill="#d1ff26" d="M983.7,940.5L986.7,941.1L991,941.3L995.3,940.2L996.3,940.2L1000.6,940.8L1004.9,940L1007,940.2L1010.3,939.4L1011.3,939.4L1014.5,940L1017.8,940L1018.8,940.3L1021,941.1L1022,941.3L1023.1,941.1L1026.3,939.8L1027.4,939.7L1029.5,940.5L1030.6,940.5L1038.1,938.2L1040.2,937.3L1041.3,937.3L1043.5,938L1044.5,938.2L1047.7,937.9L1051,937.9L1055.2,936.6L1057.4,935.6L1058.5,935.5L1061.7,935.9L1064.9,935.5L1066.2,935.2L1068.1,934.3L1070.2,932L1071.3,931.1L1073.5,931.1L1073.6,930.9L1073.5,930.2L1072.4,928.8L1072.7,927.7L1075,925.6L1076.7,923.3L1077.6,921.3L1079.6,916L1080,912.8L1079.4,908.6L1079.5,907.5L1080.9,903.3L1081.6,900.1L1080.9,896.9L1080.9,895.8L1081.1,892.6L1081,889.4L1081.5,886.2L1081.4,885.2L1080.5,883.1L1080.4,882L1081.2,879.9L1081.4,878.8L1081.2,876.7L1082.2,873.5L1082.1,869.2L1082.5,863.9L1082.2,861.8L1082.8,858.6L1081.8,850.1L1081.9,845.8L1082.8,843.7L1082.8,842.6L1082.1,839.5L1082.5,835.2L1082.5,830.9L1081.7,827.8L1081.8,825.6L1082.3,822.4L1081.7,819.3L1081.8,818.2L1082.9,813.9L1083,811.8L1082.6,809.7L1081.4,807.6L1081.1,806.5L1081.1,805.4L1082.3,802.2L1082.6,798L1082,794.8L1081.8,792.7L1082,790.5L1083,786.3L1083,785.2L1082.5,783.1L1082.4,782L1082.8,778.8L1082.9,775.7L1082.7,773.5L1082,770.3L1082.4,764L1082.2,762.9L1081.3,760.8L1081.1,759.7L1081.5,758.6L1082.9,756.5L1083.1,755.5L1083,754.4L1082,752.3L1081.9,751.2L1082.2,749.1L1082.1,746.9L1081.4,743.8L1081.4,742.7L1082.3,739.5L1082.7,737.4L1082.7,736.3L1082.3,734.2L1082.9,731L1082,726.7L1082.2,722.5L1081.3,719.3L1081.2,718.2L1081.9,714L1082.6,711.9L1082.7,710.8L1081.5,706.5L1081.6,705.5L1082.3,703.3L1082.4,699.1L1082.2,695.9L1083,692.7L1083,691.7L1082.5,689.5L1080.9,686.3L1080.7,685.3L1081.5,682.1L1081.7,678.9L1082.1,676.8L1082,675.4L1080.5,671.4L1080.5,670.4L1081.2,668.3L1081.4,665.1L1082,661.9L1081.9,660.8L1080.8,657.6L1080.2,654.4L1080.3,653.4L1081.4,651.2L1081.6,650.2L1080.5,645.9L1080.5,644.9L1081.2,643.8L1082,643L1082.3,641.7L1081.5,635.3L1080.2,632.1L1079.9,630L1079.8,628.9L1080.4,625.7L1080.5,622.5L1079.6,617.2L1078.5,614L1078.4,613L1078.9,608.7L1078.9,607.6L1076,599.1L1074,596L1073.4,592.8L1072.4,591.3L1071.3,590.7L1069.2,590.7L1067,590.3L1065.5,589.6L1062.7,587.4L1061.7,587.4L1059.5,587.7L1058.6,587.4L1056.3,586L1054.2,585.4L1051,583.9L1049.9,583.5L1047.7,583.4L1043.5,584.1L1040.2,584.3L1038.1,583.5L1034.9,583.3L1032.7,582.6L1031.7,582.4L1029.5,582.8L1026.3,583.7L1025.2,583.9L1022,582.7L1018.8,582.6L1015.6,581.6L1014.5,581.5L1011.3,581.9L1007,582L1001.7,583L999.5,583.6L998.5,583.8L997.4,583.5L995.3,582.2L994.2,581.8L993.1,581.7L986.7,582.4L983.5,583L980.3,582.8L971.7,583.5L967.4,582.9L962,583L958.8,584.3L957.8,584.4L953.5,583.4L951.3,583.7L949.7,584.3L948.1,585.3L946,586L943.8,587.6L938.5,589.8L937.2,590.6L936.5,591.7L935.7,594.9L933.2,597L932.7,598.1L932.2,600.2L932.3,603.4L931.5,607.6L930.6,609.8L930.4,610.8L930.8,613L930.8,614L929.8,616.2L929.6,617.2L929.9,619.3L930.9,621.5L931.1,622.5L930.9,623.6L929.5,626.8L929,628.9L929,631L930.2,636.4L930.2,637.4L928.6,641.7L928.2,647L928.8,650.2L928.7,656.6L928.9,657.6L929.8,659.8L929.9,660.8L928,665.1L928.1,666.1L929,671.4L928.8,674.6L929.2,676.8L929.1,677.8L928.6,680L928.7,683.1L927.8,686.3L928.7,690.6L928.5,691.7L927.8,693.8L927.9,697L927.1,699.1L926.5,702.3L926.1,706.5L924.3,711.9L922,717.2L920.3,720.4L919.6,721.4L918.1,722.9L915.6,724.6L913.2,726.7L908.5,729.1L907.4,729L906.3,728.4L905.3,728.3L903.6,728.9L901,731L895.4,733.1L892.4,734.9L891.3,735.3L883.8,735.8L873.1,735.4L859.2,735.6L852.8,735.3L848.5,735.5L841,735.4L835.6,735.6L828.1,735.3L823.9,735.5L816.4,735.3L812.1,735.7L806.7,735.3L798.1,735.5L791.7,735.3L785.3,735.5L778.9,735.3L767.1,735.7L760.7,735.4L749.9,735.7L741.4,735.4L737.1,735.6L732.8,735.3L728.5,735.7L724.2,735.7L714.6,735.5L701.7,735.6L700.7,735.7L697.5,736.6L697.5,807.3L910.6,807.3L912.8,808.3L914.3,809.7L915.4,812.9L916.3,816.1L917.7,823.5L920,838.4L920.6,846.9L921.7,853.3L921.6,858.6L922.5,862.8L923,870.3L923.8,874.5L923.8,877.7L924.6,882L924.4,885.2L925.6,891.6L924.9,894.7L925.1,895.8L926.2,897.9L926.4,899L926,901.1L926,902.2L927,907.5L927.8,910.2L929.4,913.9L930,916L930.8,917.1L932.2,918.1L933,919.2L933.5,920.3L933.5,921.3L932.6,923.5L932.4,924.5L933.1,925.7L935.3,926.4L935.6,926.6L936.3,927.4L937,928.8L939.4,932L941.7,933.7L943.8,934.8L944.9,934.9L948.1,934.7L949.8,935.2L950.3,935.4L952.4,937.6L953.4,938.3L955.6,939.3L956.7,939.5L957.8,939.4L959.9,938.7L963.1,938L964.2,938.1L967.4,939.5L971.7,940.4L973.8,940.3L980.3,939.2L981.3,939.3Z"/>
<path fill="#feed00" d="M985.9,939.4L987.8,940L989.9,940.1L995.3,939L996.3,938.9L999.5,939.7L1000.6,939.7L1001.7,939.4L1006,937.6L1007,937.5L1009.2,938.1L1014.5,938.7L1018.8,938.6L1021,939.8L1022,940.1L1023.1,940L1026.3,938.4L1027.4,938.1L1029.5,938.8L1030.6,938.9L1034.9,938L1040.2,935.8L1041.3,935.8L1043.5,936.8L1044.5,937L1046.7,936.7L1049.9,936.9L1052,936.5L1055.2,934.8L1057.4,934.1L1062.7,934.4L1064.9,934.3L1066,933.7L1066.9,933L1068.6,930.9L1069,929.8L1068.9,928.8L1069.2,927.6L1070.2,926.6L1072.8,925.6L1073.9,924.5L1075.5,922.4L1076,921.3L1076.5,919.2L1078,917.1L1078.5,915L1078.6,912.8L1077.5,908.6L1077.3,907.5L1077.5,906.4L1079.2,904.3L1079.8,903.3L1080.2,901.1L1080.2,900.1L1079.4,897.9L1079.3,896.9L1079.6,894.7L1079.6,889.4L1080.1,886.2L1080,885.2L1079.3,883.1L1079.3,882L1080.1,879.9L1080.2,878.8L1079.9,877.4L1079.3,876.7L1078.9,875.6L1080.5,873.5L1080.8,872.4L1080.3,869.2L1081.1,865L1081,863.7L1080.5,862.8L1079.6,861.8L1079.2,860.7L1079.6,859.7L1080.6,858.6L1081.1,857.5L1081,853.3L1080.5,850.1L1080.6,845.8L1081,843.7L1080.9,839.5L1081.5,835.2L1081.3,833.1L1080.5,829.9L1080.4,828.8L1080.5,826.7L1081.2,823.5L1081.1,822.4L1080.1,820.3L1079.8,819.3L1081.7,813.9L1081.9,811.8L1081.6,810.7L1080.1,807.6L1079.9,806.5L1080,805.4L1081.3,802.2L1081.2,801.2L1080.6,799L1080.8,795.9L1080.3,791.6L1080.7,788.4L1081.8,785.2L1081.5,783.1L1081.8,775.7L1080.8,770.3L1081.2,764L1080.9,762.9L1079.4,759.7L1079.5,758.6L1080.3,757.6L1081.4,756.5L1081.9,755.5L1081.6,754.4L1080.9,753.3L1080.4,752.3L1081,748L1080.2,742.7L1080.8,739.5L1080.3,734.2L1081.5,731L1081.5,729.9L1081,726.7L1081.3,723.6L1080.2,719.3L1080.1,718.2L1080.7,715L1081,710.8L1080.9,709.7L1079.7,706.5L1079.8,705.5L1080.8,703.3L1081,702.3L1080.6,697L1081.6,692.7L1081.6,691.7L1081.2,689.5L1079.7,686.3L1079.6,685.3L1080.2,681L1080.2,678.9L1079.9,674.6L1078.8,671.4L1078.6,670.4L1079.8,665.1L1080.6,662.9L1080.7,661.9L1080.6,660.8L1079.6,658.7L1078.4,654.4L1078.3,653.4L1078.7,651.2L1078.5,648.1L1077.9,644.9L1078.1,643.8L1079.7,640.6L1080,639.5L1079.9,635.3L1079,633.2L1078.3,628.9L1078.3,627.9L1079.4,624.7L1079.4,622.5L1078.8,620.3L1078.4,619.3L1078.1,617.2L1076.9,613L1077,611.9L1077.7,608.7L1077.6,607.6L1075.3,602.3L1074.5,600L1072.4,596.6L1071.3,593.5L1070.2,592.6L1066,591.4L1062.7,589.3L1061.7,588.9L1058.5,588.6L1056.3,587.4L1054.2,586.8L1052,585.8L1051,585.6L1047.7,585.2L1045.6,585.7L1041.3,585.9L1040.2,585.7L1038.1,584.9L1037,584.8L1034.9,585.3L1033.8,584.9L1032.7,584.1L1031.7,583.7L1030.6,583.8L1027,585.3L1025.2,585.7L1024.2,585.6L1021,584.5L1018.8,584.2L1015.6,582.7L1014.5,582.6L1012.4,582.8L1009.2,582.9L1007.8,583.2L1006,583.9L1001.7,584.2L998.5,585L997.4,584.8L994.2,583.3L989.9,583.1L986.7,583.3L982.4,584.3L979.2,584.5L974.9,584.4L971.7,584.9L970.6,584.8L968.5,584.3L967.4,584.3L965.3,584.8L962,584.4L958.8,585.8L957.8,585.8L954.5,585.1L953.5,585.1L952.4,585.3L951.5,586.4L951.1,587.4L950.3,588.1L949.2,588.3L947,587.9L946,588L944.9,588.7L942.8,590.5L940.6,591.8L939.6,592.7L938.9,593.8L938.4,596L935.3,597.7L934.8,598.1L934,599.1L933.8,600.2L933.8,601.3L934.2,603.4L934.3,604.5L933.7,608.7L932.3,610.8L932,614L930.8,616.2L930.6,617.2L930.6,618.3L931,619.3L932.4,621.5L932.6,622.5L932.4,623.6L930.8,626.8L930.2,630L930.3,631L930.7,632.1L932.1,634.9L932.2,636.4L932,637.4L930.2,640.6L929.8,641.7L929.4,647L929.9,650.2L929.9,653.4L930.4,656.6L931.1,657.6L932.2,658.7L932.6,659.8L932.4,660.8L930.6,662.9L930.1,664L930,665.1L930.2,673.6L931.2,676.8L931.2,677.8L930.5,680L930.3,683.1L929.2,686.3L929.7,690.6L929.6,691.7L929,693.8L929,694.8L929.3,697L929.2,698L927.5,703.3L927.1,706.5L926,709.7L925.5,711.9L920.9,721.4L920.1,722.5L919.2,723.3L916,725.6L913.8,727.5L910.6,729.1L908.5,730.5L907.4,730.7L905.3,730.3L904.2,730.7L901,732.9L898.3,734.2L897.8,734.8L895.6,735.6L892.4,737.4L889.2,738.2L886,737.9L873.1,737.6L859.2,737.7L854.9,737.6L845.3,737.8L841,737.5L833.5,737.8L828.1,737.4L823.9,737.7L820.6,737.5L817.4,737.6L805.6,737.5L786.4,737.7L779.9,737.3L774.6,737.7L753.2,737.6L737.1,737.7L732.8,737.4L724.2,737.8L714.6,737.6L703.9,737.7L700.7,737.9L697.5,738.6L697.5,806.9L910.6,806.9L911.3,807.6L912.8,808L914.6,809.7L914.9,811.2L915.4,811.8L916,814.1L916.5,815L916.8,817.1L917.4,819.3L919.9,834.1L920.8,838.4L921.3,846.9L922.5,853.3L922.4,858.6L922.9,860.7L923.7,862.8L923.9,870.3L924.7,874.5L924.7,877.7L926.1,883.1L925.7,886.2L926.8,891.6L926.2,894.7L926.4,895.8L927.5,897.9L927.5,899L927,901.1L927,902.2L928.1,906.4L930.7,911.8L931.3,915L932,916L933.1,917.2L934.2,919.2L934.6,920.3L934.8,922.4L935.3,923.5L937.6,925.6L938.3,926.6L939.3,928.8L940.6,930.4L941.7,931.4L942.8,932.1L945,933L950.3,933.9L951.3,934.7L953.5,937L954.5,937.5L955.6,937.8L956.7,937.8L964.2,936.8L965.3,937L967.4,938.2L968.5,938.5L970.6,939L972.8,939.1L977,938.4L980.3,937.6L981.3,937.6L983.6,938.3Z"/>
<path fill="#ffbd00" d="M987.5,938.3L988.8,938.6L989.9,938.5L992,938L996.3,937.5L997.4,937.7L998.7,938.3L1000.6,938.5L1003.8,937.4L1007,935.8L1010.3,936.9L1014.5,937.4L1016.7,937.4L1018.8,936.8L1019.9,936.8L1021,937.3L1022,938.3L1023.1,938.4L1024.2,937.8L1025.2,936.7L1026.3,936L1029.8,937.3L1030.6,937.4L1032.7,937.3L1036,936.4L1037,935.7L1040.2,934.6L1041.3,934.5L1043.5,935.4L1044.5,935.5L1046.7,935.3L1049.9,935.5L1051.4,935.2L1055.2,933.3L1057.4,932.9L1059.5,933L1061.7,932.4L1063.8,932.4L1064.6,932L1064.9,931.6L1065.8,928.8L1068.1,926L1069.2,925.2L1071.4,924.5L1072.6,923.5L1073.8,921.3L1073.8,917.1L1074.5,916L1075.6,916.2L1076.2,916L1076.7,915.3L1076.6,913.9L1075.6,913.1L1075.1,911.8L1075.8,908.6L1075.7,906.4L1075.9,905.4L1076.7,904.4L1078.1,903.3L1078.6,902.2L1078.5,901.1L1077.7,900.3L1076.7,899.8L1076.3,899L1076.8,897.9L1077.7,896.8L1078.1,895.8L1078.2,894.7L1078,891.6L1078.8,886.2L1078.6,885.2L1077.9,883.1L1077.9,882L1078.7,879.9L1078.7,878.8L1076.5,876.7L1076.5,875.6L1077,874.5L1078.8,872.4L1078.2,870.3L1079.3,865L1079.1,863.9L1077.8,861.8L1077.4,860.7L1077.6,859.7L1078.8,857.5L1079,856.5L1079.2,853.3L1079,851.2L1079.1,846.9L1078.9,842.6L1080.1,835.2L1080,834.1L1079.2,830.9L1079.1,826.7L1079.3,825.6L1079.9,823.5L1079.7,822.4L1077.9,820.3L1077.9,819.3L1079.4,816.1L1079.6,815L1079.6,811.8L1078.6,807.6L1078.5,806.5L1079.3,804.4L1079.9,803.3L1080.1,802.2L1079.9,801.2L1079,799L1079.2,795.9L1078.4,791.6L1078.9,789.5L1079.2,787.4L1080.1,784.2L1080.3,781L1080.2,778.8L1080.4,776.7L1080.4,775.7L1079.5,770.3L1079.8,764L1079.5,762.9L1078.2,760.8L1077.8,759.7L1077.9,758.6L1078.3,757.6L1079.5,755.5L1079.5,754.4L1079,752.3L1079.5,749.1L1079.5,748L1078.4,738.4L1079,733.1L1080,729.9L1079.9,726.7L1080.2,724.6L1080,722.5L1079.1,719.3L1079,718.2L1079.6,715L1079.1,711.9L1079.2,709.7L1079,708.7L1078.1,706.5L1078.1,705.5L1078.4,704.4L1079.1,703.3L1079.4,702.3L1079.3,701.2L1078.3,699.1L1078.4,698L1079.1,695.9L1079.3,691.7L1078.6,685.3L1078.8,682.1L1078.8,680L1077.7,677L1077,675.7L1077.1,674.6L1077.5,673.6L1077.5,672.5L1077,670.4L1077.2,669.3L1077.7,667.9L1078.3,665.1L1079.2,662.9L1079.4,661.9L1079.1,660.8L1078,658.7L1076.8,655.5L1076.4,654.4L1076.4,653.4L1076.6,649.1L1076.3,644.9L1076.5,643.8L1077.8,640.6L1078,639.5L1077.7,632.3L1076.8,628.9L1076.7,627.9L1077.1,626.8L1077.8,625.7L1078.1,624.7L1078.2,623.6L1077.7,622.3L1076.5,621.5L1075.6,620.5L1075.4,619.3L1076.1,617.2L1076.2,616.2L1074.8,611.9L1074.9,610.8L1075.7,609.8L1076,608.7L1075.6,606.6L1073.5,602.8L1073,602.3L1072.4,601.9L1071.3,601.8L1070.2,601.5L1069.1,600.2L1069.1,599.1L1070.3,597L1070.2,596L1069.6,594.9L1068.3,593.8L1064.9,592.3L1062.3,590.6L1060.6,590.2L1058.5,590L1054.2,588.3L1052,587.2L1047.7,587.2L1043.5,588.8L1042.4,588.7L1039.2,586.6L1038.1,586.2L1037,586.3L1036,586.9L1034.9,587.1L1033.8,587L1031.7,586.2L1029.5,586.7L1025.2,587.2L1024.2,587.2L1021,586.7L1018.8,585.8L1016.5,584.3L1014.5,583.8L1012.4,584.1L1009.2,584.2L1006,585.6L1004.9,585.8L1002.8,585.4L999.5,586.2L998.5,586.3L997.4,586.2L995.7,585.3L994.2,584.9L988.8,584.2L986.6,584.3L984,585.3L982.4,586.5L981.3,586.7L980.3,586.7L977,586L973.8,586L970.6,586.4L968.5,585.8L967.4,586L965.3,586.9L962,586.8L957.8,587.7L956.7,587.7L955.6,587.3L954.6,587.4L953.8,588.5L951.3,589.5L950.3,589.7L946.9,589.6L946,590L945.3,590.6L943.8,592.8L942.8,593.7L941.7,594.2L941.1,594.9L940.6,597L939.6,598.1L937.4,598.6L936.2,599.1L935.6,600.2L935.8,606.6L935.5,608.7L935,610.8L934.3,613L932.1,616.1L931.8,617.2L932.1,618.6L934,620.4L934.1,622.5L933.9,624.7L933.5,625.7L931.9,628.9L931.8,630L932,631L933.4,633.2L933.7,634.2L933.7,635.3L933.4,637.4L931,642.4L930.8,643.8L930.8,648.1L931.4,651.2L931.1,653.4L931.3,654.4L932.1,656.3L933.7,658.7L934,659.8L933.9,660.8L931.9,662.9L931.3,665.1L931.4,667.2L931.9,669.3L931.3,672.5L931.5,673.6L932.7,676.8L932.6,677.8L932.1,680L931.9,683.1L930.9,688.5L930.4,693.8L930.9,698L930.4,701.2L928.8,704.1L928.4,706.5L927.6,708.7L926.6,712.9L925,716.1L923.5,718.3L922,722.5L921.1,723.6L917.9,725.7L914.9,728.4L912.8,729.5L911.3,729.9L908.5,731.8L907.4,732.1L903.1,734.1L902.8,735.2L902,736.3L900.8,737.4L898.8,738.2L895.6,738.6L891.3,740.1L889.2,740.4L886,739.9L880.6,739.8L877.4,740L863.5,740L856,739.6L848.5,739.8L844.2,740.1L838.9,739.7L833.5,740L828.1,739.6L824.9,739.9L821.7,739.7L817.4,740.1L813.1,739.7L805.6,739.6L800.3,739.9L796,739.7L792.8,739.9L786.4,739.9L782.1,739.6L775.7,739.9L770.3,739.6L757.4,740L746.7,739.8L742.4,740L728.5,739.8L723.2,740.2L716.7,740.1L711.4,739.8L708.2,739.9L703.9,739.7L697.5,740.4L697.5,806.6L910.6,806.6L911.7,807.6L912.8,807.6L914.9,809.7L914.9,810.8L915.9,811.8L916,812.9L916.8,813.9L917.1,816.3L917.9,818.2L918.1,820.8L918.9,822.4L919.2,826.7L919.8,827.8L920,828.8L920.3,832.6L921.8,837.3L922.3,848L923.3,851.2L923.6,854.3L923.4,858.6L923.7,859.7L924.9,861.8L925.3,862.8L925.1,866L925.5,868.2L925.2,871.4L925.9,875.6L925.9,877.7L927.6,883.1L927.2,886.2L927.2,887.3L928.1,890.5L928.2,891.6L927.7,893.7L927.7,894.7L928.7,896.9L928.7,899L928.3,901.1L928.4,902.2L929.4,905.4L932.3,910.7L932.3,912.8L932.5,913.9L933,915L934.6,917.1L935.8,920.3L936.3,922.4L939.7,925.6L940.6,926.9L941.7,928L942.6,928.8L944.9,929.9L947,931.5L948.1,931.9L949.2,931.9L951.3,931.4L952.4,931.9L952.3,933L952.6,934.1L953.2,935.2L954.5,936.1L955.6,936.3L957.8,935.9L961,935.9L964.2,935.3L965.3,935.5L968.5,937.3L969.5,937.4L971.7,937.1L973.8,937.4L975,937.3L979.2,936L980.3,935.9L981.3,936L984.5,936.7Z"/>
<path fill="#ff8900" d="M969.2,928.8L970.6,928.8L971.7,928.6L976,926.8L980.3,926L981.3,926.2L982.3,926.6L983.5,927.9L984.5,928.3L986.7,928.1L988.8,928.4L991,928.2L992,928.3L994.2,928.9L996.3,928.4L999.5,928.6L1001.7,927.3L1002.8,927.5L1003.8,929.1L1004.9,929.7L1006,929.6L1008.1,928.6L1009.2,928.5L1012.4,929L1013.5,928.9L1016.7,928L1017.8,928L1018.8,928.2L1021,929.3L1022,928.6L1023.4,926.6L1024.2,926.2L1025.2,926.2L1026.3,926.5L1028.5,927.9L1029.5,928L1030.6,927.7L1032.7,928.1L1033.8,928.1L1036,927.5L1039.2,927.7L1042.4,927.1L1045.6,927.5L1046.7,927.1L1049.1,925.6L1051.6,923.5L1053.1,923.1L1054.2,922.5L1056.3,919.7L1058.4,918.1L1059.4,917.1L1061.6,912.8L1062.7,911.2L1064.5,909.6L1065.2,908.6L1065.7,906.4L1069.5,900.1L1070.3,897.9L1070.3,896.9L1069.7,894.7L1069.6,893.7L1070.1,890.5L1069.6,888.4L1069.5,887.3L1070.2,884.2L1070.3,879.9L1070.9,876.7L1070.5,871.4L1070.6,870.3L1071.3,869.2L1073.1,867.1L1073.4,866L1073.2,865L1072.7,863.9L1071.3,862.9L1070.2,862.5L1069.5,861.8L1069.4,860.7L1070.3,858.6L1072.5,855.4L1072.4,854.3L1071.3,852.2L1071,851.2L1071,849L1071.5,845.8L1071.5,843.7L1071.4,842.6L1070.9,840.5L1071.1,839.5L1071.7,838.4L1072.1,837.3L1071.7,835.2L1071.8,834.1L1073,832L1073.1,830.9L1072.5,828.8L1072.6,827.8L1073.6,825.6L1073.7,824.6L1072.3,823.5L1071.5,822.4L1071.3,821.4L1071.8,817.1L1073.4,813.9L1073.2,810.7L1073.5,807.6L1073.2,805.4L1073.3,804.4L1074.1,801.2L1073.6,800.1L1071.3,799.1L1070.6,798L1070.6,796.9L1071.3,795.9L1072.5,794.8L1073.6,791.6L1073.7,789.5L1073.3,787.4L1073.7,785.2L1073.4,784.2L1072.2,782L1071.9,781L1071.9,779.9L1072.4,778.4L1073.5,777L1074,776.7L1073.5,776L1072.9,775.7L1071.3,775.1L1070.9,774.6L1070.9,773.5L1071.2,772.5L1072.4,770.3L1071.6,767.1L1071.6,766.1L1073.2,764L1072.8,762.9L1071.7,761.8L1071.4,760.8L1071.8,759.7L1073.1,757.6L1073.3,756.5L1073.1,754.4L1072,752.3L1071.7,751.2L1072.1,750.1L1072.9,749.1L1073.3,748L1073.5,740.6L1074.9,736.3L1075,735.2L1074,732.1L1073.8,728.9L1072.7,725.7L1072.7,723.6L1073.4,721.4L1073.6,720.4L1072.2,719.3L1071.6,718.2L1071.6,715L1072.4,711.9L1071.8,708.7L1071.8,706.5L1071.4,704.4L1072,700.2L1072.1,698L1072.1,697L1071.6,693.8L1071.6,689.5L1071.4,688.5L1069,683.1L1069,682.1L1069.7,681L1071.5,680L1071.7,678.9L1071,676.8L1071,675.7L1072,672.5L1072.1,671.4L1071.9,667.2L1071.2,664L1071.2,659.8L1071.6,657.6L1071.5,656.6L1070.9,654.4L1071,653.4L1072,651.2L1072,650.2L1071.5,648.1L1071.6,647L1073.3,641.7L1073.2,640.6L1072.5,639.5L1071.5,638.5L1071.1,637.4L1071.4,634.2L1071.2,633.2L1070.4,631L1071.4,627.9L1071.3,624.7L1071.6,622.5L1071.4,621.5L1070,619.3L1069.6,618.3L1069.5,617.2L1070,614L1069.8,610.8L1069.4,609.8L1068.4,608.7L1066,607.2L1065.2,606.6L1064.9,605.8L1064,602.3L1062.7,600.2L1061.7,599.8L1059.5,599.9L1058.5,599.6L1057.9,599.1L1057.6,598.1L1057.4,596.5L1056.3,596L1055.2,596.1L1054.2,595.8L1052,594.6L1051,594.3L1048.8,594.3L1044.5,594.4L1041.3,593.7L1037,593.1L1036,593.1L1031.7,593.9L1028.5,594.8L1027.4,594.5L1025.2,593L1024.2,593.2L1022,594.8L1021,595.1L1019.9,594.9L1017.8,592.5L1016.7,592.2L1013.5,592.6L1011.3,592.3L1009.2,591.7L1008.1,591.9L1006.7,592.8L1004.9,593.3L1003.8,593.2L1001.7,592.2L1000.6,591.9L995.3,592.7L994.2,592.5L992,591.4L989.9,591.2L988.8,591.5L986.7,593.2L985.6,593.4L982.4,593.1L979.2,592.3L976,592.7L972.8,592.7L970.6,593.2L967.4,592.9L965.3,593.5L962,593.6L957.8,594.7L955.3,596L953.5,597.3L951.3,597.2L950.3,597.5L949,598.1L947.6,599.1L946.9,600.2L946,603.4L945.3,604.5L943.5,606.6L942.9,607.6L942.3,609.8L941.7,610.4L939.6,610.9L938.5,612.6L937.9,615.1L938.5,617.2L938.3,618.3L937.2,622.5L937.4,626.8L937.1,630L937,633.2L936.7,635.3L937,637.4L936.8,638.5L936.3,639.2L934.7,640.6L933.1,643.8L933,644.9L933.4,645.9L936,650.2L936.5,651.2L936.6,652.3L936.3,653.9L935.3,654.8L934.9,655.5L934.9,656.6L935.9,659.8L935.6,661.9L934.7,662.9L933.4,664L932.9,665.1L932.9,666.1L933.3,667.2L935.2,669.3L935.1,670.4L933.6,672.5L933.5,673.6L933.9,674.6L935.1,676.8L935.2,677.8L934.3,681L934.2,683.1L933.8,685.3L933.8,688.5L932.8,690.6L932.8,691.7L933.5,694.8L933.1,700.2L932.4,704.4L932.1,706L930.4,708.7L930.1,709.7L930.8,712.9L930.3,714L928.8,715.5L927.8,717.3L926.3,719.3L926,720.4L926.9,722.5L926.9,723.6L926.6,724.6L925.6,725.7L922.4,727.1L921.3,727.8L920.7,728.9L920.3,731L918.1,732.4L917.1,733.7L916,734.3L914.9,733.9L912.8,733.6L910.6,733L908.5,733.2L907.4,733.7L906.8,734.2L905.3,736.2L904.2,736.6L901,738.5L899.9,738.8L897.8,739L896.7,739.7L894.6,740.1L893.6,740.6L892.4,740.8L891.3,741.5L890.3,741.5L889.2,741.6L887.1,741.1L884.9,740.9L863.5,741.1L856,740.8L843.1,741.1L837.8,740.9L833.5,741.1L828.1,740.8L817.4,741.1L805.6,740.8L799.2,741L796,740.8L787.4,741L783.1,740.9L774.6,741L770.3,740.8L757.4,741.1L728.5,740.9L723.2,741.1L711.4,740.9L707.1,741L703.9,740.8L702.8,741.4L697.5,741.8L697.5,806.3L883.8,806.3L889.2,806.3L890.3,806.1L910.6,806.1L912.8,806.2L916.5,809.7L917.1,811.4L918.1,812.9L919.2,815L921.4,821.4L922.4,825.9L923.8,829.9L925.1,835.2L925.4,840.5L925.8,841.6L927.2,843.7L927.5,844.8L927.6,845.8L927.2,848L927.7,851.2L928.4,853.3L929.7,855.4L930.8,859.7L930.7,860.7L930.1,863.9L930.1,865L930.4,867.1L931.3,869.2L933.2,871.4L933.5,872.4L933.4,874.5L933.7,875.6L935,877.7L935.2,878.8L935.3,882L935.7,884.1L935.4,886.2L936.4,891.6L936.5,893.7L936.9,894.7L938.4,896.9L939.2,899L940,900.1L940.6,901.1L941.2,903.3L941.7,903.7L943.1,904.3L944.1,905.4L944.2,908.6L946.2,912.8L946.8,915L947.5,916L950.3,917.6L952.4,919.6L953.5,920.3L956.4,921.3L957.8,923.7L961.3,926.6L962,927L965.3,926.9L967.4,928.2Z"/>
<path fill="#ff5900" d="M1002.6,909.6L1003.8,910L1006,909.8L1009.2,908.3L1012.4,908.9L1013.5,908.7L1015.6,905.8L1016.7,905.3L1017.8,905.4L1019.9,907L1022,907.6L1023.1,907.7L1024.2,907.4L1026.3,906.1L1028.5,905.6L1031.7,905.7L1034.9,906.8L1036,906.8L1037.3,906.4L1038.1,905.4L1038.2,904.3L1037.7,902.2L1039.2,901.1L1040.2,901L1041.3,901.4L1042.4,901.4L1044.7,897.9L1045.1,896.9L1045.2,894.7L1045.6,894.1L1046,893.7L1048.8,891.7L1051,889.4L1051.4,888.4L1051.8,884.1L1052,883.2L1053.2,882L1053.6,880.9L1054,878.8L1054.6,876.7L1056.3,873.5L1056.7,872.4L1056.8,871.4L1056.3,870.3L1055.4,869.2L1055.1,868.2L1055.7,867.1L1057.4,866.1L1058.2,865L1058.4,862.8L1058.3,861.8L1057.6,859.7L1057.5,858.6L1057.9,857.5L1059.1,856.5L1059.8,855.4L1059.8,851.2L1059.4,850.1L1058,848L1057.8,846.9L1057.9,845.8L1059.1,841.6L1059.4,838.4L1060.1,836.3L1060.5,834.1L1061.7,832L1061.5,830.9L1060.5,828.8L1059.2,824.6L1059.4,822.4L1060.3,819.3L1060.4,817.1L1061.1,813.9L1061.1,811.8L1061.4,809.7L1061.1,807.6L1060.3,805.4L1060.4,804.4L1061.6,802.2L1061.3,801.2L1060.3,799L1060.3,798L1061,795.9L1061.1,794.8L1060.7,792.7L1060.9,791.6L1062.4,788.4L1062.6,787.4L1062.6,786.3L1062.3,785.2L1061.6,784.2L1061.3,783.1L1061.9,777.8L1061.4,774.6L1062,768.2L1061.9,761.8L1061.7,758.6L1062.5,755.5L1062.8,750.1L1062.7,748.8L1062,746.9L1062,745.9L1062.4,742.7L1061.9,739.5L1062,738.4L1062.7,737L1063.8,733.1L1063.5,732.1L1061.7,730.6L1061.2,729.9L1061.1,728.9L1060.9,725.7L1061,724.6L1061.6,723.6L1061.9,722.5L1061.8,721.4L1060.6,715.8L1060.4,714L1060.6,712.9L1061.2,710.8L1061.2,709.7L1060.5,706.5L1061.2,704.4L1061.3,703.3L1060.5,701.2L1059.9,698L1059.3,697L1059,695.9L1059.1,694.8L1059.7,692.7L1059.6,691.7L1058.4,687.4L1057.9,685.3L1057.4,684.2L1056.1,683.1L1056.1,682.1L1057.9,678.9L1058.2,677.8L1058.4,675.7L1058.3,674.6L1056.6,670.4L1056.3,667.2L1053.8,662.9L1053.8,658.7L1053.1,656.7L1051.9,654.4L1051.7,653.4L1051.5,649.1L1052.1,644.9L1051.3,640.6L1051.2,632.1L1050.9,631L1049.9,628.9L1046.9,623.6L1046.8,622.5L1048.5,620.4L1048.2,619.3L1046.8,617.2L1046.1,615.1L1045.4,614L1044.5,613.7L1042.4,613.3L1040.2,613.3L1039.2,613.1L1038.1,612.3L1036,609.7L1034.9,609.4L1033.8,609.6L1031.7,611.1L1030.6,611.3L1027.4,611.4L1026.3,611.2L1024.2,610.3L1022,610.6L1021,610.5L1018.8,609.4L1016.7,609.1L1014.5,608.6L1012.4,608.5L1011.3,608.7L1009.2,609.7L1008.1,609.9L1004.9,609.6L1002.8,610.1L1001.7,610L999.5,609.1L998.5,609.2L996.3,611L995.3,611.4L994.2,611.4L993.1,611.2L991,610.4L987.8,610.7L985.6,609.9L983.5,610L982.3,609.8L980.3,609L979.2,609L976,609.6L972.8,610.7L970.6,611L966.3,613.2L964.2,614.7L963.1,615.1L961,615.2L960,616.2L959.6,617.2L958.8,618.3L956.7,619.3L955.6,620.4L954.5,622.5L953.5,624.1L952.4,624.5L951.3,624.4L950.3,624.9L949.9,625.7L949.8,626.8L949.9,627.9L950.7,630L950.9,631L950.8,632.1L950.3,633L948.5,634.2L947.7,635.3L947.4,636.4L947.4,637.4L948.2,640.6L947.9,643.8L947.3,644.9L945.3,647L945,648.1L944.5,651.2L944.4,652.3L944.8,654.4L944.7,657.6L945.8,660.8L944.3,666.1L944,669.3L943,672.5L942.8,674.6L941.7,677.5L941.3,678.9L941.4,680L941.8,681L941.8,682.1L940.3,683.1L939.6,683.8L939.4,684.2L939.8,686.3L939.9,687.4L939.4,689.5L939.5,692.7L939.3,693.8L938.4,695.9L937.8,700.2L937.4,701.2L936.3,702.1L935.5,703.3L934.1,707.6L934,708.7L934.4,710.8L934.4,711.9L932.1,716.7L931,717.9L929.9,718.6L928.6,720.4L928.2,723.6L927.7,724.6L926.7,725.9L925.6,726.9L923.9,727.8L922.7,728.9L922,732.1L921.3,732.9L919.2,733.9L917.1,736L916,736.7L914.9,737L913.8,737.1L912.8,737.4L911.8,738.4L912.1,739.5L912,740.6L911.7,741L910.6,741.7L908.5,741.4L905.3,742L903.1,741.9L901,740.2L899.6,739.5L898.8,739.4L893.5,741L891.3,742L889.2,742.1L884.9,741.4L877.4,741.7L873.1,741.6L863.5,741.7L856,741.3L847.4,741.4L843.1,741.7L837.8,741.4L832.4,741.7L828.1,741.4L817.4,741.7L805.6,741.4L799.2,741.5L796,741.3L787.4,741.6L783.1,741.4L778.9,741.6L774.6,741.6L770.3,741.3L764.9,741.4L760.7,741.7L751,741.8L746.7,741.5L733.9,741.6L728.5,741.5L723.2,741.7L715.7,741.6L711.4,741.4L707.1,741.6L703.9,741.4L702.8,741.9L697.5,742L697.5,792.6L700.7,792.4L704.9,792.6L726.4,792.5L743.5,792.9L761.7,793.1L778.9,793.5L782.1,793.8L805.6,794.6L819.6,795.6L831.4,796.8L835.8,798L834.3,799L825.9,800.1L813.1,801L801.4,801.5L779.9,802.2L757.4,802.7L728.5,803.1L697.5,803.2L697.5,806L883.8,806L889.2,805.9L890.3,805.6L910.6,805.6L912.8,805.7L914.9,807.6L919.2,810.1L921,811.8L922.7,813.9L924.7,817.1L925.6,819.1L926.7,822.2L928.2,824.6L929.1,826.7L930.3,828.8L931.7,833.1L932.6,835.2L932.8,839.5L933.1,841.3L935.2,844.8L935.2,845.8L934.3,848L934.9,849L938.1,851.2L938.4,852.2L938.1,853.3L938.2,854.3L939.8,856.5L940.1,857.5L940,859.7L940.2,860.7L940.8,861.8L942.9,863.9L944.3,867.1L945.2,870.3L947,875.1L948.1,876.7L949.2,877.9L950.1,879.9L950.6,882L950.2,884.1L950.5,885.2L953.7,888.4L956.7,890.3L958.3,891.6L958.8,892.6L959.1,894.7L959.8,895.8L961,896.4L963.1,897.1L964.2,897.7L966.3,900.2L968.2,903.3L969.5,904.1L972.8,904.3L973.8,904.7L976,905.9L979.2,905.7L980.3,906.2L981.3,907.4L982.4,907.8L985.6,907.6L988.8,908.3L989.9,908.2L992,906.5L995.3,906.8L998.5,906.7L999.5,907L1001,908.6Z"/>
<path fill="#ff2500" d="M984.5,875.6L985.6,875.9L987.8,875.4L988.8,875.4L993.1,876.3L994.2,876L995.8,874.5L998.5,873.1L999.5,872.9L1001.7,872.9L1008.1,871.8L1009.2,871.2L1009.8,870.3L1010.3,869L1010.8,868.2L1011.3,867.8L1013.5,868.1L1014.5,868L1015.6,867.3L1018.7,862.8L1019.9,862L1021,861.8L1023.1,862.2L1024.2,861.8L1024.9,860.7L1025.9,858.6L1027.6,856.5L1029,854.3L1031.8,852.2L1032.6,850.1L1034.9,846.5L1037,845.3L1037.6,844.8L1037.9,843.7L1038,841.6L1038.5,840.5L1041,838.4L1041.9,837.3L1041.8,836.3L1041.3,835.7L1040.3,835.2L1039.8,834.1L1040.5,833.1L1042.4,831.8L1043,830.9L1043.1,829.9L1042.6,827.8L1043.4,824.6L1043.6,822.4L1042.6,818.2L1042.5,817.1L1042.8,815L1044.2,811.8L1043.7,808.6L1043.9,806.5L1045.1,804.4L1045.9,802.2L1046,801.2L1045.4,799L1045.5,796.9L1046.9,793.7L1046.7,793.3L1044.5,791.9L1044.4,791.6L1044.4,790.5L1045.6,789.2L1046.7,788.4L1047.1,787.4L1046.5,785.2L1046.4,784.2L1047,782L1047.1,781L1046.3,777.8L1046.7,774.6L1046.1,772.5L1046.4,771.4L1047,770.3L1047.2,769.3L1046.8,767.1L1047,766.1L1047.8,764L1047.9,762.9L1047.6,761.8L1045,758.6L1044.6,757.6L1044.4,756.5L1044.7,755.5L1046.7,753.1L1048,751.2L1048,750.1L1046.4,748L1045.1,744.8L1044.8,743.8L1044.7,740.6L1043.5,738.4L1043.7,737.4L1044.1,736.3L1043.7,734.2L1043.9,733.1L1045.3,731L1045.7,729.9L1045.4,728.9L1043.5,725L1043.1,723.6L1043.1,721.4L1043.4,719.3L1043.2,718.2L1042.4,717.2L1040.1,712.9L1039.7,711.9L1039.1,708.7L1039.2,706.5L1039,705.5L1038.1,704.7L1037,704.4L1036,703.3L1036,702.3L1037.3,699.1L1037.5,698L1037.6,697L1037.4,694.8L1037.6,692.7L1037.4,691.7L1036.8,690.6L1034.7,688.5L1034.1,687.4L1033.8,684.2L1031.7,680.7L1030.6,677.5L1030.2,673.6L1029.1,671.4L1028.9,670.4L1028.9,668.3L1028.5,667.2L1027.3,666.1L1023.8,664L1023.3,662.9L1023.4,660.8L1022.5,657.6L1020.7,653.4L1018.8,651.8L1014.5,649.7L1013.5,648.6L1012.4,646.9L1011.3,646L1009.2,645.3L1007,645.4L1006,645.3L1004.9,644.8L1003.8,643.8L1002.8,643.1L999.5,641.9L996.3,642L992,640.8L991,640.7L987.8,641.1L986.7,640.8L984.5,639.5L983.5,639.4L981.3,640.4L979.6,641.7L978.1,643.1L974.9,643.6L973,644.9L972.5,645.9L972.3,647L971.7,648.3L970.6,649.1L968.5,649.6L967.8,650.2L967.3,651.2L966.9,653.4L966.3,654.1L964.2,655.5L959.9,659.4L958.5,662.9L956.8,665.1L955.3,670.4L955.4,672.5L956.1,674.6L956.1,675.7L955.8,676.8L955.3,677.8L954.5,678.9L952.4,680.3L950.5,681L950,682.1L949.1,683.1L947.9,684.2L947.5,685.3L947.5,689.5L946.8,693.8L946,695.1L943.8,696.2L943.4,697L942.4,702.3L942.2,703.3L941,705.5L940.6,707.7L939.7,708.7L938.5,708.9L937.5,709.7L937.4,710.8L937.1,711.9L934.2,715L933.7,716.1L933.7,718.2L933.1,719.3L931,719.8L930.2,720.4L929.6,721.4L929.2,723.6L928.6,724.6L926.7,726.8L924.4,728.9L923.7,729.9L923.5,731L923.7,733.1L923.4,734.2L920.3,735.3L919.2,736.6L914.9,743L913.8,743.9L911.7,744.8L909.6,745.3L908.5,745.4L905.9,743.8L903.1,743.5L902.1,743.2L899.9,741.8L897.8,741.9L896.7,740.7L893.5,741.4L891.3,742.4L889.2,742.5L884.9,741.9L877.4,742.1L873.1,742L863.5,742.1L851.7,741.8L843.1,742L837.8,741.9L832.4,742.2L828.1,741.9L817.4,742.1L814.2,741.9L799.2,742L796,741.8L787.4,742.1L774.6,742L770.3,741.8L749.9,742.2L746.7,741.9L727.4,742L723.2,742.2L710.3,741.9L707.1,742L703.9,741.9L702.8,742.2L697.5,742.3L697.5,745.7L745.7,745.6L749.9,746.1L753.2,745.7L766,745.6L787.4,745.8L796,745.6L803.5,745.9L808.9,745.6L827.1,745.6L835.6,745.9L847.9,745.9L843.1,746L839.9,746.3L836.7,746.2L835.6,746.6L835.3,746.9L831.4,747.4L829.2,747.8L827.1,748.5L820.6,751.1L817,753.3L821.7,757.6L828.1,762.5L832.4,766.3L833.5,767.4L834.9,769.3L836.3,772.5L836.8,774.6L836.7,776.7L836.2,777.8L834.5,779.9L830.3,783.5L828.7,785.2L828,786.3L828,787.4L828.5,788.4L829.7,789.5L831.4,790.3L837.8,792.7L845.3,793.5L861.3,794.4L874.2,795.7L880.8,796.9L884.1,798L889.3,799L883.8,800.2L873.1,801.2L875.5,802.2L882.7,803.3L878.5,803.5L872.1,803.7L697.5,803.8L697.5,805.7L889.2,805.6L889.7,805.4L890.3,804.1L895.6,804.2L910.6,804.2L913.8,804.5L916,804.9L918.1,805.5L920.3,806.4L925.6,809.9L926.7,810.9L927.3,811.8L928.2,813.9L929.8,816.1L931.1,817.1L934.9,819.3L935.3,820.3L936.3,824.6L936.9,825.6L937.4,826.2L939.6,826.5L940.6,826.9L941.8,827.8L943.2,829.9L943.5,830.9L943.3,834.1L943.4,835.2L943.8,836.1L944.9,836.8L946.4,837.3L947,838.4L947.3,839.5L948.1,840.6L949.2,841L950.3,840.9L951.3,840.5L952.4,840.4L953.3,841.6L953.6,842.6L953.7,844.8L954.3,846.9L955.6,848.5L959.9,851.8L960.2,852.2L960.7,853.3L960.9,855.4L962.7,857.5L964.2,859.9L965.3,864L966.3,864.6L969.5,863.7L970.6,864.3L972.8,868L974.9,870.7L976,872.4L977,873.3L978.1,873.8L982.4,874.7Z"/>
<path fill="#da0000" d="M980,842.6L981.3,842.7L982.4,842.4L984.5,841.4L987.8,840.6L990.7,839.5L992.4,838.4L994.2,835.9L995.2,835.2L1001.7,833.2L1002.5,832L1002.8,830.9L1003.3,829.9L1003.8,829.6L1006,829.1L1006.2,828.8L1007.8,826.7L1014.6,819.3L1015.3,818.2L1015.3,815L1015.7,812.9L1017.4,809.7L1018.1,806.5L1018.7,805.4L1021,803.1L1021.3,802.2L1022.2,798L1023.5,795.9L1023.8,794.8L1023.9,791.6L1023.5,788.4L1024.3,786.3L1023.9,784.2L1023.9,783.1L1024.5,781L1024.4,779.9L1023.8,778.8L1023.8,777.8L1025.3,774.6L1025.6,773.5L1025.5,770.3L1025.7,769.3L1026.7,767.1L1026.9,764L1026.6,762.9L1025.2,761.4L1024.8,759.7L1025.1,758.6L1025.7,757.6L1026,756.5L1025.8,755.5L1025,753.3L1025.2,751.2L1024.6,749.1L1024.4,746.9L1023.9,745.9L1023.1,745.1L1022,744.4L1021.7,743.8L1021.5,742.7L1022,740.6L1021.2,737.4L1021.4,735.2L1021.2,734.2L1020.6,733.1L1018.3,731L1016.6,726.7L1016.4,725.7L1016.5,723.6L1016,720.4L1015.9,717.2L1015.6,715.9L1012.4,712L1011.3,711.4L1010.9,710.8L1010.3,707.6L1009.5,706.5L1008.1,705.5L1006.1,702.3L1005.7,701.2L1005.3,699.1L1004.9,698.7L1002.8,697.8L1001.7,696.3L1000.6,694.1L999.5,692.7L998.5,692L996.3,691.6L995.3,690.8L994.3,689.5L993.4,687.4L992,686.5L988.8,685.3L987.8,684.3L986.7,683.8L984.5,683.8L982.4,683.2L981.3,683.1L979.2,684.1L978.1,684L977,683.6L976,683.5L973.8,684.1L970.6,684.3L969.5,684.5L962,688.5L958.8,689.9L956.5,690.6L955.6,691.7L954.6,693.8L950.3,697.8L948,699.1L947,700L946.3,701.2L943.8,703.6L942.6,705.5L941.7,708.7L939.4,710.8L938.2,712.9L936.3,714.1L935.3,715.1L934.9,716.1L934.9,717.2L935.7,719.3L935.5,720.4L934.2,721.1L932.1,721.2L931.4,721.4L931.1,723.6L928.8,725.6L925.1,729.9L924.7,731L924.5,734.2L923.7,735.2L921.3,736L920.3,736.8L916.2,742.7L914.9,744.2L913.8,745L911.7,745.7L909.6,746.7L908.5,746.9L904.2,747L901.3,745.9L899.9,744.6L898.8,744.1L897.8,744.1L894.7,744.8L890.3,746.4L887.1,747.3L878.5,748.5L872.1,750.9L869.6,752.3L865.3,755.5L863.5,757.1L863.1,757.6L863.1,758.6L863.1,762.9L863.8,770.3L864.6,776.6L865.3,779.9L866,782L866.7,783.3L867.8,784.6L869.8,786.3L874.2,788.8L879.6,791.2L887.1,794L889.2,795.1L893.5,796.2L897.8,797.6L899.9,797.9L903.1,798.1L910.3,800.1L917.1,801.7L924.5,804.4L926.7,805.4L929.9,807.3L933.1,808.5L933.1,809.7L932.4,810.7L932.2,811.8L933.1,812.9L934.2,812.9L935.3,813.3L936.3,814L937.4,814.1L939.6,813.8L940.6,814.4L941.1,815L941.8,817.1L942.8,817.9L944.9,818.4L946,819.1L947,820.3L948.5,823.5L949.9,825.6L950.7,827.8L951.3,828.6L952.4,828.9L954.5,828.9L955.6,829.1L956.8,829.9L957.9,832L958.8,833.1L963.1,833.8L966.3,835.1L968.1,836.3L972.8,840.1L974.9,839.8L976,839.9L977,840.4L979.2,842.3ZM697.5,805.4L862.8,805.4L870.4,804.4L697.5,804.3ZM697.5,745.2L708.2,745.3L719.9,745.1L738.2,745.2L745.7,745.1L749.9,745.4L766,745.1L787.4,745.3L796,745L803.5,745.3L813.1,745.1L880.6,745.4L881.7,744.4L884.9,744.6L888.1,745.1L892.4,744.3L893.5,743.3L894.6,743.3L895.6,742.1L896.3,741.6L895.6,741.3L894.6,741.5L891.3,743L889.2,743.1L888.1,743.1L886,742.4L884.9,742.4L878.5,742.6L873.1,742.4L863.5,742.6L857.1,742.3L837.8,742.3L832.4,742.6L828.1,742.3L817.4,742.5L796,742.3L787.4,742.5L766,742.3L758.5,742.6L754.2,742.5L749.9,742.7L746.7,742.3L727.4,742.4L723.2,742.6L719.9,742.4L703.9,742.4L697.5,742.6Z"/>
<path fill="#9b0000" d="M952.6,810.7L953.5,810.9L956.7,810.9L958.8,810.2L962,811L965.3,810.2L966.3,810.1L970.6,810.5L972.8,809.9L973.8,809.1L974.8,807.6L976,807.1L977,807.3L979.2,808.1L980.3,808.1L980.8,807.6L982.4,805L983.5,804.2L984.5,804.7L985.6,804.7L985.9,804.4L986.1,803.3L985.9,802.2L986.2,801.2L990.2,795.9L990.3,794.8L989.6,792.7L989.9,792.1L990.9,791.6L992,791.3L993.1,790.7L998.5,784.6L999.5,783.1L999.6,782L999.2,781L997.5,777.8L997.8,776.7L998.5,775.7L998.8,774.6L998.6,773.5L998,772.5L997.1,771.4L996.7,770.3L996.7,769.3L997.4,767.1L997.7,764L997.4,762.8L995.3,762.1L994.2,760.8L994.1,759.7L994.4,758.6L995.5,756.5L995.7,755.5L995.3,754.4L993.3,752.3L992.4,750.1L992.2,749.1L992.2,746.9L991.6,744.8L991.4,741.6L991,740.7L988.2,738.4L987.6,736.3L986.7,734.9L985.6,734L983.4,733.1L982.6,732.1L982.4,728.9L981.1,726.7L979.2,722.6L978.3,721.4L976,720.3L974.9,719.6L973.8,718.1L972.8,717L967.4,715.1L964.2,715L963.1,715.3L959.9,716.8L957.8,717.1L954.5,717L953.5,717.3L950.3,718.8L949.2,719L947,718.8L943.8,719.6L942.8,720.4L940.6,723L936.3,725.1L934.2,726.9L933.1,727.5L929.9,728L927.8,729.9L926.2,731L925.6,731.9L925.4,734.2L925,735.2L923.5,736.5L921.6,737.4L920.9,738.4L920.9,739.5L920.3,740.3L918.1,741.9L914.9,745.3L911,746.9L909.6,748L908.5,748.4L906.3,748.2L905.3,748.4L904.2,749L902.6,751.2L902.1,752.4L901,753.8L899.9,754L898.8,754L897.8,754.4L896.1,755.5L895.1,756.5L893.9,758.6L892.9,760.8L892.4,762.8L892,769.3L893.1,774.6L894.9,777.8L895.2,778.8L895.6,783.1L896.1,784.2L897.8,785.6L899.2,787.4L900.3,788.4L904.2,790.6L908.5,791L913.8,790.9L914.9,791.1L918.1,792.6L920.3,793.9L923.5,795.3L924.6,795.6L927.5,795.9L927.8,796L928.1,796.9L928.6,799L929.4,800.1L931,801.4L932.1,801.8L933.1,801.9L937.4,802.2L939.6,803.7L940.6,804.2L943.8,804.2L944.9,804.6L948.1,806.5L949.3,807.6L949.8,808.6L950.7,809.7ZM697.5,744.7L709.2,744.6L711.4,744.4L715.7,744.4L719.9,744.1L725.3,744.5L731.7,744.3L738.2,744.5L741.4,744.2L745.7,744.2L749.9,744.8L753.2,744.5L766,744.1L787.4,744.4L791.7,744.4L796,744L803.5,744.4L813.1,744.1L816.4,744.3L827.1,744.2L835.6,744.4L845.3,744.1L848.5,744.3L859.2,744.4L873.1,744.2L885.9,743.8L883.8,743.5L877.4,743.5L873.1,743.1L871,743.3L867.8,743.2L863.5,743.4L857.1,743L851.7,742.9L842.1,743.1L836.7,743L832.4,743.5L829.2,743L820.6,743L817.4,743.3L814.2,743L796,742.9L790.6,743L787.4,743.4L784.2,743.1L778.9,743.2L771.4,743L764.9,743L758.5,743.4L754.2,743.2L749.9,743.6L746.7,743L738.2,743.1L734.9,743.3L727.4,743.2L724.2,743.4L721,743.3L710.3,743.2L698.5,743.4L697.5,743.5Z"/>
<path d="M693.6,712.6L913.1,712.6L913.1,566.3L1097.2,566.3L1097.2,956.5L913.1,956.5L913.1,809.1L693.6,809.1M709.8,556.0L709.8,627.9L906.9,627.9M906.9,556.0L906.9,712.6M900.6,627.9L900.6,712.6M709.8,966.6L709.8,893.9L906.9,893.9M906.9,966.6L906.9,809.1M900.6,893.9L900.6,809.1" fill="none" stroke="#fff" stroke-opacity="0.42" stroke-width="1.5"/>
<line x1="697.5" x2="1103.5" y1="862.7" y2="862.7" stroke="#fff" stroke-opacity="0.28" stroke-width="1"/>
</g>
<rect x="697.45" y="559.80" width="406.00" height="403.00" fill="none" stroke="#000" stroke-width="1.70"/>
<text x="697.5" y="989.0" text-anchor="middle" font-family='"DejaVu Sans", "Liberation Sans", sans-serif' font-size="19.4" fill="#000">0.0</text>
<text x="793.7" y="989.0" text-anchor="middle" font-family='"DejaVu Sans", "Liberation Sans", sans-serif' font-size="19.4" fill="#000">2.5</text>
<text x="890.0" y="989.0" text-anchor="middle" font-family='"DejaVu Sans", "Liberation Sans", sans-serif' font-size="19.4" fill="#000">5.0</text>
<text x="986.2" y="989.0" text-anchor="middle" font-family='"DejaVu Sans", "Liberation Sans", sans-serif' font-size="19.4" fill="#000">7.5</text>
<text x="1082.5" y="989.0" text-anchor="middle" font-family='"DejaVu Sans", "Liberation Sans", sans-serif' font-size="19.4" fill="#000">10.0</text>
<text x="896.5" y="1027.4" text-anchor="middle" font-family='"Liberation Sans", sans-serif' font-size="32.5" fill="#000">r (cm)</text>
<path d="M697.45,963.65v6.40M793.70,963.65v6.40M889.96,963.65v6.40M986.21,963.65v6.40M1082.47,963.65v6.40" stroke="#000" stroke-width="1.70" fill="none"/>
<text x="696.1" y="542.8" font-family='"Liberation Sans", sans-serif' font-size="32.2" fill="#000">(e) 100 mTorr</text>
<rect x="1157.45" y="881.90" width="20.50" height="81.20" fill="#0000f1"/>
<rect x="1157.45" y="801.30" width="20.50" height="81.20" fill="#00b0ff"/>
<rect x="1157.45" y="720.70" width="20.50" height="81.20" fill="#7dff7a"/>
<rect x="1157.45" y="640.10" width="20.50" height="81.20" fill="#ffc400"/>
<rect x="1157.45" y="559.50" width="20.50" height="81.20" fill="#f10800"/>
<rect x="1157.45" y="559.80" width="20.50" height="403.00" fill="none" stroke="#000" stroke-width="1.70"/>
<text x="1189.2" y="567.3" font-family='"DejaVu Sans", "Liberation Sans", sans-serif' font-size="19.4" fill="#000">4.4</text>
<text x="1189.2" y="647.9" font-family='"DejaVu Sans", "Liberation Sans", sans-serif' font-size="19.4" fill="#000">3.5</text>
<text x="1189.2" y="728.5" font-family='"DejaVu Sans", "Liberation Sans", sans-serif' font-size="19.4" fill="#000">2.6</text>
<text x="1189.2" y="809.1" font-family='"DejaVu Sans", "Liberation Sans", sans-serif' font-size="19.4" fill="#000">1.7</text>
<text x="1189.2" y="889.7" font-family='"DejaVu Sans", "Liberation Sans", sans-serif' font-size="19.4" fill="#000">0.9</text>
<text x="1189.2" y="970.3" font-family='"DejaVu Sans", "Liberation Sans", sans-serif' font-size="19.4" fill="#000">0.0</text>
<path d="M1178.80,559.80h6.40M1178.80,640.40h6.40M1178.80,721.00h6.40M1178.80,801.60h6.40M1178.80,882.20h6.40M1178.80,962.80h6.40" stroke="#000" stroke-width="1.70" fill="none"/>
<text x="1213.5" y="543.1" text-anchor="end" font-family='"Liberation Sans", sans-serif' font-size="32.2" fill="#000">T<tspan font-size="22.5" dx="-3" dy="8.0">e</tspan><tspan dy="-8.0"> </tspan>(eV)</text></g>
<g><clipPath id="c21"><rect x="1308.15" y="558.90" width="406.00" height="403.10"/></clipPath>
<g clip-path="url(#c21)">
<rect x="1307.15" y="557.90" width="408.00" height="405.10" fill="#00009b"/>
<path fill="#0000da" d="M1308.2,962L1714.2,962L1714.2,558.9L1320,558.9L1320.7,562.8L1322.5,579.1L1324,589.7L1325.6,597.6L1327.5,603.9L1328.5,606.2L1329.9,608.9L1331.4,611.1L1333.3,613.2L1335.3,614.9L1337.2,616.2L1339.2,617.2L1342.1,618.4L1346.9,619.7L1352.7,620.8L1360.5,621.7L1369.2,622.3L1390.5,623L1444.8,623.6L1468,624.2L1491.3,625.4L1509.7,626.8L1510.7,626.9L1511.1,627.2L1511.5,629.1L1511.6,633L1511.6,710.9L1510.7,711.8L1499,712.2L1490.3,712.8L1474.8,713.5L1308.2,713.5Z"/>
<path fill="#0004ff" d="M1308.2,962L1714.2,962L1714.2,558.9L1320.2,558.9L1320.9,560.8L1323.7,574.5L1326,583.9L1328.5,591.5L1331.4,598L1334.3,602.6L1336.3,604.9L1338.4,607L1340.8,608.9L1343,610.3L1345.9,611.8L1348.8,613L1354.4,614.7L1360.5,615.9L1368.2,617L1377.9,617.8L1397.3,618.7L1449.6,619.8L1463.2,620.5L1474.8,621.3L1485.5,622.4L1496.1,623.9L1510.7,626.6L1511.5,627.2L1511.8,628.2L1512,633L1512,710.9L1511.6,711.1L1510.7,712.1L1501.9,712.6L1489.3,713.9L1475.8,714.8L1308.2,714.9Z"/>
<path fill="#003cff" d="M1308.2,962L1714.2,962L1714.2,558.9L1320.4,558.9L1324.6,572.1L1327.5,580.2L1330.9,587.8L1334.3,593.6L1336.3,596.3L1338.2,598.5L1340.1,600.5L1343,602.9L1347.9,605.9L1353.7,608.4L1359.5,610.1L1365.3,611.4L1373.1,612.5L1381.8,613.4L1399.2,614.3L1447.7,615.9L1460.3,616.6L1471.9,617.7L1483.5,619.4L1495.2,621.7L1506.8,624.9L1510.7,626.3L1511.6,627L1512.1,628.2L1512.3,633L1512.4,710.9L1511.6,711.3L1510.7,712.4L1500,713.3L1489.3,714.8L1475.8,715.8L1308.2,715.9Z"/>
<path fill="#0070ff" d="M1308.2,962L1714.2,962L1714.2,558.9L1320.7,558.9L1325.6,570.7L1328.5,576.9L1332.4,583.9L1336.3,589.4L1340.1,593.7L1345,597.8L1347.9,599.7L1350.8,601.3L1356.6,603.8L1362.4,605.6L1368.2,606.9L1375,608L1383.7,608.9L1400.2,610L1446.7,611.9L1460.3,612.9L1470.9,614.2L1482.6,616.3L1493.2,619.1L1499,620.9L1504.9,623.1L1508.7,624.8L1510.7,625.8L1511.6,626.5L1512.2,627.2L1512.4,628.2L1512.7,633L1512.8,710.9L1511.6,711.5L1510.7,712.6L1500,713.8L1489.3,715.6L1481.6,716.3L1475.8,716.7L1308.2,716.8Z"/>
<path fill="#00a8ff" d="M1308.2,962L1714.2,962L1714.2,558.9L1320.9,558.9L1325.6,568L1329.5,574.6L1333.3,580.3L1338.2,586.2L1343,590.8L1347.9,594.3L1352.7,596.9L1358.5,599.3L1364.4,601.1L1370.2,602.5L1376.9,603.6L1384.7,604.5L1401.2,605.7L1433.1,607.1L1446.7,607.9L1459.3,609L1470,610.5L1475.8,611.6L1481.6,613L1491.3,616L1497.1,618.2L1501.9,620.4L1506.8,622.8L1510.7,625.2L1511.6,626L1512.5,627.2L1512.9,629.1L1513,631.1L1513.2,710.9L1511.6,711.7L1510.7,712.9L1499,714.5L1489.3,716.3L1481.6,717.2L1475.8,717.6L1308.2,717.7Z"/>
<path fill="#00dcfe" d="M1308.2,962L1714.2,962L1714.2,558.9L1321,558.9L1321.7,560.2L1325.6,566L1330.4,572.8L1334.3,577.6L1339.2,582.6L1344,586.7L1348.8,590L1354.7,593L1360.5,595.2L1366.3,597L1372.1,598.2L1378.9,599.4L1385.7,600.2L1401.2,601.4L1433.1,603L1445.7,603.8L1458.3,605L1469,606.7L1474.8,607.9L1479.7,609.2L1485.5,611.1L1490.3,612.9L1495.2,615.1L1501,618.1L1505.8,621L1509.7,623.6L1511.6,625.3L1512.6,626.7L1513.1,628.2L1513.4,631.1L1513.6,710.9L1512.6,711.2L1511.6,711.8L1511.5,712.8L1510.7,713.3L1501.3,714.8L1489.3,717.2L1481.6,718.1L1475.8,718.5L1308.2,718.7Z"/>
<path fill="#26ffd1" d="M1308.2,962L1714.2,962L1714.2,558.9L1321.2,558.9L1321.7,559.8L1325.6,564.5L1331.4,571.3L1336.3,576.2L1341.1,580.4L1345.9,583.8L1350.8,586.7L1355.6,589L1361.4,591.1L1367.3,592.8L1373.1,594L1379.9,595.1L1386.6,596L1401.2,597.2L1432.2,598.7L1444.8,599.6L1457.4,600.9L1468,602.7L1473.8,604L1478.7,605.4L1483.5,607L1488.4,609L1493.2,611.4L1498.1,614.1L1502.9,617.3L1506.8,620.2L1510.7,623.5L1512.6,625.8L1513.2,627.2L1513.7,630.1L1513.9,710.9L1512.6,711.4L1511.8,711.9L1511.9,712.8L1511.6,713.3L1510.7,713.8L1500.1,715.7L1490.3,718L1481.6,719.1L1475.8,719.5L1308.2,719.7Z"/>
<path fill="#50ffa7" d="M1308.2,962L1714.2,962L1714.2,558.9L1321.4,558.9L1321.7,559.5L1325.6,563.4L1332.4,569.9L1337.2,574.1L1342.1,577.6L1346.9,580.6L1351.8,583.2L1356.6,585.2L1362.4,587.2L1367.3,588.5L1373.1,589.8L1379.9,590.9L1386.6,591.7L1401.2,592.9L1432.2,594.6L1443.8,595.3L1455.4,596.5L1465.1,598.1L1470.9,599.3L1475.8,600.7L1480.6,602.3L1485.5,604.3L1490.3,606.7L1494.2,608.9L1498.1,611.5L1501.9,614.4L1507.8,619.5L1511.6,623.6L1513.3,626.2L1514,629.1L1514.2,635.9L1514.3,710.9L1512,711.9L1512.1,712.8L1511.7,713.8L1510.7,714.3L1499.5,716.7L1490.3,718.9L1482.6,720L1476.8,720.5L1308.2,720.8Z"/>
<path fill="#7dff7a" d="M1308.2,962L1714.2,962L1714.2,558.9L1321.5,558.9L1326.6,563.3L1332.4,567.9L1337.2,571.4L1342.1,574.5L1346.9,577.2L1351.8,579.5L1356.6,581.4L1362.4,583.2L1367.3,584.5L1373.1,585.7L1379.9,586.7L1386.6,587.5L1401.2,588.7L1442.8,591L1454.5,592.2L1464.2,593.7L1473.8,596L1478.7,597.6L1482.6,599.1L1486.4,600.9L1490.3,603L1494.2,605.5L1498.1,608.4L1503.9,613.6L1509.7,619.9L1512.6,623.9L1513.8,626.2L1514.3,628.2L1514.6,634.9L1514.7,710.9L1512.2,711.9L1512.4,712.8L1512.1,713.8L1511.6,714.6L1510.7,715L1499.3,717.6L1490.3,720L1482.6,721.1L1476.8,721.6L1308.2,721.9Z"/>
<path fill="#a7ff50" d="M1308.2,962L1714.2,962L1714.2,558.9L1321.7,558.9L1333.3,566.8L1338.2,569.7L1343,572.3L1347.9,574.5L1352.7,576.5L1357.6,578.1L1363.4,579.7L1374,581.8L1387.6,583.5L1402.1,584.6L1441.9,586.7L1452.5,587.7L1462.2,589L1471.9,591.1L1476.8,592.6L1480.6,594L1484.5,595.7L1488.4,597.8L1491.3,599.6L1495.2,602.4L1499,605.8L1501.9,608.6L1507.8,615.4L1510.7,619.4L1512.6,622.5L1513.9,625.3L1514.5,627.5L1514.8,630.1L1515,634.9L1515.1,710.9L1512.4,711.9L1512.7,712.8L1512.6,713.8L1511.6,715.3L1510.7,715.7L1490.3,721.1L1482.6,722.2L1476.8,722.7L1308.2,723Z"/>
<path fill="#d1ff26" d="M1308.2,962L1714.2,962L1714.2,558.9L1322.2,558.9L1333.3,565.2L1343,569.7L1347.9,571.6L1352.7,573.3L1362.4,575.9L1374,578L1386.6,579.4L1401.2,580.4L1441.9,582.4L1452.5,583.3L1462.2,584.6L1471.9,586.6L1476.8,588L1480.6,589.4L1484.5,591.1L1487.4,592.6L1491.3,595.1L1494.2,597.2L1498.1,600.7L1501,603.7L1503.9,607.2L1506.8,611.2L1509.7,615.7L1512.6,620.9L1514.1,624.3L1514.9,627.2L1515.2,630.1L1515.3,634.9L1515.4,710.9L1512.7,711.9L1513.1,712.8L1513.1,713.8L1512.8,714.8L1511.6,716.2L1510.7,716.6L1491.3,722.1L1484.5,723.2L1477.7,723.9L1473.8,724L1308.2,724.3Z"/>
<path fill="#feed00" d="M1308.2,962L1714.2,962L1714.2,558.9L1322.6,558.9L1334.3,564.1L1343,567.3L1352.7,570.2L1362.4,572.4L1374,574.2L1386.6,575.4L1401.2,576.3L1441.9,578L1453.5,578.9L1462.2,580L1471.9,581.8L1479.7,584.1L1483.5,585.6L1487.4,587.5L1490.3,589.2L1493.2,591.3L1497.1,594.7L1500,597.7L1502.9,601.4L1505.8,605.6L1508.7,610.6L1511.6,616.4L1514.1,622.4L1515.2,626.2L1515.6,629.1L1515.7,633.9L1515.8,710.9L1514.5,711.5L1513.2,711.9L1513.6,712.8L1513.6,713.8L1513.5,714.8L1513,715.7L1512.3,716.7L1511.6,717.3L1510.7,717.7L1491.3,723.4L1486.4,724.2L1478.7,725.1L1473.8,725.3L1308.2,725.6Z"/>
<path fill="#ffbd00" d="M1308.2,962L1714.2,962L1714.2,558.9L1323.3,558.9L1336.3,563.2L1346.9,566.1L1357.6,568.3L1369.2,570L1379.9,571L1392.5,571.8L1434.1,573.3L1446.7,573.9L1457.4,574.7L1467.1,576L1475.8,577.7L1482.6,579.8L1488.4,582.3L1491.3,584L1494.2,586.1L1498.1,589.5L1501,592.8L1503.9,596.9L1506.5,601.2L1508.7,605.8L1511.6,612.7L1514,619.5L1515.5,625.3L1515.9,628.2L1516.1,633L1516.2,710.9L1515.5,711.4L1513.8,711.9L1514.2,712.8L1514.4,713.8L1514,715.7L1512.6,717.7L1511.6,718.6L1510.7,719L1501.9,721.9L1491.3,724.9L1485.5,725.8L1478.7,726.6L1473.8,726.8L1308.2,727.1Z"/>
<path fill="#ff8900" d="M1308.2,962L1714.2,962L1714.2,558.9L1324.6,558.9L1337.2,561.8L1347.9,563.9L1358.5,565.4L1370.2,566.6L1380.8,567.3L1393.4,567.9L1446.7,569.4L1458.3,570.1L1468,571.1L1476.8,572.5L1484.5,574.5L1487.4,575.6L1490.9,577.2L1493.2,578.5L1496.1,580.5L1499,583L1502.3,586.8L1504.9,590.6L1507.8,596.3L1510.1,602.2L1512.6,610.1L1514.5,617.5L1515.9,624.3L1516.3,628.2L1516.4,633L1516.5,710.9L1515.5,711.6L1514.6,711.9L1515,712.8L1515.2,713.8L1515,715.7L1514.5,716.9L1513.6,718.4L1511.6,720.1L1502.9,723.2L1492.3,726.3L1489.3,726.9L1480.6,727.9L1473.8,728.3L1308.2,728.6Z"/>
<path fill="#ff5900" d="M1308.2,962L1714.2,962L1714.2,558.9L1327.4,558.9L1338.2,560.4L1348.8,561.6L1359.5,562.5L1370.2,563.2L1392.5,563.9L1447.7,564.9L1460.3,565.4L1470.9,566.2L1480.6,567.4L1488.4,569.1L1492.3,570.4L1495.2,571.7L1498,573.3L1500,574.8L1502.9,577.5L1505.6,581L1507.8,585L1509.7,589.8L1511.4,595.5L1513,602.2L1514.5,610.2L1516.1,620.5L1516.7,626.2L1516.9,632L1517,710.9L1516.5,711.6L1515.8,711.9L1516.1,712.8L1516.3,714.8L1516,716.7L1515.6,717.6L1514.5,719.3L1513.6,720.4L1511.6,721.9L1502.9,725.1L1493.2,727.9L1489.3,728.7L1481.6,729.6L1473.8,729.9L1308.2,730.3Z"/>
<path fill="#ff2500" d="M1308.2,962L1714.2,962L1714.2,558.9L1341.7,558.9L1373.1,559.8L1452.5,560.4L1467.1,560.7L1478.7,561.2L1489.3,562L1497.1,563.3L1500,564.1L1502.9,565.2L1504.9,566.3L1506.8,567.7L1508.7,569.7L1510.4,572.4L1511.6,575.1L1512.6,578.1L1513.6,582.3L1514.5,587.8L1515.8,601.2L1516.9,618.5L1517.3,627.2L1517.4,709.9L1517.4,711.6L1518,712.8L1518.1,713.8L1518.1,715.7L1517.4,718.6L1516.3,720.5L1513.6,723.3L1511.6,724.6L1502.9,727.8L1495.2,729.9L1490.3,730.9L1482.6,731.7L1473.8,732.1L1308.2,732.6Z"/>
<path fill="#da0000" d="M1590.1,947.6L1618.2,948.2L1628.9,948.1L1638.6,947.8L1650.2,947.1L1660.9,946.2L1666.7,945.4L1672.5,944L1677.3,942.2L1681.2,940.2L1685.1,937.4L1688.4,934.1L1690.9,930.4L1692.8,926.4L1694.4,921.6L1695.9,915.8L1697.1,908.1L1698.3,896.6L1699.7,876.4L1700.8,857.1L1701.7,827.3L1702.3,780.2L1702.2,741.7L1701.2,689.7L1699.7,652.2L1698.6,632L1697.8,620.5L1696.5,610.9L1695.5,606L1694.5,602.2L1693.2,598.3L1691.9,595.1L1690.5,592.6L1688.5,589.7L1686,586.9L1684.1,585.1L1682.2,583.7L1679.3,581.9L1676.4,580.6L1672.5,579.1L1668.6,578L1664.7,577.1L1657,575.8L1648.3,574.8L1639.5,574.1L1626.9,573.5L1616.3,573.3L1605.6,573.2L1587.2,573.5L1575.6,573.8L1563,574.8L1557.2,575.6L1553.3,576.3L1550.4,577.2L1546.5,579L1543.6,580.9L1541.3,583L1539.6,584.9L1537.6,587.8L1536,590.6L1534.8,593.5L1533,600.3L1531.4,609.9L1530.8,615.7L1530.4,623.4L1529.4,655.1L1528.1,684.9L1527.1,698.4L1525.8,709L1525.1,709.9L1524.2,710.4L1523.3,711.6L1522.2,711.9L1522.4,714.8L1522.1,717.6L1521.2,720.5L1519.6,723.4L1517.9,725.3L1515.8,727.3L1513.6,728.8L1511.6,729.8L1504.9,732.3L1500,733.6L1490.3,735.1L1478.7,735.8L1308.2,736.4L1308.2,807.3L1484.5,807.3L1496.1,808.1L1523.3,808.5L1523.9,809L1524.2,810.2L1524.8,811L1527.3,837.9L1528,848.5L1529.6,882.1L1530.4,894.7L1531.3,904.3L1532.3,911L1533.5,916.8L1535.3,922.6L1537.2,927.4L1538.7,930.3L1540.5,933.1L1542,935.1L1543.8,937L1547.5,939.9L1550.4,941.5L1553.3,942.8L1559.1,944.7L1566.9,946L1576.6,946.9Z"/>
<path fill="#9b0000" d="M1598.8,913.9L1607.6,914.6L1614.3,914.6L1622.1,913.7L1630.8,911.9L1636.6,910L1642.4,907.2L1648.3,903.6L1653.5,899.5L1657.9,895.1L1662.2,889.8L1665.8,884.1L1669.2,877.3L1672.2,869.6L1674.9,861L1677.3,851.4L1678.8,842.7L1680.5,827.3L1681.8,808.1L1682.9,779.2L1683.1,759L1682.6,737.8L1681.7,721.5L1679.7,703.2L1677.1,686.9L1674.4,672.4L1671.7,661.8L1669.9,656.1L1668.1,651.3L1666,646.4L1664.1,642.6L1662,638.8L1659.5,634.9L1657,631.5L1654.1,628.1L1651.2,625.1L1648,622.4L1644.4,619.6L1640.5,617.2L1635.9,614.7L1631.8,612.8L1627.9,611.4L1623.1,610.1L1617.3,609.1L1610.5,608.3L1604.7,608.1L1599.8,608.4L1594,609L1589.2,609.8L1584.3,610.9L1580.4,612.2L1575.6,614.4L1571.7,616.6L1567.8,619.3L1564.2,622.4L1561.4,625.3L1559.1,628L1555,633.9L1551.4,640.7L1547.8,649.3L1545.9,655.1L1544.3,660.9L1536.8,690.7L1534.9,699.5L1532.9,710.9L1532,711.8L1530.9,711.9L1530,718.2L1529.5,719.6L1529,721.5L1528.5,722.4L1528.1,723.5L1527.1,725.4L1525.2,728.3L1521.5,732.1L1519.2,734L1516.5,735.7L1514.5,736.8L1512.1,737.8L1505.8,739.8L1501,740.6L1496.8,740.7L1308.2,741.5L1308.2,803.5L1484.5,803.5L1502.9,803.1L1511.6,803.4L1516.5,803.8L1521.3,804.8L1524.2,806.2L1526.7,808.1L1528.3,810L1530.2,812.9L1531.5,815.8L1532.9,819.6L1534.6,825.4L1541.5,852.3L1545.1,863.9L1548.1,871.6L1550.7,877.3L1554.2,884.1L1557.3,888.9L1561.1,893.8L1565.6,898.5L1570.2,902.4L1575.6,906L1581.1,909.1L1586.2,911.3L1591.1,912.6Z"/>
<path d="M1304.3,711.8L1523.8,711.8L1523.8,565.4L1707.9,565.4L1707.9,955.7L1523.8,955.7L1523.8,808.2L1304.3,808.2M1320.5,555.1L1320.5,627.0L1517.6,627.0M1517.6,555.1L1517.6,711.8M1511.3,627.0L1511.3,711.8M1320.5,965.8L1320.5,893.1L1517.6,893.1M1517.6,965.8L1517.6,808.2M1511.3,893.1L1511.3,808.2" fill="none" stroke="#fff" stroke-opacity="0.42" stroke-width="1.5"/>
</g>
<rect x="1308.15" y="558.90" width="406.00" height="403.10" fill="none" stroke="#000" stroke-width="1.70"/>
<text x="1308.2" y="988.2" text-anchor="middle" font-family='"DejaVu Sans", "Liberation Sans", sans-serif' font-size="19.4" fill="#000">0.0</text>
<text x="1404.4" y="988.2" text-anchor="middle" font-family='"DejaVu Sans", "Liberation Sans", sans-serif' font-size="19.4" fill="#000">2.5</text>
<text x="1500.7" y="988.2" text-anchor="middle" font-family='"DejaVu Sans", "Liberation Sans", sans-serif' font-size="19.4" fill="#000">5.0</text>
<text x="1596.9" y="988.2" text-anchor="middle" font-family='"DejaVu Sans", "Liberation Sans", sans-serif' font-size="19.4" fill="#000">7.5</text>
<text x="1693.2" y="988.2" text-anchor="middle" font-family='"DejaVu Sans", "Liberation Sans", sans-serif' font-size="19.4" fill="#000">10.0</text>
<text x="1507.2" y="1026.6" text-anchor="middle" font-family='"Liberation Sans", sans-serif' font-size="32.5" fill="#000">r (cm)</text>
<path d="M1308.15,962.85v6.40M1404.40,962.85v6.40M1500.66,962.85v6.40M1596.91,962.85v6.40M1693.17,962.85v6.40" stroke="#000" stroke-width="1.70" fill="none"/>
<text x="1306.8" y="541.4" font-family='"Liberation Sans", sans-serif' font-size="32.2" fill="#000">(f) 100 mTorr</text>
<rect x="1768.10" y="881.08" width="20.50" height="81.22" fill="#0000f1"/>
<rect x="1768.10" y="800.46" width="20.50" height="81.22" fill="#00b0ff"/>
<rect x="1768.10" y="719.84" width="20.50" height="81.22" fill="#7dff7a"/>
<rect x="1768.10" y="639.22" width="20.50" height="81.22" fill="#ffc400"/>
<rect x="1768.10" y="558.60" width="20.50" height="81.22" fill="#f10800"/>
<rect x="1768.10" y="558.90" width="20.50" height="403.10" fill="none" stroke="#000" stroke-width="1.70"/>
<text x="1799.9" y="566.4" font-family='"DejaVu Sans", "Liberation Sans", sans-serif' font-size="19.4" fill="#000">11.9</text>
<text x="1799.9" y="647.0" font-family='"DejaVu Sans", "Liberation Sans", sans-serif' font-size="19.4" fill="#000">-5.4</text>
<text x="1799.9" y="727.6" font-family='"DejaVu Sans", "Liberation Sans", sans-serif' font-size="19.4" fill="#000">-22.7</text>
<text x="1799.9" y="808.3" font-family='"DejaVu Sans", "Liberation Sans", sans-serif' font-size="19.4" fill="#000">-40.0</text>
<text x="1799.9" y="888.9" font-family='"DejaVu Sans", "Liberation Sans", sans-serif' font-size="19.4" fill="#000">-57.2</text>
<text x="1799.9" y="969.5" font-family='"DejaVu Sans", "Liberation Sans", sans-serif' font-size="19.4" fill="#000">-74.5</text>
<path d="M1789.45,558.90h6.40M1789.45,639.52h6.40M1789.45,720.14h6.40M1789.45,800.76h6.40M1789.45,881.38h6.40M1789.45,962.00h6.40" stroke="#000" stroke-width="1.70" fill="none"/>
<text x="1814.0" y="541.5" text-anchor="end" font-family='"Liberation Sans", sans-serif' font-size="32.2" fill="#000"><tspan font-family='"DejaVu Math TeX Gyre", "DejaVu Serif", serif' font-size="30.5">ϕ</tspan> (V)</text></g></svg>
</body></html>
